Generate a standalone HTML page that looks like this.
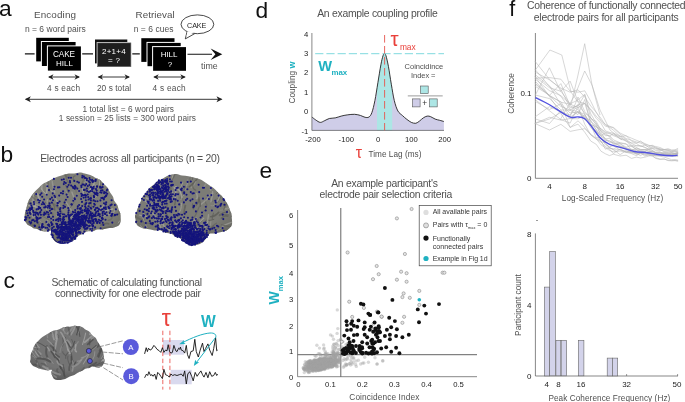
<!DOCTYPE html>
<html><head><meta charset="utf-8"><title>Figure 1</title>
<style>html,body{margin:0;padding:0;background:#fff}svg{display:block}</style></head>
<body>
<svg width="685" height="402" viewBox="0 0 685 402" font-family='"Liberation Sans", sans-serif'>
<rect width="685" height="402" fill="#fff"/>
<text x="-1" y="16.2" font-size="22.8" fill="#111" text-anchor="start" font-weight="normal" >a</text>
<text x="0.6" y="162.2" font-size="22.8" fill="#111" text-anchor="start" font-weight="normal" >b</text>
<text x="3.6" y="287.9" font-size="22.8" fill="#111" text-anchor="start" font-weight="normal" >c</text>
<text x="255.6" y="18.1" font-size="22.8" fill="#111" text-anchor="start" font-weight="normal" >d</text>
<text x="259.4" y="178.4" font-size="22.8" fill="#111" text-anchor="start" font-weight="normal" >e</text>
<text x="509.3" y="16.2" font-size="21.5" fill="#111" text-anchor="start" font-weight="normal" >f</text>
<text x="34" y="18.1" font-size="9.9" fill="#505050" font-weight="normal" textLength="42.0" lengthAdjust="spacing">Encoding</text>
<text x="24.9" y="31.7" font-size="8.5" fill="#505050" font-weight="normal" textLength="60.9" lengthAdjust="spacing">n = 6 word pairs</text>
<text x="135.6" y="18.1" font-size="9.8" fill="#505050" font-weight="normal" textLength="39.0" lengthAdjust="spacing">Retrieval</text>
<text x="133.7" y="31.9" font-size="8.5" fill="#505050" font-weight="normal" textLength="39.7" lengthAdjust="spacing">n = 6 cues</text>
<path d="M24.9 53.9H34.6M82.2 53.9H93M132.3 53.9H139.8M187.5 54.3H212" stroke="#151515" stroke-width="1.1" fill="none"/>
<path d="M222.3 54.3L210.6 48.6L215.4 54.3L210.6 60Z" fill="#111"/>
<rect x="35.2" y="36.8" width="34.6" height="25.6" fill="#fff"/><rect x="36.2" y="37.8" width="32.6" height="23.6" fill="#000"/>
<rect x="40.9" y="41" width="35.7" height="26.0" fill="#fff"/><rect x="41.9" y="42" width="33.7" height="24.0" fill="#000"/>
<rect x="46.9" y="45.4" width="35.0" height="26.2" fill="#fff"/><rect x="47.9" y="46.4" width="33.0" height="24.2" fill="#000"/>
<text x="52.9" y="56.7" font-size="8.2" fill="#fff" font-weight="normal" textLength="22.1" lengthAdjust="spacing">CAKE</text>
<text x="55.9" y="66" font-size="8" fill="#fff" font-weight="normal" textLength="17.1" lengthAdjust="spacing">HILL</text>
<rect x="94" y="38.5" width="34.3" height="25.9" fill="#fff"/><rect x="95" y="39.5" width="32.3" height="23.9" fill="#111"/>
<rect x="96.7" y="42" width="35.1" height="25.6" fill="#fff"/><rect x="97.6" y="42.9" width="33.3" height="23.8" fill="#1e1e1e" stroke="#6a6a6a" stroke-width="0.6"/>
<text x="102.1" y="53.6" font-size="8" fill="#fff" font-weight="normal" textLength="23.5" lengthAdjust="spacing">2+1+4</text>
<text x="107.9" y="62.9" font-size="8" fill="#fff" font-weight="normal" textLength="12.0" lengthAdjust="spacing">= ?</text>
<rect x="140.3" y="37.2" width="35.2" height="25.7" fill="#fff"/><rect x="141.3" y="38.2" width="33.2" height="23.7" fill="#000"/>
<rect x="146.5" y="41.9" width="35.2" height="25.3" fill="#fff"/><rect x="147.5" y="42.9" width="33.2" height="23.3" fill="#000"/>
<rect x="152.1" y="46.1" width="34.9" height="25.7" fill="#fff"/><rect x="153.1" y="47.1" width="32.9" height="23.7" fill="#000"/>
<text x="160.7" y="57" font-size="8" fill="#fff" font-weight="normal" textLength="16.7" lengthAdjust="spacing">HILL</text>
<text x="169.9" y="66.8" font-size="8" fill="#fff" text-anchor="middle" font-weight="normal" >?</text>
<text x="201.1" y="69.2" font-size="8.8" fill="#505050" font-weight="normal" textLength="16.5" lengthAdjust="spacing">time</text>
<path d="M187.1 31.5 L185.3 38.9 L194.8 33.6" fill="#fff" stroke="#1a1a1a" stroke-width="0.8" stroke-linejoin="round"/>
<ellipse cx="197.4" cy="24.3" rx="16.4" ry="9.4" fill="#fff" stroke="#1a1a1a" stroke-width="0.8"/>
<path d="M187.6 31 L186.4 36.6 L194 32.6Z" fill="#fff"/>
<text x="187.1" y="27.5" font-size="7.2" fill="#222" font-weight="normal" textLength="19.1" lengthAdjust="spacing">CAKE</text>
<path d="M49 77H79" stroke="#222" stroke-width="0.9"/>
<path d="M48 77L53.5 74.2L51.9 77L53.5 79.8Z M80 77L74.5 74.2L76.1 77L74.5 79.8Z" fill="#222"/>
<path d="M98.6 77H129" stroke="#222" stroke-width="0.9"/>
<path d="M97.6 77L103.1 74.2L101.5 77L103.1 79.8Z M130 77L124.5 74.2L126.1 77L124.5 79.8Z" fill="#222"/>
<path d="M154.2 77H184.8" stroke="#222" stroke-width="0.9"/>
<path d="M153.2 77L158.7 74.2L157.1 77L158.7 79.8Z M185.8 77L180.3 74.2L181.9 77L180.3 79.8Z" fill="#222"/>
<text x="47" y="90.5" font-size="8.3" fill="#505050" font-weight="normal" textLength="33.1" lengthAdjust="spacing">4 s each</text>
<text x="96.9" y="90.5" font-size="8.3" fill="#505050" font-weight="normal" textLength="34.3" lengthAdjust="spacing">20 s total</text>
<text x="152.5" y="90.5" font-size="8.3" fill="#505050" font-weight="normal" textLength="33.2" lengthAdjust="spacing">4 s each</text>
<path d="M25.8 99.3H221.5" stroke="#222" stroke-width="0.9"/>
<path d="M24.8 99.3L30.8 96.3L29.2 99.3L30.8 102.3Z M222.5 99.3L216.5 96.3L218.1 99.3L216.5 102.3Z" fill="#222"/>
<text x="82.4" y="111.8" font-size="8.3" fill="#505050" font-weight="normal" textLength="91.6" lengthAdjust="spacing">1 total list = 6 word pairs</text>
<text x="58.8" y="121.3" font-size="8.3" fill="#505050" font-weight="normal" textLength="137.2" lengthAdjust="spacing">1 session = 25 lists = 300 word pairs</text>
<text x="40.2" y="162.2" font-size="10.4" fill="#505050" font-weight="normal" textLength="179.8" lengthAdjust="spacing">Electrodes across all participants (n = 20)</text>
<clipPath id="bc1"><path d="M24.5 217.9C24.6 216.6 24.7 214.3 25.1 212.6C25.4 210.8 26.1 209.1 26.6 207.3C27.1 205.5 27.4 203.6 28.1 201.8C28.8 200.1 29.8 198.3 30.9 196.7C31.9 195.1 32.9 193.7 34.2 192.3C35.4 190.9 36.8 189.7 38.3 188.3C39.7 186.9 41.1 185.1 42.9 183.9C44.6 182.6 46.8 181.9 48.8 180.9C50.8 179.8 52.8 178.7 55.0 177.8C57.1 176.9 59.4 176.2 61.5 175.6C63.6 174.9 65.7 174.1 67.8 173.8C69.9 173.4 72.2 173.7 74.2 173.5C76.2 173.2 77.9 172.4 79.7 172.4C81.4 172.4 83.0 173.0 84.8 173.5C86.5 173.9 88.6 174.3 90.3 175.0C92.1 175.7 93.7 176.8 95.3 177.7C97.0 178.5 98.9 179.0 100.3 180.0C101.7 181.1 102.6 182.7 103.8 184.0C105.0 185.3 106.6 186.3 107.7 187.7C108.7 189.2 109.3 191.0 110.1 192.5C111.0 193.9 112.2 195.0 112.9 196.4C113.6 197.8 113.6 199.5 114.4 200.9C115.1 202.4 116.6 203.6 117.3 205.0C118.0 206.4 118.1 208.0 118.6 209.4C119.1 210.8 120.1 212.2 120.4 213.6C120.8 215.0 120.7 216.6 120.7 217.9C120.8 219.1 120.9 220.1 120.8 221.1C120.6 222.2 120.1 223.4 119.7 224.2C119.2 225.0 118.9 225.6 118.1 226.1C117.2 226.6 115.6 227.0 114.4 227.4C113.1 227.7 112.1 227.9 110.7 228.1C109.3 228.3 107.3 228.2 105.9 228.4C104.6 228.6 104.0 229.3 102.6 229.5C101.2 229.6 99.1 229.2 97.5 229.5C95.8 229.8 94.7 230.8 92.9 231.2C91.1 231.5 88.6 231.1 86.9 231.6C85.2 232.1 84.2 233.3 82.8 234.0C81.4 234.7 79.7 235.0 78.4 235.8C77.2 236.7 76.4 238.1 75.3 239.0C74.3 239.9 73.3 240.5 72.1 241.1C70.8 241.8 69.2 242.5 67.8 242.8C66.3 243.2 65.0 243.1 63.6 243.2C62.3 243.3 60.8 243.8 59.6 243.6C58.3 243.4 57.2 242.8 56.2 242.2C55.3 241.6 54.6 240.8 53.9 239.9C53.2 239.0 52.5 237.8 52.0 236.9C51.5 235.9 51.1 235.3 50.9 234.3C50.7 233.2 51.4 231.0 50.9 230.5C50.5 230.1 49.1 231.3 48.4 231.4C47.7 231.6 47.8 231.7 46.7 231.6C45.6 231.5 43.1 231.4 41.7 231.0C40.3 230.7 39.6 229.9 38.3 229.5C36.9 229.0 34.8 228.8 33.6 228.3C32.4 227.8 31.9 227.0 30.9 226.3C29.8 225.7 28.2 225.1 27.3 224.4C26.5 223.7 26.0 222.8 25.6 222.1C25.1 221.4 24.8 220.7 24.6 220.0C24.4 219.3 24.4 219.1 24.5 217.9Z"/></clipPath>
<radialGradient id="bg1" cx="0.5" cy="0.35" r="0.75"><stop offset="0" stop-color="#7f7f78"/><stop offset="0.6" stop-color="#7f7f78"/><stop offset="1" stop-color="#62625c"/></radialGradient>
<path d="M24.5 217.9C24.6 216.6 24.7 214.3 25.1 212.6C25.4 210.8 26.1 209.1 26.6 207.3C27.1 205.5 27.4 203.6 28.1 201.8C28.8 200.1 29.8 198.3 30.9 196.7C31.9 195.1 32.9 193.7 34.2 192.3C35.4 190.9 36.8 189.7 38.3 188.3C39.7 186.9 41.1 185.1 42.9 183.9C44.6 182.6 46.8 181.9 48.8 180.9C50.8 179.8 52.8 178.7 55.0 177.8C57.1 176.9 59.4 176.2 61.5 175.6C63.6 174.9 65.7 174.1 67.8 173.8C69.9 173.4 72.2 173.7 74.2 173.5C76.2 173.2 77.9 172.4 79.7 172.4C81.4 172.4 83.0 173.0 84.8 173.5C86.5 173.9 88.6 174.3 90.3 175.0C92.1 175.7 93.7 176.8 95.3 177.7C97.0 178.5 98.9 179.0 100.3 180.0C101.7 181.1 102.6 182.7 103.8 184.0C105.0 185.3 106.6 186.3 107.7 187.7C108.7 189.2 109.3 191.0 110.1 192.5C111.0 193.9 112.2 195.0 112.9 196.4C113.6 197.8 113.6 199.5 114.4 200.9C115.1 202.4 116.6 203.6 117.3 205.0C118.0 206.4 118.1 208.0 118.6 209.4C119.1 210.8 120.1 212.2 120.4 213.6C120.8 215.0 120.7 216.6 120.7 217.9C120.8 219.1 120.9 220.1 120.8 221.1C120.6 222.2 120.1 223.4 119.7 224.2C119.2 225.0 118.9 225.6 118.1 226.1C117.2 226.6 115.6 227.0 114.4 227.4C113.1 227.7 112.1 227.9 110.7 228.1C109.3 228.3 107.3 228.2 105.9 228.4C104.6 228.6 104.0 229.3 102.6 229.5C101.2 229.6 99.1 229.2 97.5 229.5C95.8 229.8 94.7 230.8 92.9 231.2C91.1 231.5 88.6 231.1 86.9 231.6C85.2 232.1 84.2 233.3 82.8 234.0C81.4 234.7 79.7 235.0 78.4 235.8C77.2 236.7 76.4 238.1 75.3 239.0C74.3 239.9 73.3 240.5 72.1 241.1C70.8 241.8 69.2 242.5 67.8 242.8C66.3 243.2 65.0 243.1 63.6 243.2C62.3 243.3 60.8 243.8 59.6 243.6C58.3 243.4 57.2 242.8 56.2 242.2C55.3 241.6 54.6 240.8 53.9 239.9C53.2 239.0 52.5 237.8 52.0 236.9C51.5 235.9 51.1 235.3 50.9 234.3C50.7 233.2 51.4 231.0 50.9 230.5C50.5 230.1 49.1 231.3 48.4 231.4C47.7 231.6 47.8 231.7 46.7 231.6C45.6 231.5 43.1 231.4 41.7 231.0C40.3 230.7 39.6 229.9 38.3 229.5C36.9 229.0 34.8 228.8 33.6 228.3C32.4 227.8 31.9 227.0 30.9 226.3C29.8 225.7 28.2 225.1 27.3 224.4C26.5 223.7 26.0 222.8 25.6 222.1C25.1 221.4 24.8 220.7 24.6 220.0C24.4 219.3 24.4 219.1 24.5 217.9Z" fill="url(#bg1)"/>
<g clip-path="url(#bc1)" fill="none" stroke-linecap="round">
<path d="M80.4 186.3Q84.6 182.7 89.1 177.5" stroke="#a6a69f" stroke-width="0.9" opacity="0.55"/>
<path d="M52.3 221.7Q44.5 217.1 41.1 215.6" stroke="#62625c" stroke-width="0.8" opacity="0.80"/>
<path d="M59.8 206.0Q56.8 200.4 54.8 197.7" stroke="#a6a69f" stroke-width="1.1" opacity="0.59"/>
<path d="M35.2 231.0Q33.2 227.4 27.3 224.8" stroke="#62625c" stroke-width="1.1" opacity="0.64"/>
<path d="M63.5 220.0Q60.2 217.1 56.5 215.7" stroke="#a6a69f" stroke-width="0.7" opacity="0.77"/>
<path d="M25.4 212.6Q21.7 210.1 21.2 211.9" stroke="#62625c" stroke-width="0.9" opacity="0.76"/>
<path d="M94.6 198.2Q97.0 196.8 99.5 191.6" stroke="#a6a69f" stroke-width="1.0" opacity="0.84"/>
<path d="M91.0 221.1Q88.5 217.9 90.6 216.3" stroke="#62625c" stroke-width="1.6" opacity="0.84"/>
<path d="M105.2 180.9Q110.5 178.3 112.6 172.8" stroke="#a6a69f" stroke-width="0.8" opacity="0.53"/>
<path d="M100.8 225.0Q106.7 222.6 108.7 223.9" stroke="#62625c" stroke-width="1.7" opacity="0.85"/>
<path d="M57.0 177.2Q55.5 170.0 55.5 167.2" stroke="#a6a69f" stroke-width="1.0" opacity="0.82"/>
<path d="M33.2 239.1Q28.4 241.9 27.5 239.9" stroke="#62625c" stroke-width="1.6" opacity="0.59"/>
<path d="M33.7 218.9Q33.6 218.8 32.1 215.1" stroke="#a6a69f" stroke-width="1.2" opacity="0.71"/>
<path d="M101.9 189.4Q102.9 184.7 103.4 179.6" stroke="#62625c" stroke-width="1.0" opacity="0.87"/>
<path d="M52.2 220.7Q49.6 215.5 51.5 213.2" stroke="#a6a69f" stroke-width="0.8" opacity="0.52"/>
<path d="M36.1 196.8Q34.0 194.9 30.3 191.2" stroke="#62625c" stroke-width="1.4" opacity="0.61"/>
<path d="M88.3 211.5Q86.9 208.0 87.3 202.7" stroke="#a6a69f" stroke-width="1.4" opacity="0.56"/>
<path d="M66.4 204.8Q63.2 205.3 64.6 200.8" stroke="#62625c" stroke-width="1.4" opacity="0.65"/>
<path d="M88.7 191.6Q93.5 186.1 95.5 181.0" stroke="#a6a69f" stroke-width="1.7" opacity="0.86"/>
<path d="M30.1 201.7Q28.3 197.7 25.4 197.3" stroke="#62625c" stroke-width="1.4" opacity="0.84"/>
<path d="M30.4 221.7Q26.6 223.0 20.9 219.5" stroke="#a6a69f" stroke-width="1.5" opacity="0.60"/>
<path d="M94.8 182.9Q95.9 178.4 99.3 176.6" stroke="#62625c" stroke-width="0.9" opacity="0.81"/>
<path d="M33.8 189.0Q32.6 188.0 29.2 186.1" stroke="#a6a69f" stroke-width="1.4" opacity="0.86"/>
<path d="M67.7 175.1Q66.7 173.4 63.5 167.5" stroke="#62625c" stroke-width="1.2" opacity="0.55"/>
<path d="M81.6 238.9Q86.9 234.1 88.2 228.5" stroke="#a6a69f" stroke-width="1.2" opacity="0.51"/>
<path d="M35.1 175.3Q36.0 170.9 31.8 165.5" stroke="#62625c" stroke-width="1.7" opacity="0.63"/>
<path d="M37.4 176.7Q36.8 172.5 31.4 170.3" stroke="#a6a69f" stroke-width="0.9" opacity="0.78"/>
<path d="M61.9 212.2Q59.9 209.3 53.7 203.9" stroke="#62625c" stroke-width="1.6" opacity="0.60"/>
<path d="M27.6 194.1Q25.6 188.3 26.5 186.0" stroke="#a6a69f" stroke-width="0.9" opacity="0.65"/>
<path d="M113.6 235.3Q117.5 237.1 124.4 236.1" stroke="#62625c" stroke-width="0.9" opacity="0.69"/>
<path d="M27.7 235.9Q24.0 237.9 18.7 238.4" stroke="#a6a69f" stroke-width="1.4" opacity="0.62"/>
<path d="M100.8 239.2Q108.9 236.2 113.5 237.6" stroke="#62625c" stroke-width="1.4" opacity="0.49"/>
<path d="M88.2 198.8Q92.0 195.0 91.3 195.8" stroke="#a6a69f" stroke-width="0.8" opacity="0.45"/>
<path d="M36.6 242.6Q30.0 240.0 26.5 235.6" stroke="#62625c" stroke-width="1.5" opacity="0.78"/>
<path d="M50.5 241.5Q45.2 238.2 42.0 235.9" stroke="#a6a69f" stroke-width="1.5" opacity="0.68"/>
<path d="M71.5 237.9Q67.9 232.3 68.8 226.4" stroke="#62625c" stroke-width="1.4" opacity="0.45"/>
<path d="M91.5 192.8Q92.1 190.8 96.2 184.4" stroke="#a6a69f" stroke-width="0.9" opacity="0.51"/>
<path d="M67.1 177.0Q61.9 172.8 60.7 168.3" stroke="#62625c" stroke-width="1.6" opacity="0.65"/>
<path d="M102.9 231.5Q105.7 231.4 105.6 227.7" stroke="#a6a69f" stroke-width="1.6" opacity="0.77"/>
<path d="M73.6 240.6Q78.1 233.5 78.5 230.9" stroke="#62625c" stroke-width="1.4" opacity="0.71"/>
<path d="M25.7 190.6Q24.4 185.5 22.4 182.5" stroke="#a6a69f" stroke-width="1.3" opacity="0.85"/>
<path d="M118.8 211.7Q119.3 211.2 123.3 210.2" stroke="#62625c" stroke-width="1.5" opacity="0.50"/>
<path d="M38.7 208.0Q34.8 206.2 34.3 205.1" stroke="#a6a69f" stroke-width="1.5" opacity="0.53"/>
<path d="M102.1 177.7Q99.9 171.9 102.6 167.7" stroke="#62625c" stroke-width="0.9" opacity="0.55"/>
<path d="M109.9 183.8Q113.1 181.5 118.9 175.6" stroke="#a6a69f" stroke-width="1.0" opacity="0.80"/>
<path d="M80.4 197.4Q82.8 193.8 87.0 189.5" stroke="#62625c" stroke-width="1.0" opacity="0.58"/>
<path d="M114.8 241.8Q120.9 235.9 124.8 234.8" stroke="#a6a69f" stroke-width="0.8" opacity="0.65"/>
<path d="M109.9 234.6Q115.2 230.6 116.1 229.5" stroke="#62625c" stroke-width="0.8" opacity="0.64"/>
<path d="M90.0 234.5Q90.4 232.4 94.1 234.0" stroke="#a6a69f" stroke-width="1.3" opacity="0.63"/>
<path d="M113.3 216.2Q116.3 215.8 122.2 211.4" stroke="#62625c" stroke-width="1.6" opacity="0.82"/>
<path d="M99.8 184.7Q100.1 179.7 98.3 177.6" stroke="#a6a69f" stroke-width="1.6" opacity="0.84"/>
<path d="M91.6 206.9Q89.6 201.2 91.0 195.6" stroke="#62625c" stroke-width="1.5" opacity="0.74"/>
<path d="M47.2 235.0Q43.1 235.2 39.6 233.4" stroke="#a6a69f" stroke-width="0.7" opacity="0.74"/>
<path d="M71.5 229.4Q72.6 222.8 69.2 220.6" stroke="#62625c" stroke-width="1.5" opacity="0.66"/>
<path d="M53.4 192.0Q48.0 190.0 45.7 183.3" stroke="#a6a69f" stroke-width="1.2" opacity="0.58"/>
<path d="M99.9 213.8Q103.3 210.5 104.9 211.9" stroke="#62625c" stroke-width="0.9" opacity="0.64"/>
<path d="M54.7 192.5Q53.1 187.4 52.3 182.1" stroke="#a6a69f" stroke-width="1.5" opacity="0.55"/>
<path d="M120.6 174.1Q121.4 168.0 125.0 163.6" stroke="#62625c" stroke-width="0.9" opacity="0.89"/>
<path d="M108.8 178.2Q107.8 174.5 111.6 173.6" stroke="#a6a69f" stroke-width="1.4" opacity="0.69"/>
<path d="M52.2 213.7Q47.0 213.8 45.8 210.7" stroke="#62625c" stroke-width="1.1" opacity="0.77"/>
<path d="M56.8 202.0Q56.3 200.3 55.4 195.8" stroke="#a6a69f" stroke-width="0.8" opacity="0.54"/>
<path d="M26.5 207.2Q20.5 206.6 17.9 205.7" stroke="#62625c" stroke-width="1.0" opacity="0.79"/>
<path d="M103.0 240.7Q110.6 238.2 114.6 237.4" stroke="#a6a69f" stroke-width="1.7" opacity="0.88"/>
<path d="M39.7 225.9Q37.5 221.2 33.3 218.8" stroke="#62625c" stroke-width="1.5" opacity="0.77"/>
<path d="M42.2 241.1Q37.9 238.3 38.3 238.9" stroke="#a6a69f" stroke-width="1.4" opacity="0.78"/>
<path d="M114.1 235.3Q114.3 232.9 118.5 231.6" stroke="#62625c" stroke-width="1.1" opacity="0.62"/>
<path d="M103.5 216.0Q110.3 214.0 114.5 211.8" stroke="#a6a69f" stroke-width="1.1" opacity="0.69"/>
<path d="M68.8 220.0Q69.3 215.6 72.3 210.6" stroke="#62625c" stroke-width="1.2" opacity="0.51"/>
<path d="M34.7 204.5Q31.9 201.5 33.6 194.2" stroke="#a6a69f" stroke-width="1.4" opacity="0.72"/>
<path d="M25.1 194.5Q19.8 192.8 18.3 189.7" stroke="#62625c" stroke-width="1.3" opacity="0.74"/>
<path d="M72.1 212.1Q70.9 209.0 66.0 202.4" stroke="#a6a69f" stroke-width="1.5" opacity="0.56"/>
<path d="M52.8 176.1Q55.7 170.7 54.3 164.4" stroke="#62625c" stroke-width="1.5" opacity="0.83"/>
<path d="M36.1 177.3Q37.5 171.5 36.7 164.6" stroke="#a6a69f" stroke-width="1.1" opacity="0.84"/>
<path d="M51.9 176.3Q53.4 174.8 52.6 171.8" stroke="#62625c" stroke-width="0.8" opacity="0.65"/>
<path d="M50.7 229.9Q47.3 226.0 47.4 223.8" stroke="#a6a69f" stroke-width="1.1" opacity="0.72"/>
<path d="M115.7 195.3Q116.3 191.7 117.6 185.8" stroke="#62625c" stroke-width="1.4" opacity="0.70"/>
<path d="M103.0 186.4Q105.1 184.8 107.3 182.7" stroke="#a6a69f" stroke-width="1.2" opacity="0.50"/>
<path d="M68.7 192.4Q66.8 187.3 65.8 185.2" stroke="#62625c" stroke-width="1.4" opacity="0.87"/>
<path d="M115.8 185.3Q117.1 182.5 117.5 177.8" stroke="#a6a69f" stroke-width="1.3" opacity="0.67"/>
<path d="M120.6 240.8Q125.0 239.4 126.6 242.6" stroke="#62625c" stroke-width="1.6" opacity="0.77"/>
<path d="M113.6 202.6Q118.4 199.4 118.9 199.4" stroke="#a6a69f" stroke-width="0.7" opacity="0.58"/>
<path d="M88.5 210.7Q93.6 209.5 96.0 203.8" stroke="#62625c" stroke-width="0.8" opacity="0.50"/>
<path d="M52.3 181.9Q49.5 176.8 49.9 171.7" stroke="#a6a69f" stroke-width="0.9" opacity="0.46"/>
<path d="M50.0 191.3Q47.1 184.9 48.5 178.7" stroke="#62625c" stroke-width="1.2" opacity="0.73"/>
<path d="M38.8 240.5Q33.8 241.3 29.6 241.5" stroke="#a6a69f" stroke-width="1.6" opacity="0.73"/>
<path d="M57.3 240.2Q51.9 238.9 44.7 240.2" stroke="#62625c" stroke-width="1.7" opacity="0.84"/>
<path d="M73.5 230.0Q71.7 229.4 70.2 224.4" stroke="#a6a69f" stroke-width="1.1" opacity="0.90"/>
<path d="M80.3 223.5Q84.1 222.0 83.7 219.6" stroke="#62625c" stroke-width="0.8" opacity="0.52"/>
<path d="M101.4 212.4Q107.3 210.3 112.7 209.1" stroke="#a6a69f" stroke-width="1.5" opacity="0.89"/>
<path d="M54.0 209.4Q50.0 207.5 50.4 207.0" stroke="#62625c" stroke-width="1.3" opacity="0.84"/>
<path d="M96.7 241.0Q100.6 237.0 106.3 234.3" stroke="#a6a69f" stroke-width="1.2" opacity="0.90"/>
<path d="M69.2 176.6Q69.1 170.4 67.1 167.7" stroke="#62625c" stroke-width="1.0" opacity="0.52"/>
<path d="M73.9 200.4Q74.2 196.8 71.9 192.1" stroke="#a6a69f" stroke-width="1.4" opacity="0.63"/>
<path d="M113.7 180.7Q113.4 177.4 113.4 175.9" stroke="#62625c" stroke-width="0.9" opacity="0.45"/>
<path d="M100.3 176.6Q102.4 171.6 107.0 165.8" stroke="#a6a69f" stroke-width="1.6" opacity="0.65"/>
<path d="M113.0 174.9Q116.1 172.0 119.3 165.9" stroke="#62625c" stroke-width="1.7" opacity="0.83"/>
<path d="M70.6 221.6Q70.4 215.8 74.7 212.9" stroke="#a6a69f" stroke-width="1.3" opacity="0.50"/>
<path d="M39.8 241.6Q35.2 241.8 27.1 239.2" stroke="#62625c" stroke-width="1.1" opacity="0.56"/>
<path d="M30.9 188.2Q26.4 184.1 25.4 180.5" stroke="#a6a69f" stroke-width="1.1" opacity="0.85"/>
<path d="M53.2 232.0Q48.2 226.1 45.3 222.5" stroke="#62625c" stroke-width="1.2" opacity="0.57"/>
<path d="M82.5 240.2Q82.6 239.2 87.2 237.0" stroke="#a6a69f" stroke-width="1.1" opacity="0.45"/>
<path d="M59.9 229.2Q60.8 228.4 57.0 222.8" stroke="#62625c" stroke-width="0.7" opacity="0.55"/>
<path d="M83.2 196.6Q84.1 191.1 81.0 185.6" stroke="#a6a69f" stroke-width="1.7" opacity="0.71"/>
<path d="M85.1 209.1Q89.1 204.4 93.1 200.0" stroke="#62625c" stroke-width="1.5" opacity="0.83"/>
<path d="M87.9 183.8Q84.6 179.6 85.8 176.8" stroke="#a6a69f" stroke-width="1.1" opacity="0.51"/>
<path d="M38.4 217.8Q38.6 214.5 36.5 212.1" stroke="#62625c" stroke-width="0.7" opacity="0.87"/>
<path d="M35.2 206.7Q31.2 205.6 28.7 205.7" stroke="#a6a69f" stroke-width="1.2" opacity="0.89"/>
<path d="M83.5 204.5Q87.1 201.2 88.8 198.4" stroke="#62625c" stroke-width="1.4" opacity="0.49"/>
<path d="M41.2 222.1Q37.0 219.5 37.4 215.9" stroke="#a6a69f" stroke-width="0.8" opacity="0.62"/>
<path d="M102.3 229.4Q105.9 226.8 107.2 228.9" stroke="#62625c" stroke-width="1.7" opacity="0.78"/>
<path d="M98.9 233.5Q106.5 231.1 109.8 233.0" stroke="#a6a69f" stroke-width="0.8" opacity="0.77"/>
<path d="M35.9 229.6Q28.8 228.0 25.7 226.0" stroke="#62625c" stroke-width="1.4" opacity="0.78"/>
<path d="M41.9 189.6Q41.9 181.6 41.9 178.5" stroke="#a6a69f" stroke-width="1.4" opacity="0.79"/>
<path d="M86.9 241.7Q91.2 239.4 98.0 239.3" stroke="#62625c" stroke-width="1.7" opacity="0.90"/>
<path d="M34.9 216.8Q31.5 212.2 29.3 209.1" stroke="#a6a69f" stroke-width="1.6" opacity="0.51"/>
<path d="M33.1 225.6Q29.7 227.1 25.8 226.9" stroke="#62625c" stroke-width="1.0" opacity="0.74"/>
<path d="M87.7 230.8Q91.4 228.1 95.6 221.2" stroke="#a6a69f" stroke-width="1.1" opacity="0.78"/>
<path d="M52.6 217.1Q53.4 212.8 51.5 212.7" stroke="#62625c" stroke-width="1.5" opacity="0.51"/>
<path d="M47.6 194.8Q43.5 193.1 41.0 188.1" stroke="#a6a69f" stroke-width="1.1" opacity="0.80"/>
<path d="M54.9 210.2Q55.2 207.4 52.7 203.4" stroke="#62625c" stroke-width="1.3" opacity="0.75"/>
<path d="M46.5 195.3Q46.7 192.7 47.2 185.1" stroke="#a6a69f" stroke-width="1.6" opacity="0.77"/>
<path d="M36.1 200.2Q31.8 196.9 29.6 194.0" stroke="#62625c" stroke-width="1.6" opacity="0.50"/>
<path d="M32.9 210.2Q28.0 211.2 25.7 209.6" stroke="#a6a69f" stroke-width="0.9" opacity="0.69"/>
<path d="M108.2 220.4Q112.4 219.7 112.1 216.3" stroke="#62625c" stroke-width="1.4" opacity="0.57"/>
<path d="M47.7 234.5Q43.3 230.9 40.9 225.2" stroke="#a6a69f" stroke-width="1.5" opacity="0.85"/>
<path d="M93.1 177.1Q93.5 173.2 90.9 170.9" stroke="#62625c" stroke-width="0.7" opacity="0.66"/>
<path d="M40.1 201.8Q39.0 197.8 37.4 193.7" stroke="#a6a69f" stroke-width="1.7" opacity="0.87"/>
<path d="M73.7 180.9Q72.0 176.3 75.2 175.8" stroke="#62625c" stroke-width="1.1" opacity="0.84"/>
<path d="M72.4 227.9Q72.7 223.8 72.8 217.4" stroke="#a6a69f" stroke-width="1.1" opacity="0.57"/>
<path d="M101.1 228.4Q107.5 227.8 111.0 226.5" stroke="#62625c" stroke-width="1.4" opacity="0.76"/>
<path d="M63.1 175.1Q64.4 169.3 67.6 164.1" stroke="#a6a69f" stroke-width="0.8" opacity="0.87"/>
<path d="M31.9 203.2Q27.1 203.6 20.3 201.3" stroke="#62625c" stroke-width="1.3" opacity="0.76"/>
<path d="M111.7 178.7Q112.0 174.1 112.6 173.8" stroke="#a6a69f" stroke-width="1.3" opacity="0.72"/>
<path d="M93.8 231.3Q94.1 229.3 95.1 227.2" stroke="#62625c" stroke-width="1.4" opacity="0.60"/>
<path d="M114.7 210.4Q120.5 208.2 122.1 203.6" stroke="#a6a69f" stroke-width="1.6" opacity="0.53"/>
<path d="M34.9 174.1Q31.7 169.6 31.5 164.1" stroke="#62625c" stroke-width="0.9" opacity="0.72"/>
<path d="M119.0 234.6Q119.6 233.5 122.7 232.1" stroke="#a6a69f" stroke-width="1.0" opacity="0.65"/>
<path d="M74.1 237.3Q73.0 233.8 73.7 229.7" stroke="#62625c" stroke-width="0.9" opacity="0.68"/>
<path d="M74.2 229.4Q74.4 223.2 76.1 217.2" stroke="#a6a69f" stroke-width="1.1" opacity="0.45"/>
<path d="M94.2 222.2Q98.1 223.1 98.5 221.2" stroke="#62625c" stroke-width="1.6" opacity="0.51"/>
<path d="M49.8 224.8Q46.2 225.0 47.2 220.6" stroke="#a6a69f" stroke-width="1.4" opacity="0.62"/>
<path d="M69.7 184.2Q65.6 180.4 65.5 172.3" stroke="#62625c" stroke-width="1.5" opacity="0.62"/>
<path d="M97.5 211.3Q100.4 210.4 104.1 204.9" stroke="#a6a69f" stroke-width="1.5" opacity="0.63"/>
<path d="M76.3 192.3Q76.6 188.0 73.4 186.5" stroke="#62625c" stroke-width="1.0" opacity="0.47"/>
<path d="M118.8 191.0Q118.1 187.5 121.4 180.9" stroke="#a6a69f" stroke-width="1.4" opacity="0.47"/>
<path d="M100.4 187.8Q101.8 181.7 99.0 177.1" stroke="#62625c" stroke-width="1.0" opacity="0.68"/>
<path d="M100.0 241.6Q103.6 243.6 107.5 241.9" stroke="#a6a69f" stroke-width="1.0" opacity="0.62"/>
<path d="M42.7 242.4Q41.5 243.0 37.6 239.1" stroke="#62625c" stroke-width="1.0" opacity="0.60"/>
<path d="M51.6 233.0Q46.0 231.3 41.6 227.0" stroke="#a6a69f" stroke-width="1.7" opacity="0.67"/>
<path d="M42.0 235.1Q41.9 234.3 38.1 228.6" stroke="#62625c" stroke-width="1.7" opacity="0.85"/>
<path d="M68.3 195.6Q65.8 191.1 65.5 190.0" stroke="#a6a69f" stroke-width="0.7" opacity="0.59"/>
<path d="M35.7 226.0Q30.7 222.3 23.9 221.0" stroke="#62625c" stroke-width="1.4" opacity="0.72"/>
<path d="M118.1 223.0Q119.6 220.1 121.9 219.0" stroke="#a6a69f" stroke-width="0.9" opacity="0.81"/>
<path d="M53.6 209.3Q49.0 204.7 47.7 201.6" stroke="#62625c" stroke-width="1.0" opacity="0.71"/>
<path d="M79.7 233.8Q82.2 234.0 82.2 230.7" stroke="#a6a69f" stroke-width="1.6" opacity="0.55"/>
<path d="M80.8 185.6Q84.2 180.6 84.0 175.5" stroke="#62625c" stroke-width="1.3" opacity="0.58"/>
<path d="M33.7 202.6Q27.8 200.0 24.4 198.5" stroke="#a6a69f" stroke-width="0.7" opacity="0.59"/>
<path d="M105.9 180.6Q110.5 176.6 110.7 171.1" stroke="#62625c" stroke-width="0.7" opacity="0.79"/>
<path d="M106.4 232.5Q112.9 232.0 116.9 232.3" stroke="#a6a69f" stroke-width="0.8" opacity="0.55"/>
<path d="M69.8 208.3Q71.5 206.6 74.0 202.4" stroke="#62625c" stroke-width="1.0" opacity="0.62"/>
<path d="M41.4 207.1Q36.8 203.6 32.7 203.3" stroke="#a6a69f" stroke-width="1.0" opacity="0.72"/>
<path d="M55.4 241.9Q54.2 237.5 51.2 235.7" stroke="#62625c" stroke-width="0.9" opacity="0.80"/>
<path d="M114.4 189.7Q114.4 183.7 117.8 180.7" stroke="#a6a69f" stroke-width="1.2" opacity="0.65"/>
<path d="M50.6 207.5Q49.3 205.3 45.1 202.2" stroke="#62625c" stroke-width="1.1" opacity="0.66"/>
<path d="M117.6 241.4Q122.2 243.5 127.5 245.5" stroke="#a6a69f" stroke-width="0.8" opacity="0.88"/>
<path d="M41.4 177.6Q42.0 174.2 40.2 172.8" stroke="#62625c" stroke-width="1.4" opacity="0.70"/>
<path d="M37.4 209.2Q34.6 206.8 35.5 205.7" stroke="#a6a69f" stroke-width="1.3" opacity="0.63"/>
<path d="M63.4 219.8Q61.2 219.4 59.2 214.7" stroke="#62625c" stroke-width="1.1" opacity="0.48"/>
<path d="M46.7 209.5Q47.2 203.3 47.3 199.7" stroke="#a6a69f" stroke-width="1.0" opacity="0.84"/>
<path d="M119.0 198.7Q124.3 194.7 127.4 192.8" stroke="#62625c" stroke-width="0.9" opacity="0.62"/>
</g>
<clipPath id="bc2"><path d="M135.6 220.0C135.5 218.9 134.8 217.2 135.0 215.8C135.2 214.4 136.1 213.1 136.6 211.5C137.2 209.9 137.7 207.9 138.4 206.2C139.1 204.4 140.1 202.6 140.9 200.9C141.6 199.3 141.8 197.8 142.7 196.4C143.6 195.0 145.0 193.9 146.1 192.5C147.3 191.1 148.4 189.2 149.8 187.8C151.2 186.4 153.2 185.2 154.6 184.0C156.0 182.8 156.8 181.4 158.2 180.5C159.6 179.7 161.6 179.5 163.1 178.7C164.5 178.0 165.6 176.8 167.0 176.1C168.4 175.4 169.9 174.9 171.5 174.5C173.1 174.2 174.8 173.8 176.6 174.0C178.4 174.2 180.1 175.2 182.1 175.6C184.1 175.9 186.4 175.9 188.5 176.2C190.6 176.6 192.6 177.1 194.8 177.7C197.0 178.3 199.5 178.8 201.6 179.9C203.7 180.9 205.5 182.7 207.5 184.0C209.4 185.4 211.4 186.4 213.2 187.8C215.0 189.2 216.5 191.0 218.0 192.5C219.5 193.9 220.9 195.1 222.1 196.5C223.4 197.9 224.4 199.5 225.4 200.9C226.4 202.4 227.4 203.6 228.1 205.1C228.8 206.5 229.1 208.0 229.7 209.4C230.2 210.8 231.2 212.2 231.5 213.6C231.9 215.0 231.7 216.5 231.8 217.9C231.9 219.2 232.1 220.4 232.1 221.6C232.1 222.8 232.2 224.2 231.8 225.3C231.4 226.3 230.6 227.2 229.7 228.1C228.8 229.0 227.7 229.9 226.5 230.5C225.3 231.1 223.9 231.4 222.5 231.7C221.1 232.1 219.4 232.4 218.0 232.7C216.6 232.9 215.5 233.2 214.1 233.4C212.7 233.5 210.5 233.3 209.6 233.7C208.6 234.2 208.8 235.4 208.3 236.1C207.8 236.8 207.1 237.1 206.4 237.9C205.7 238.7 204.9 240.1 204.0 241.0C203.2 241.9 202.3 242.6 201.1 243.2C200.0 243.9 198.5 244.4 197.1 244.8C195.7 245.1 193.9 245.3 192.7 245.3C191.4 245.4 190.7 245.5 189.6 245.2C188.6 244.8 187.4 243.9 186.3 243.2C185.2 242.6 184.2 242.1 183.1 241.2C182.1 240.3 181.3 238.7 180.0 237.9C178.7 237.2 176.8 237.5 175.4 236.7C174.0 236.0 173.2 234.4 171.5 233.7C169.9 233.1 167.3 233.4 165.5 232.9C163.8 232.3 162.7 230.9 160.9 230.5C159.2 230.1 156.5 230.7 154.8 230.5C153.0 230.3 152.1 229.8 150.4 229.5C148.7 229.2 146.2 229.1 144.6 228.8C143.0 228.4 142.0 227.8 140.9 227.4C139.8 226.9 138.7 226.5 138.0 226.0C137.3 225.4 137.1 224.8 136.6 224.2C136.2 223.6 135.4 222.9 135.3 222.2C135.1 221.5 135.6 221.0 135.6 220.0Z"/></clipPath>
<radialGradient id="bg2" cx="0.5" cy="0.35" r="0.75"><stop offset="0" stop-color="#7c7c76"/><stop offset="0.6" stop-color="#7c7c76"/><stop offset="1" stop-color="#5e5e58"/></radialGradient>
<path d="M135.6 220.0C135.5 218.9 134.8 217.2 135.0 215.8C135.2 214.4 136.1 213.1 136.6 211.5C137.2 209.9 137.7 207.9 138.4 206.2C139.1 204.4 140.1 202.6 140.9 200.9C141.6 199.3 141.8 197.8 142.7 196.4C143.6 195.0 145.0 193.9 146.1 192.5C147.3 191.1 148.4 189.2 149.8 187.8C151.2 186.4 153.2 185.2 154.6 184.0C156.0 182.8 156.8 181.4 158.2 180.5C159.6 179.7 161.6 179.5 163.1 178.7C164.5 178.0 165.6 176.8 167.0 176.1C168.4 175.4 169.9 174.9 171.5 174.5C173.1 174.2 174.8 173.8 176.6 174.0C178.4 174.2 180.1 175.2 182.1 175.6C184.1 175.9 186.4 175.9 188.5 176.2C190.6 176.6 192.6 177.1 194.8 177.7C197.0 178.3 199.5 178.8 201.6 179.9C203.7 180.9 205.5 182.7 207.5 184.0C209.4 185.4 211.4 186.4 213.2 187.8C215.0 189.2 216.5 191.0 218.0 192.5C219.5 193.9 220.9 195.1 222.1 196.5C223.4 197.9 224.4 199.5 225.4 200.9C226.4 202.4 227.4 203.6 228.1 205.1C228.8 206.5 229.1 208.0 229.7 209.4C230.2 210.8 231.2 212.2 231.5 213.6C231.9 215.0 231.7 216.5 231.8 217.9C231.9 219.2 232.1 220.4 232.1 221.6C232.1 222.8 232.2 224.2 231.8 225.3C231.4 226.3 230.6 227.2 229.7 228.1C228.8 229.0 227.7 229.9 226.5 230.5C225.3 231.1 223.9 231.4 222.5 231.7C221.1 232.1 219.4 232.4 218.0 232.7C216.6 232.9 215.5 233.2 214.1 233.4C212.7 233.5 210.5 233.3 209.6 233.7C208.6 234.2 208.8 235.4 208.3 236.1C207.8 236.8 207.1 237.1 206.4 237.9C205.7 238.7 204.9 240.1 204.0 241.0C203.2 241.9 202.3 242.6 201.1 243.2C200.0 243.9 198.5 244.4 197.1 244.8C195.7 245.1 193.9 245.3 192.7 245.3C191.4 245.4 190.7 245.5 189.6 245.2C188.6 244.8 187.4 243.9 186.3 243.2C185.2 242.6 184.2 242.1 183.1 241.2C182.1 240.3 181.3 238.7 180.0 237.9C178.7 237.2 176.8 237.5 175.4 236.7C174.0 236.0 173.2 234.4 171.5 233.7C169.9 233.1 167.3 233.4 165.5 232.9C163.8 232.3 162.7 230.9 160.9 230.5C159.2 230.1 156.5 230.7 154.8 230.5C153.0 230.3 152.1 229.8 150.4 229.5C148.7 229.2 146.2 229.1 144.6 228.8C143.0 228.4 142.0 227.8 140.9 227.4C139.8 226.9 138.7 226.5 138.0 226.0C137.3 225.4 137.1 224.8 136.6 224.2C136.2 223.6 135.4 222.9 135.3 222.2C135.1 221.5 135.6 221.0 135.6 220.0Z" fill="url(#bg2)"/>
<g clip-path="url(#bc2)" fill="none" stroke-linecap="round">
<path d="M149.4 218.0Q144.9 215.9 139.4 215.1" stroke="#a3a39c" stroke-width="1.3" opacity="0.70"/>
<path d="M139.2 211.8Q138.3 209.7 133.6 205.2" stroke="#5e5e58" stroke-width="1.1" opacity="0.55"/>
<path d="M147.4 231.8Q143.6 228.7 140.3 225.6" stroke="#a3a39c" stroke-width="0.9" opacity="0.69"/>
<path d="M149.1 218.3Q144.8 212.3 143.0 210.4" stroke="#5e5e58" stroke-width="1.0" opacity="0.76"/>
<path d="M184.5 227.3Q186.4 221.9 184.1 219.8" stroke="#a3a39c" stroke-width="0.9" opacity="0.71"/>
<path d="M196.3 204.9Q198.6 203.1 199.1 197.4" stroke="#5e5e58" stroke-width="1.5" opacity="0.74"/>
<path d="M180.7 241.6Q180.5 238.1 176.6 232.9" stroke="#a3a39c" stroke-width="1.1" opacity="0.78"/>
<path d="M193.3 239.3Q199.2 236.8 200.4 234.1" stroke="#5e5e58" stroke-width="1.1" opacity="0.87"/>
<path d="M226.7 186.3Q228.6 179.9 226.7 174.6" stroke="#a3a39c" stroke-width="1.0" opacity="0.76"/>
<path d="M226.3 189.2Q227.5 184.5 231.4 180.7" stroke="#5e5e58" stroke-width="0.8" opacity="0.67"/>
<path d="M157.3 179.8Q154.1 175.7 154.7 175.1" stroke="#a3a39c" stroke-width="1.1" opacity="0.59"/>
<path d="M205.7 203.6Q205.0 202.0 206.2 197.9" stroke="#5e5e58" stroke-width="0.9" opacity="0.66"/>
<path d="M213.3 233.2Q219.0 228.8 223.2 227.1" stroke="#a3a39c" stroke-width="0.8" opacity="0.53"/>
<path d="M211.7 201.8Q219.2 198.3 222.5 195.0" stroke="#5e5e58" stroke-width="0.7" opacity="0.57"/>
<path d="M156.3 220.3Q154.5 217.1 150.7 209.4" stroke="#a3a39c" stroke-width="1.3" opacity="0.66"/>
<path d="M216.2 193.6Q222.3 188.2 224.6 187.2" stroke="#5e5e58" stroke-width="0.9" opacity="0.88"/>
<path d="M148.8 206.2Q148.6 204.9 144.6 199.0" stroke="#a3a39c" stroke-width="1.0" opacity="0.51"/>
<path d="M223.8 206.4Q222.4 204.4 225.8 201.5" stroke="#5e5e58" stroke-width="1.0" opacity="0.70"/>
<path d="M224.7 208.6Q228.3 209.5 229.3 207.9" stroke="#a3a39c" stroke-width="1.7" opacity="0.46"/>
<path d="M184.2 213.7Q183.7 211.6 185.5 205.6" stroke="#5e5e58" stroke-width="1.6" opacity="0.77"/>
<path d="M228.1 213.5Q227.7 209.9 231.2 203.7" stroke="#a3a39c" stroke-width="1.3" opacity="0.54"/>
<path d="M149.8 178.8Q143.4 176.8 139.8 170.9" stroke="#5e5e58" stroke-width="0.8" opacity="0.60"/>
<path d="M180.9 199.6Q182.5 195.6 184.3 194.5" stroke="#a3a39c" stroke-width="0.8" opacity="0.76"/>
<path d="M167.9 208.8Q165.5 207.3 167.5 204.0" stroke="#5e5e58" stroke-width="1.7" opacity="0.46"/>
<path d="M178.9 245.0Q176.9 241.2 174.5 232.8" stroke="#a3a39c" stroke-width="0.8" opacity="0.66"/>
<path d="M217.3 201.9Q218.8 200.0 221.4 195.0" stroke="#5e5e58" stroke-width="1.7" opacity="0.55"/>
<path d="M166.3 231.3Q164.9 228.3 161.7 221.0" stroke="#a3a39c" stroke-width="1.5" opacity="0.74"/>
<path d="M162.6 180.1Q165.7 173.2 165.0 168.6" stroke="#5e5e58" stroke-width="1.4" opacity="0.87"/>
<path d="M155.1 175.7Q153.8 175.3 150.7 171.7" stroke="#a3a39c" stroke-width="1.5" opacity="0.76"/>
<path d="M230.0 243.4Q237.1 240.8 242.0 240.8" stroke="#5e5e58" stroke-width="1.3" opacity="0.53"/>
<path d="M173.8 232.0Q169.4 229.3 165.6 228.8" stroke="#a3a39c" stroke-width="0.8" opacity="0.69"/>
<path d="M167.4 181.0Q163.5 177.7 163.7 171.5" stroke="#5e5e58" stroke-width="0.8" opacity="0.66"/>
<path d="M170.6 235.2Q168.6 229.1 168.6 224.7" stroke="#a3a39c" stroke-width="1.5" opacity="0.68"/>
<path d="M196.7 225.6Q199.2 221.1 197.2 218.2" stroke="#5e5e58" stroke-width="1.5" opacity="0.52"/>
<path d="M136.4 209.9Q133.4 205.8 127.7 206.3" stroke="#a3a39c" stroke-width="1.2" opacity="0.62"/>
<path d="M223.0 234.2Q227.5 235.7 233.5 236.1" stroke="#5e5e58" stroke-width="1.2" opacity="0.62"/>
<path d="M163.2 220.3Q162.3 215.5 162.8 214.1" stroke="#a3a39c" stroke-width="1.1" opacity="0.62"/>
<path d="M144.1 220.0Q137.7 218.9 133.8 215.4" stroke="#5e5e58" stroke-width="1.7" opacity="0.53"/>
<path d="M171.0 243.3Q165.9 243.9 164.3 241.2" stroke="#a3a39c" stroke-width="1.0" opacity="0.85"/>
<path d="M189.2 186.8Q194.7 183.1 197.7 178.2" stroke="#5e5e58" stroke-width="1.5" opacity="0.88"/>
<path d="M154.2 191.2Q156.2 189.0 153.4 183.5" stroke="#a3a39c" stroke-width="1.2" opacity="0.52"/>
<path d="M194.4 216.9Q196.6 213.9 199.1 206.9" stroke="#5e5e58" stroke-width="1.3" opacity="0.52"/>
<path d="M214.7 186.1Q218.5 181.4 225.3 179.7" stroke="#a3a39c" stroke-width="1.4" opacity="0.66"/>
<path d="M171.4 227.6Q169.9 227.6 167.9 223.8" stroke="#5e5e58" stroke-width="1.7" opacity="0.50"/>
<path d="M207.4 197.1Q208.8 194.5 214.1 193.6" stroke="#a3a39c" stroke-width="1.2" opacity="0.53"/>
<path d="M209.8 197.5Q211.9 196.2 214.2 193.3" stroke="#5e5e58" stroke-width="0.9" opacity="0.58"/>
<path d="M216.5 202.1Q219.3 199.6 220.2 193.3" stroke="#a3a39c" stroke-width="1.3" opacity="0.83"/>
<path d="M221.7 240.1Q227.5 241.3 231.3 243.6" stroke="#5e5e58" stroke-width="0.8" opacity="0.87"/>
<path d="M175.2 198.1Q176.4 190.8 174.2 187.4" stroke="#a3a39c" stroke-width="1.5" opacity="0.87"/>
<path d="M230.0 241.2Q236.4 242.5 241.9 240.3" stroke="#5e5e58" stroke-width="1.7" opacity="0.62"/>
<path d="M147.0 227.5Q144.4 221.7 142.1 216.4" stroke="#a3a39c" stroke-width="0.8" opacity="0.83"/>
<path d="M161.4 182.7Q156.2 180.2 151.9 174.8" stroke="#5e5e58" stroke-width="0.8" opacity="0.67"/>
<path d="M207.4 229.1Q210.7 227.3 210.9 221.5" stroke="#a3a39c" stroke-width="0.8" opacity="0.71"/>
<path d="M221.4 218.2Q224.5 214.9 227.8 216.3" stroke="#5e5e58" stroke-width="1.5" opacity="0.70"/>
<path d="M152.6 241.1Q151.6 239.4 148.3 241.8" stroke="#a3a39c" stroke-width="1.4" opacity="0.51"/>
<path d="M137.2 226.6Q134.2 224.8 129.1 220.8" stroke="#5e5e58" stroke-width="0.9" opacity="0.64"/>
<path d="M192.5 235.8Q197.1 234.6 198.5 229.9" stroke="#a3a39c" stroke-width="0.9" opacity="0.53"/>
<path d="M135.6 236.2Q131.1 237.6 126.4 237.5" stroke="#5e5e58" stroke-width="1.6" opacity="0.75"/>
<path d="M151.7 204.7Q149.7 203.7 145.2 201.1" stroke="#a3a39c" stroke-width="1.3" opacity="0.84"/>
<path d="M231.9 192.0Q233.6 191.7 240.0 186.5" stroke="#5e5e58" stroke-width="1.1" opacity="0.75"/>
<path d="M157.3 204.2Q149.4 199.0 146.2 198.0" stroke="#a3a39c" stroke-width="1.4" opacity="0.71"/>
<path d="M166.4 241.1Q164.4 240.6 160.3 235.8" stroke="#5e5e58" stroke-width="1.6" opacity="0.61"/>
<path d="M210.2 189.8Q213.0 183.0 213.5 177.3" stroke="#a3a39c" stroke-width="1.2" opacity="0.65"/>
<path d="M203.7 211.3Q207.1 209.3 206.8 204.2" stroke="#5e5e58" stroke-width="0.9" opacity="0.63"/>
<path d="M222.4 226.1Q225.4 224.5 231.3 222.3" stroke="#a3a39c" stroke-width="1.4" opacity="0.65"/>
<path d="M174.7 204.8Q176.2 199.6 174.4 198.8" stroke="#5e5e58" stroke-width="1.5" opacity="0.69"/>
<path d="M159.4 191.9Q160.0 188.8 155.7 187.8" stroke="#a3a39c" stroke-width="0.8" opacity="0.75"/>
<path d="M229.7 194.5Q230.3 190.0 232.7 185.8" stroke="#5e5e58" stroke-width="1.3" opacity="0.90"/>
<path d="M171.6 199.9Q173.8 195.0 172.1 190.8" stroke="#a3a39c" stroke-width="1.3" opacity="0.68"/>
<path d="M193.6 208.9Q192.5 208.9 192.5 203.9" stroke="#5e5e58" stroke-width="1.2" opacity="0.67"/>
<path d="M178.5 229.3Q176.1 226.3 175.2 222.6" stroke="#a3a39c" stroke-width="1.2" opacity="0.72"/>
<path d="M225.9 198.5Q232.0 196.0 235.7 190.1" stroke="#5e5e58" stroke-width="1.5" opacity="0.54"/>
<path d="M196.5 198.6Q198.0 198.2 196.7 193.5" stroke="#a3a39c" stroke-width="1.6" opacity="0.65"/>
<path d="M224.2 231.4Q231.0 227.5 235.0 228.5" stroke="#5e5e58" stroke-width="1.3" opacity="0.74"/>
<path d="M169.9 231.7Q168.5 227.0 168.3 227.1" stroke="#a3a39c" stroke-width="1.1" opacity="0.50"/>
<path d="M135.2 195.3Q136.4 191.2 132.9 190.2" stroke="#5e5e58" stroke-width="1.5" opacity="0.57"/>
<path d="M220.0 210.2Q222.7 210.8 227.6 207.5" stroke="#a3a39c" stroke-width="0.7" opacity="0.51"/>
<path d="M148.6 214.0Q147.7 212.9 146.1 208.3" stroke="#5e5e58" stroke-width="0.7" opacity="0.79"/>
<path d="M148.4 175.9Q146.2 173.3 145.1 169.2" stroke="#a3a39c" stroke-width="0.7" opacity="0.72"/>
<path d="M149.2 241.3Q146.4 240.3 143.4 240.2" stroke="#5e5e58" stroke-width="0.8" opacity="0.79"/>
<path d="M176.8 234.1Q178.7 227.4 176.1 222.7" stroke="#a3a39c" stroke-width="1.3" opacity="0.71"/>
<path d="M195.0 227.2Q199.2 224.1 202.4 220.7" stroke="#5e5e58" stroke-width="0.8" opacity="0.57"/>
<path d="M146.6 216.6Q144.1 216.1 142.8 212.0" stroke="#a3a39c" stroke-width="0.9" opacity="0.69"/>
<path d="M184.8 207.6Q183.4 201.6 181.4 195.5" stroke="#5e5e58" stroke-width="0.8" opacity="0.47"/>
<path d="M180.6 192.9Q179.5 187.2 182.7 182.7" stroke="#a3a39c" stroke-width="1.0" opacity="0.74"/>
<path d="M190.0 235.4Q190.3 229.7 188.3 227.3" stroke="#5e5e58" stroke-width="0.7" opacity="0.65"/>
<path d="M157.8 177.2Q159.4 173.8 159.3 166.7" stroke="#a3a39c" stroke-width="1.4" opacity="0.65"/>
<path d="M209.2 240.4Q216.4 244.4 220.6 243.7" stroke="#5e5e58" stroke-width="1.6" opacity="0.73"/>
<path d="M175.8 223.4Q176.3 219.3 177.6 218.9" stroke="#a3a39c" stroke-width="0.8" opacity="0.71"/>
<path d="M153.2 181.4Q151.8 174.7 150.4 172.8" stroke="#5e5e58" stroke-width="0.8" opacity="0.69"/>
<path d="M141.2 181.8Q138.1 179.3 132.4 172.9" stroke="#a3a39c" stroke-width="1.5" opacity="0.50"/>
<path d="M205.2 221.8Q205.7 219.3 209.5 220.4" stroke="#5e5e58" stroke-width="1.1" opacity="0.60"/>
<path d="M161.5 229.3Q158.0 221.5 158.8 217.1" stroke="#a3a39c" stroke-width="1.1" opacity="0.80"/>
<path d="M209.0 233.8Q208.9 230.8 213.3 225.9" stroke="#5e5e58" stroke-width="1.5" opacity="0.59"/>
<path d="M171.9 179.2Q172.1 175.3 174.4 172.6" stroke="#a3a39c" stroke-width="0.9" opacity="0.90"/>
<path d="M225.9 212.8Q230.8 207.3 231.4 206.5" stroke="#5e5e58" stroke-width="0.9" opacity="0.75"/>
<path d="M165.4 209.5Q164.3 208.3 158.8 205.2" stroke="#a3a39c" stroke-width="1.3" opacity="0.83"/>
<path d="M152.1 224.5Q148.7 221.4 150.2 217.3" stroke="#5e5e58" stroke-width="1.6" opacity="0.50"/>
<path d="M161.7 224.3Q157.9 218.6 153.6 214.2" stroke="#a3a39c" stroke-width="1.1" opacity="0.67"/>
<path d="M210.9 228.2Q214.2 224.1 216.4 223.2" stroke="#5e5e58" stroke-width="1.2" opacity="0.61"/>
<path d="M136.8 222.5Q134.0 224.6 130.1 222.9" stroke="#a3a39c" stroke-width="1.3" opacity="0.88"/>
<path d="M137.1 231.3Q135.5 225.8 129.2 224.6" stroke="#5e5e58" stroke-width="0.8" opacity="0.88"/>
<path d="M221.3 182.2Q224.3 174.5 226.5 171.6" stroke="#a3a39c" stroke-width="0.9" opacity="0.83"/>
<path d="M150.1 194.3Q150.3 189.8 149.6 188.7" stroke="#5e5e58" stroke-width="0.9" opacity="0.70"/>
<path d="M210.9 201.8Q212.8 194.3 212.6 191.6" stroke="#a3a39c" stroke-width="1.4" opacity="0.69"/>
<path d="M230.8 216.9Q232.8 213.7 235.0 214.9" stroke="#5e5e58" stroke-width="0.9" opacity="0.68"/>
<path d="M218.0 243.0Q221.8 245.2 226.1 245.5" stroke="#a3a39c" stroke-width="1.1" opacity="0.46"/>
<path d="M207.6 241.6Q213.8 241.2 217.1 243.8" stroke="#5e5e58" stroke-width="0.9" opacity="0.84"/>
<path d="M185.0 190.2Q188.2 183.3 187.5 180.0" stroke="#a3a39c" stroke-width="1.0" opacity="0.68"/>
<path d="M216.6 244.4Q218.9 244.3 221.9 239.9" stroke="#5e5e58" stroke-width="1.4" opacity="0.59"/>
<path d="M191.2 187.8Q193.8 186.2 195.8 181.6" stroke="#a3a39c" stroke-width="1.2" opacity="0.48"/>
<path d="M169.0 174.8Q168.4 171.0 165.2 162.5" stroke="#5e5e58" stroke-width="0.8" opacity="0.76"/>
<path d="M211.0 205.7Q215.0 206.7 215.1 203.1" stroke="#a3a39c" stroke-width="0.9" opacity="0.48"/>
<path d="M219.4 215.6Q222.5 214.1 228.3 214.9" stroke="#5e5e58" stroke-width="1.4" opacity="0.60"/>
<path d="M230.3 229.4Q237.4 227.1 241.6 226.0" stroke="#a3a39c" stroke-width="1.3" opacity="0.64"/>
<path d="M139.3 182.2Q139.4 180.9 135.9 179.6" stroke="#5e5e58" stroke-width="0.9" opacity="0.49"/>
<path d="M200.9 204.2Q202.6 203.4 208.3 198.0" stroke="#a3a39c" stroke-width="1.6" opacity="0.61"/>
<path d="M212.3 219.2Q212.0 216.5 213.5 213.2" stroke="#5e5e58" stroke-width="1.2" opacity="0.70"/>
<path d="M137.9 200.0Q136.9 196.9 130.8 197.7" stroke="#a3a39c" stroke-width="0.7" opacity="0.63"/>
<path d="M172.0 180.0Q175.5 175.4 175.7 169.4" stroke="#5e5e58" stroke-width="1.2" opacity="0.70"/>
<path d="M152.5 175.7Q152.8 170.0 155.4 164.0" stroke="#a3a39c" stroke-width="0.8" opacity="0.82"/>
<path d="M222.6 243.9Q225.4 241.0 232.3 235.6" stroke="#5e5e58" stroke-width="1.7" opacity="0.53"/>
<path d="M192.8 231.5Q198.0 228.0 201.6 224.4" stroke="#a3a39c" stroke-width="1.2" opacity="0.79"/>
<path d="M207.7 221.5Q209.9 220.0 213.8 219.4" stroke="#5e5e58" stroke-width="1.0" opacity="0.77"/>
<path d="M136.4 241.3Q133.0 241.7 127.0 244.3" stroke="#a3a39c" stroke-width="0.7" opacity="0.89"/>
<path d="M223.7 209.7Q226.0 204.0 227.1 202.0" stroke="#5e5e58" stroke-width="1.3" opacity="0.76"/>
<path d="M156.0 199.1Q153.7 194.6 152.0 193.9" stroke="#a3a39c" stroke-width="1.0" opacity="0.84"/>
<path d="M200.2 206.3Q200.7 202.7 199.1 199.3" stroke="#5e5e58" stroke-width="1.5" opacity="0.76"/>
<path d="M183.4 223.5Q185.9 221.1 183.4 216.4" stroke="#a3a39c" stroke-width="1.1" opacity="0.45"/>
<path d="M180.2 197.9Q184.0 189.8 185.8 186.5" stroke="#5e5e58" stroke-width="1.4" opacity="0.54"/>
<path d="M189.5 232.6Q189.5 226.1 186.1 220.3" stroke="#a3a39c" stroke-width="1.2" opacity="0.61"/>
<path d="M216.2 242.8Q219.6 239.7 227.0 240.2" stroke="#5e5e58" stroke-width="1.6" opacity="0.53"/>
<path d="M206.5 226.2Q207.8 220.5 208.5 214.8" stroke="#a3a39c" stroke-width="1.4" opacity="0.63"/>
<path d="M219.3 214.7Q222.5 212.5 226.6 211.8" stroke="#5e5e58" stroke-width="0.9" opacity="0.84"/>
<path d="M192.2 240.2Q197.0 237.0 201.1 233.9" stroke="#a3a39c" stroke-width="1.6" opacity="0.51"/>
<path d="M195.2 174.7Q190.5 170.2 190.6 162.7" stroke="#5e5e58" stroke-width="1.7" opacity="0.76"/>
<path d="M229.9 184.9Q233.7 179.9 237.5 179.2" stroke="#a3a39c" stroke-width="0.8" opacity="0.81"/>
<path d="M151.6 222.9Q144.6 224.3 142.0 221.0" stroke="#5e5e58" stroke-width="1.4" opacity="0.55"/>
<path d="M229.1 185.4Q229.9 182.5 234.3 177.6" stroke="#a3a39c" stroke-width="1.0" opacity="0.81"/>
<path d="M229.3 240.4Q233.4 235.3 235.5 234.8" stroke="#5e5e58" stroke-width="0.7" opacity="0.80"/>
<path d="M203.2 187.9Q205.5 183.6 210.0 178.9" stroke="#a3a39c" stroke-width="1.5" opacity="0.48"/>
<path d="M204.5 242.8Q212.0 247.3 216.5 247.5" stroke="#5e5e58" stroke-width="1.1" opacity="0.58"/>
<path d="M210.8 190.7Q210.8 188.1 211.8 181.2" stroke="#a3a39c" stroke-width="0.8" opacity="0.61"/>
<path d="M221.1 195.6Q226.7 191.2 228.0 190.4" stroke="#5e5e58" stroke-width="1.2" opacity="0.59"/>
<path d="M204.3 241.3Q212.3 240.4 216.9 239.9" stroke="#a3a39c" stroke-width="1.0" opacity="0.47"/>
<path d="M171.6 198.1Q171.1 190.2 170.5 185.3" stroke="#5e5e58" stroke-width="1.5" opacity="0.61"/>
<path d="M200.4 221.8Q200.1 221.2 203.7 218.2" stroke="#a3a39c" stroke-width="1.2" opacity="0.74"/>
<path d="M222.3 197.5Q223.1 192.9 227.1 188.1" stroke="#5e5e58" stroke-width="0.8" opacity="0.79"/>
<path d="M161.4 189.4Q160.1 183.9 157.3 179.2" stroke="#a3a39c" stroke-width="0.8" opacity="0.65"/>
<path d="M135.9 207.8Q132.8 206.3 125.9 206.1" stroke="#5e5e58" stroke-width="1.7" opacity="0.72"/>
<path d="M178.4 213.3Q181.9 210.3 181.4 203.1" stroke="#a3a39c" stroke-width="0.9" opacity="0.85"/>
<path d="M223.1 199.9Q225.5 197.1 229.3 194.9" stroke="#5e5e58" stroke-width="1.7" opacity="0.61"/>
<path d="M139.2 232.0Q135.7 230.5 135.1 232.0" stroke="#a3a39c" stroke-width="1.3" opacity="0.49"/>
<path d="M221.6 224.8Q229.5 227.5 233.7 225.7" stroke="#5e5e58" stroke-width="1.0" opacity="0.83"/>
<path d="M174.2 240.4Q169.3 241.7 164.5 239.3" stroke="#a3a39c" stroke-width="0.9" opacity="0.77"/>
<path d="M167.7 244.4Q165.9 244.0 160.6 242.0" stroke="#5e5e58" stroke-width="1.4" opacity="0.75"/>
<path d="M190.7 226.5Q191.4 223.2 196.9 218.2" stroke="#a3a39c" stroke-width="1.7" opacity="0.77"/>
<path d="M190.2 182.5Q189.0 177.6 191.0 174.6" stroke="#5e5e58" stroke-width="1.0" opacity="0.46"/>
<path d="M181.9 231.1Q184.4 225.6 182.8 218.7" stroke="#a3a39c" stroke-width="0.9" opacity="0.46"/>
<path d="M192.2 179.8Q193.5 173.1 196.2 168.8" stroke="#5e5e58" stroke-width="0.9" opacity="0.89"/>
<path d="M177.2 198.8Q176.7 194.2 176.9 188.7" stroke="#a3a39c" stroke-width="0.8" opacity="0.53"/>
<path d="M167.9 217.1Q165.6 211.9 164.8 211.1" stroke="#5e5e58" stroke-width="1.4" opacity="0.84"/>
<path d="M205.2 227.6Q206.4 222.8 208.2 221.4" stroke="#a3a39c" stroke-width="0.8" opacity="0.82"/>
<path d="M185.0 234.6Q185.0 229.9 188.3 227.7" stroke="#5e5e58" stroke-width="1.2" opacity="0.75"/>
<path d="M165.0 199.4Q161.9 196.7 160.4 194.1" stroke="#a3a39c" stroke-width="0.7" opacity="0.80"/>
<path d="M210.7 216.8Q214.7 216.6 218.7 212.4" stroke="#5e5e58" stroke-width="1.6" opacity="0.87"/>
<path d="M230.5 197.3Q232.5 192.3 236.0 187.9" stroke="#a3a39c" stroke-width="1.1" opacity="0.81"/>
<path d="M159.8 175.1Q163.1 169.4 162.2 166.1" stroke="#5e5e58" stroke-width="0.7" opacity="0.47"/>
<path d="M181.8 197.5Q181.1 190.8 175.7 186.7" stroke="#a3a39c" stroke-width="1.5" opacity="0.88"/>
<path d="M195.6 190.2Q192.0 189.0 192.9 183.7" stroke="#5e5e58" stroke-width="1.3" opacity="0.73"/>
</g>
<g fill="#15157c">
<circle cx="46.9" cy="212.0" r="1.05"/><circle cx="59.8" cy="216.2" r="1.05"/><circle cx="85.0" cy="178.1" r="1.05"/><circle cx="49.0" cy="190.1" r="1.05"/><circle cx="105.7" cy="207.2" r="1.05"/><circle cx="86.3" cy="184.1" r="1.05"/><circle cx="74.9" cy="226.0" r="1.05"/><circle cx="89.5" cy="178.0" r="1.05"/><circle cx="98.0" cy="215.3" r="1.05"/><circle cx="108.5" cy="206.9" r="1.05"/><circle cx="62.3" cy="230.2" r="1.05"/><circle cx="67.2" cy="239.7" r="1.05"/><circle cx="85.1" cy="194.8" r="1.05"/><circle cx="73.3" cy="200.8" r="1.05"/><circle cx="58.0" cy="214.9" r="1.05"/><circle cx="89.4" cy="185.0" r="1.05"/><circle cx="112.4" cy="213.8" r="1.05"/><circle cx="93.6" cy="188.4" r="1.05"/><circle cx="105.2" cy="214.1" r="1.05"/><circle cx="63.8" cy="184.1" r="1.05"/><circle cx="52.3" cy="227.9" r="1.05"/><circle cx="83.9" cy="176.6" r="1.05"/><circle cx="94.1" cy="196.9" r="1.05"/><circle cx="53.9" cy="178.9" r="1.05"/><circle cx="82.4" cy="175.7" r="1.05"/><circle cx="42.9" cy="202.3" r="1.05"/><circle cx="83.5" cy="184.5" r="1.05"/><circle cx="111.6" cy="200.2" r="1.05"/><circle cx="68.7" cy="210.3" r="1.05"/><circle cx="86.8" cy="215.6" r="1.05"/><circle cx="78.4" cy="217.4" r="1.05"/><circle cx="115.9" cy="209.4" r="1.05"/><circle cx="65.8" cy="224.5" r="1.05"/><circle cx="46.8" cy="194.8" r="1.05"/><circle cx="77.4" cy="174.3" r="1.05"/><circle cx="64.3" cy="214.5" r="1.05"/><circle cx="25.4" cy="217.1" r="1.05"/><circle cx="85.6" cy="177.7" r="1.05"/><circle cx="85.1" cy="206.5" r="1.05"/><circle cx="90.2" cy="198.4" r="1.05"/><circle cx="93.0" cy="225.7" r="1.05"/><circle cx="48.1" cy="205.8" r="1.05"/><circle cx="81.7" cy="196.1" r="1.05"/><circle cx="59.2" cy="195.6" r="1.05"/><circle cx="59.7" cy="215.6" r="1.05"/><circle cx="53.0" cy="200.2" r="1.05"/><circle cx="79.4" cy="225.5" r="1.05"/><circle cx="53.9" cy="189.2" r="1.05"/><circle cx="102.5" cy="190.4" r="1.05"/><circle cx="41.9" cy="204.3" r="1.05"/><circle cx="92.1" cy="180.7" r="1.05"/><circle cx="55.1" cy="197.1" r="1.05"/><circle cx="105.4" cy="204.5" r="1.05"/><circle cx="56.6" cy="219.5" r="1.05"/><circle cx="110.4" cy="205.4" r="1.05"/><circle cx="75.5" cy="187.0" r="1.05"/><circle cx="41.5" cy="193.2" r="1.05"/><circle cx="102.8" cy="218.9" r="1.05"/><circle cx="102.7" cy="197.9" r="1.05"/><circle cx="36.2" cy="194.1" r="1.05"/><circle cx="101.5" cy="192.7" r="1.05"/><circle cx="57.5" cy="203.0" r="1.05"/><circle cx="64.7" cy="202.5" r="1.05"/><circle cx="66.2" cy="240.8" r="1.05"/><circle cx="88.6" cy="210.2" r="1.05"/><circle cx="51.9" cy="197.6" r="1.05"/><circle cx="81.3" cy="193.8" r="1.05"/><circle cx="112.3" cy="222.6" r="1.05"/><circle cx="111.9" cy="214.3" r="1.05"/><circle cx="40.3" cy="194.7" r="1.05"/><circle cx="88.6" cy="210.6" r="1.05"/><circle cx="64.1" cy="240.0" r="1.05"/><circle cx="83.6" cy="197.6" r="1.05"/><circle cx="70.4" cy="228.9" r="1.05"/><circle cx="58.0" cy="187.4" r="1.05"/><circle cx="76.0" cy="231.3" r="1.05"/><circle cx="40.3" cy="229.5" r="1.05"/><circle cx="49.9" cy="210.8" r="1.05"/><circle cx="65.0" cy="206.9" r="1.05"/><circle cx="31.9" cy="209.0" r="1.05"/><circle cx="54.5" cy="195.7" r="1.05"/><circle cx="58.0" cy="219.3" r="1.05"/><circle cx="81.1" cy="199.0" r="1.05"/><circle cx="42.2" cy="196.7" r="1.05"/><circle cx="35.6" cy="212.8" r="1.05"/><circle cx="93.8" cy="200.4" r="1.05"/><circle cx="60.2" cy="216.3" r="1.05"/><circle cx="100.4" cy="200.4" r="1.05"/><circle cx="102.2" cy="217.6" r="1.05"/><circle cx="65.9" cy="199.8" r="1.05"/><circle cx="72.2" cy="223.2" r="1.05"/><circle cx="64.8" cy="222.6" r="1.05"/><circle cx="68.8" cy="190.8" r="1.05"/><circle cx="76.1" cy="222.7" r="1.05"/><circle cx="30.5" cy="203.5" r="1.05"/><circle cx="65.3" cy="235.8" r="1.05"/><circle cx="49.2" cy="206.3" r="1.05"/><circle cx="101.4" cy="220.7" r="1.05"/><circle cx="95.6" cy="213.4" r="1.05"/><circle cx="33.6" cy="215.1" r="1.05"/><circle cx="117.1" cy="214.5" r="1.05"/><circle cx="98.9" cy="209.7" r="1.05"/><circle cx="93.8" cy="181.0" r="1.05"/><circle cx="78.9" cy="232.1" r="1.05"/><circle cx="47.3" cy="186.2" r="1.05"/><circle cx="48.0" cy="217.1" r="1.05"/><circle cx="97.5" cy="201.3" r="1.05"/><circle cx="59.6" cy="201.5" r="1.05"/><circle cx="57.9" cy="203.1" r="1.05"/><circle cx="31.6" cy="208.9" r="1.05"/>
<circle cx="92.9" cy="216.3" r="1.05"/><circle cx="78.3" cy="216.9" r="1.05"/><circle cx="68.4" cy="212.2" r="1.05"/><circle cx="70.1" cy="215.5" r="1.05"/><circle cx="60.4" cy="227.0" r="1.05"/><circle cx="85.0" cy="217.1" r="1.05"/><circle cx="99.7" cy="222.9" r="1.05"/><circle cx="92.5" cy="213.2" r="1.05"/><circle cx="60.3" cy="230.1" r="1.05"/><circle cx="84.9" cy="225.0" r="1.05"/><circle cx="87.4" cy="228.4" r="1.05"/><circle cx="76.8" cy="226.7" r="1.05"/><circle cx="63.3" cy="208.0" r="1.05"/><circle cx="76.1" cy="233.0" r="1.05"/><circle cx="58.6" cy="233.9" r="1.05"/><circle cx="69.6" cy="220.6" r="1.05"/><circle cx="80.4" cy="222.3" r="1.05"/><circle cx="66.5" cy="225.3" r="1.05"/><circle cx="87.0" cy="225.3" r="1.05"/><circle cx="72.0" cy="234.4" r="1.05"/><circle cx="61.7" cy="226.9" r="1.05"/><circle cx="55.0" cy="230.1" r="1.05"/><circle cx="84.9" cy="211.1" r="1.05"/><circle cx="58.4" cy="227.8" r="1.05"/><circle cx="86.6" cy="213.3" r="1.05"/><circle cx="71.5" cy="204.3" r="1.05"/><circle cx="70.2" cy="224.5" r="1.05"/><circle cx="84.4" cy="231.5" r="1.05"/><circle cx="60.0" cy="209.3" r="1.05"/><circle cx="84.5" cy="215.3" r="1.05"/><circle cx="84.6" cy="225.0" r="1.05"/><circle cx="90.2" cy="229.0" r="1.05"/><circle cx="94.8" cy="204.8" r="1.05"/><circle cx="75.7" cy="229.2" r="1.05"/><circle cx="78.0" cy="218.3" r="1.05"/><circle cx="102.7" cy="222.8" r="1.05"/><circle cx="77.8" cy="228.2" r="1.05"/><circle cx="60.4" cy="220.5" r="1.05"/><circle cx="91.7" cy="218.2" r="1.05"/><circle cx="65.9" cy="227.8" r="1.05"/><circle cx="86.2" cy="228.8" r="1.05"/><circle cx="91.9" cy="215.8" r="1.05"/><circle cx="72.7" cy="221.7" r="1.05"/><circle cx="79.0" cy="232.0" r="1.05"/><circle cx="103.4" cy="225.0" r="1.05"/><circle cx="84.2" cy="218.0" r="1.05"/><circle cx="91.1" cy="215.5" r="1.05"/><circle cx="79.7" cy="208.6" r="1.05"/><circle cx="76.3" cy="232.5" r="1.05"/><circle cx="62.9" cy="214.2" r="1.05"/><circle cx="80.2" cy="233.2" r="1.05"/><circle cx="98.5" cy="213.5" r="1.05"/><circle cx="72.8" cy="221.9" r="1.05"/><circle cx="67.0" cy="224.5" r="1.05"/><circle cx="72.8" cy="211.8" r="1.05"/><circle cx="71.2" cy="221.2" r="1.05"/><circle cx="65.9" cy="216.2" r="1.05"/><circle cx="74.8" cy="219.1" r="1.05"/><circle cx="85.9" cy="217.7" r="1.05"/><circle cx="71.4" cy="233.4" r="1.05"/><circle cx="64.1" cy="219.5" r="1.05"/><circle cx="68.9" cy="217.2" r="1.05"/><circle cx="77.3" cy="225.9" r="1.05"/><circle cx="100.1" cy="220.7" r="1.05"/><circle cx="77.7" cy="212.2" r="1.05"/><circle cx="77.0" cy="214.7" r="1.05"/><circle cx="79.9" cy="228.2" r="1.05"/><circle cx="81.9" cy="218.9" r="1.05"/><circle cx="69.3" cy="223.5" r="1.05"/><circle cx="79.3" cy="214.2" r="1.05"/><circle cx="74.2" cy="228.9" r="1.05"/><circle cx="56.2" cy="223.7" r="1.05"/><circle cx="66.5" cy="235.8" r="1.05"/><circle cx="88.6" cy="222.5" r="1.05"/><circle cx="85.3" cy="221.7" r="1.05"/><circle cx="80.6" cy="209.0" r="1.05"/><circle cx="84.0" cy="224.3" r="1.05"/><circle cx="61.6" cy="231.7" r="1.05"/><circle cx="85.8" cy="208.1" r="1.05"/><circle cx="72.6" cy="220.5" r="1.05"/><circle cx="73.1" cy="225.6" r="1.05"/><circle cx="61.8" cy="223.9" r="1.05"/><circle cx="83.8" cy="225.3" r="1.05"/><circle cx="79.7" cy="219.2" r="1.05"/><circle cx="85.3" cy="204.8" r="1.05"/><circle cx="91.6" cy="215.7" r="1.05"/><circle cx="61.8" cy="222.4" r="1.05"/><circle cx="51.1" cy="213.1" r="1.05"/><circle cx="73.7" cy="216.7" r="1.05"/><circle cx="87.8" cy="212.3" r="1.05"/><circle cx="60.3" cy="218.8" r="1.05"/><circle cx="102.7" cy="215.3" r="1.05"/><circle cx="69.5" cy="216.2" r="1.05"/><circle cx="64.3" cy="223.7" r="1.05"/><circle cx="87.3" cy="227.6" r="1.05"/><circle cx="95.5" cy="219.0" r="1.05"/><circle cx="69.0" cy="217.3" r="1.05"/><circle cx="46.4" cy="221.9" r="1.05"/><circle cx="84.6" cy="217.2" r="1.05"/><circle cx="82.1" cy="210.4" r="1.05"/><circle cx="92.1" cy="220.0" r="1.05"/><circle cx="80.8" cy="223.7" r="1.05"/><circle cx="48.3" cy="224.9" r="1.05"/><circle cx="70.6" cy="236.7" r="1.05"/><circle cx="76.1" cy="218.1" r="1.05"/><circle cx="89.1" cy="210.7" r="1.05"/><circle cx="97.5" cy="211.2" r="1.05"/><circle cx="77.1" cy="214.9" r="1.05"/><circle cx="86.5" cy="203.1" r="1.05"/><circle cx="87.4" cy="212.9" r="1.05"/><circle cx="78.1" cy="212.8" r="1.05"/><circle cx="82.9" cy="221.5" r="1.05"/><circle cx="88.0" cy="221.2" r="1.05"/><circle cx="89.7" cy="225.8" r="1.05"/><circle cx="72.1" cy="214.2" r="1.05"/><circle cx="63.4" cy="230.2" r="1.05"/><circle cx="76.3" cy="229.7" r="1.05"/><circle cx="78.3" cy="213.8" r="1.05"/><circle cx="75.4" cy="215.1" r="1.05"/><circle cx="69.6" cy="230.1" r="1.05"/><circle cx="70.9" cy="220.2" r="1.05"/><circle cx="88.8" cy="218.7" r="1.05"/><circle cx="80.1" cy="216.8" r="1.05"/><circle cx="71.1" cy="224.4" r="1.05"/><circle cx="82.6" cy="224.6" r="1.05"/><circle cx="73.3" cy="225.2" r="1.05"/><circle cx="86.1" cy="220.0" r="1.05"/><circle cx="89.0" cy="226.1" r="1.05"/><circle cx="82.3" cy="220.9" r="1.05"/><circle cx="67.0" cy="226.7" r="1.05"/><circle cx="77.7" cy="219.2" r="1.05"/><circle cx="69.3" cy="227.9" r="1.05"/><circle cx="114.8" cy="215.2" r="1.05"/><circle cx="81.4" cy="223.8" r="1.05"/><circle cx="71.6" cy="223.7" r="1.05"/><circle cx="69.4" cy="218.8" r="1.05"/><circle cx="83.0" cy="221.8" r="1.05"/><circle cx="76.6" cy="215.9" r="1.05"/><circle cx="81.1" cy="212.5" r="1.05"/><circle cx="89.3" cy="216.0" r="1.05"/><circle cx="80.9" cy="226.5" r="1.05"/><circle cx="84.7" cy="210.1" r="1.05"/><circle cx="76.8" cy="224.4" r="1.05"/><circle cx="60.5" cy="208.0" r="1.05"/><circle cx="78.4" cy="220.9" r="1.05"/><circle cx="85.4" cy="220.1" r="1.05"/><circle cx="81.7" cy="222.2" r="1.05"/><circle cx="98.9" cy="219.7" r="1.05"/><circle cx="86.1" cy="216.4" r="1.05"/><circle cx="94.3" cy="215.9" r="1.05"/><circle cx="85.7" cy="203.8" r="1.05"/><circle cx="82.6" cy="219.5" r="1.05"/><circle cx="75.5" cy="231.6" r="1.05"/><circle cx="84.7" cy="218.6" r="1.05"/><circle cx="75.7" cy="235.9" r="1.05"/><circle cx="90.7" cy="223.0" r="1.05"/><circle cx="71.5" cy="232.7" r="1.05"/><circle cx="86.5" cy="217.2" r="1.05"/><circle cx="75.2" cy="210.1" r="1.05"/><circle cx="86.3" cy="211.2" r="1.05"/><circle cx="90.1" cy="215.1" r="1.05"/><circle cx="71.7" cy="225.7" r="1.05"/><circle cx="80.3" cy="212.5" r="1.05"/><circle cx="79.6" cy="225.5" r="1.05"/><circle cx="73.7" cy="212.5" r="1.05"/><circle cx="74.5" cy="215.2" r="1.05"/><circle cx="71.8" cy="223.3" r="1.05"/><circle cx="78.4" cy="219.8" r="1.05"/><circle cx="57.8" cy="229.1" r="1.05"/><circle cx="76.1" cy="218.9" r="1.05"/><circle cx="59.3" cy="214.3" r="1.05"/><circle cx="88.4" cy="212.9" r="1.05"/><circle cx="95.3" cy="209.7" r="1.05"/><circle cx="74.4" cy="228.5" r="1.05"/><circle cx="92.5" cy="221.0" r="1.05"/><circle cx="85.4" cy="218.6" r="1.05"/><circle cx="73.2" cy="221.1" r="1.05"/><circle cx="97.8" cy="221.6" r="1.05"/><circle cx="80.3" cy="223.2" r="1.05"/><circle cx="92.7" cy="226.4" r="1.05"/><circle cx="77.6" cy="220.9" r="1.05"/><circle cx="85.0" cy="229.0" r="1.05"/><circle cx="60.4" cy="232.2" r="1.05"/><circle cx="58.7" cy="218.4" r="1.05"/><circle cx="70.7" cy="222.2" r="1.05"/><circle cx="82.5" cy="223.0" r="1.05"/><circle cx="81.7" cy="217.2" r="1.05"/><circle cx="115.0" cy="214.9" r="1.05"/><circle cx="93.5" cy="221.7" r="1.05"/><circle cx="63.3" cy="218.1" r="1.05"/><circle cx="77.8" cy="206.4" r="1.05"/><circle cx="71.0" cy="231.5" r="1.05"/><circle cx="73.6" cy="223.7" r="1.05"/><circle cx="86.7" cy="210.6" r="1.05"/><circle cx="82.0" cy="215.8" r="1.05"/><circle cx="64.4" cy="222.9" r="1.05"/><circle cx="78.0" cy="218.5" r="1.05"/><circle cx="72.3" cy="229.9" r="1.05"/><circle cx="95.9" cy="220.9" r="1.05"/><circle cx="76.3" cy="214.1" r="1.05"/><circle cx="66.5" cy="216.2" r="1.05"/><circle cx="83.9" cy="226.6" r="1.05"/><circle cx="91.7" cy="217.7" r="1.05"/><circle cx="74.7" cy="223.6" r="1.05"/><circle cx="82.2" cy="224.7" r="1.05"/><circle cx="98.0" cy="211.3" r="1.05"/><circle cx="103.8" cy="199.4" r="1.05"/><circle cx="53.0" cy="216.7" r="1.05"/><circle cx="65.3" cy="222.9" r="1.05"/><circle cx="105.9" cy="209.1" r="1.05"/><circle cx="93.6" cy="214.8" r="1.05"/><circle cx="79.7" cy="213.5" r="1.05"/><circle cx="109.8" cy="213.0" r="1.05"/><circle cx="75.3" cy="238.8" r="1.05"/><circle cx="82.6" cy="223.3" r="1.05"/><circle cx="76.1" cy="215.8" r="1.05"/><circle cx="60.0" cy="224.7" r="1.05"/><circle cx="101.9" cy="218.4" r="1.05"/><circle cx="79.0" cy="228.9" r="1.05"/><circle cx="69.4" cy="233.7" r="1.05"/><circle cx="77.8" cy="215.4" r="1.05"/><circle cx="89.5" cy="222.3" r="1.05"/><circle cx="75.3" cy="223.7" r="1.05"/><circle cx="95.1" cy="227.4" r="1.05"/><circle cx="63.5" cy="205.8" r="1.05"/><circle cx="106.4" cy="212.2" r="1.05"/><circle cx="74.7" cy="225.4" r="1.05"/><circle cx="75.6" cy="229.7" r="1.05"/><circle cx="62.4" cy="223.9" r="1.05"/><circle cx="65.3" cy="235.8" r="1.05"/><circle cx="78.1" cy="229.4" r="1.05"/><circle cx="96.0" cy="208.0" r="1.05"/><circle cx="77.8" cy="226.7" r="1.05"/><circle cx="79.9" cy="219.9" r="1.05"/><circle cx="92.4" cy="224.4" r="1.05"/><circle cx="71.3" cy="222.1" r="1.05"/><circle cx="88.5" cy="220.3" r="1.05"/><circle cx="79.4" cy="212.8" r="1.05"/><circle cx="102.6" cy="213.4" r="1.05"/><circle cx="83.0" cy="219.9" r="1.05"/><circle cx="80.6" cy="221.8" r="1.05"/><circle cx="69.0" cy="226.5" r="1.05"/><circle cx="96.3" cy="219.7" r="1.05"/><circle cx="90.0" cy="221.9" r="1.05"/><circle cx="83.1" cy="233.5" r="1.05"/><circle cx="71.0" cy="226.0" r="1.05"/><circle cx="93.8" cy="219.5" r="1.05"/><circle cx="63.5" cy="217.1" r="1.05"/><circle cx="98.8" cy="209.1" r="1.05"/><circle cx="80.6" cy="224.8" r="1.05"/><circle cx="77.6" cy="208.4" r="1.05"/><circle cx="53.8" cy="226.8" r="1.05"/><circle cx="68.6" cy="221.9" r="1.05"/><circle cx="81.0" cy="221.8" r="1.05"/><circle cx="58.6" cy="214.0" r="1.05"/><circle cx="91.0" cy="213.5" r="1.05"/><circle cx="60.2" cy="211.2" r="1.05"/><circle cx="84.4" cy="210.5" r="1.05"/><circle cx="66.5" cy="228.9" r="1.05"/><circle cx="84.6" cy="223.9" r="1.05"/><circle cx="57.4" cy="205.5" r="1.05"/><circle cx="65.7" cy="222.3" r="1.05"/><circle cx="72.2" cy="229.5" r="1.05"/><circle cx="82.5" cy="212.6" r="1.05"/><circle cx="86.8" cy="218.1" r="1.05"/><circle cx="75.0" cy="230.5" r="1.05"/><circle cx="58.9" cy="233.9" r="1.05"/><circle cx="90.5" cy="203.0" r="1.05"/><circle cx="76.6" cy="220.6" r="1.05"/><circle cx="63.2" cy="220.9" r="1.05"/><circle cx="68.7" cy="224.3" r="1.05"/><circle cx="68.2" cy="208.1" r="1.05"/><circle cx="97.1" cy="223.1" r="1.05"/><circle cx="69.8" cy="230.0" r="1.05"/><circle cx="104.0" cy="203.3" r="1.05"/><circle cx="73.0" cy="218.8" r="1.05"/><circle cx="86.5" cy="217.0" r="1.05"/><circle cx="62.9" cy="234.6" r="1.05"/><circle cx="76.4" cy="227.2" r="1.05"/><circle cx="109.0" cy="208.0" r="1.05"/><circle cx="75.6" cy="228.8" r="1.05"/><circle cx="79.0" cy="225.0" r="1.05"/><circle cx="88.7" cy="221.2" r="1.05"/><circle cx="81.9" cy="223.3" r="1.05"/><circle cx="57.0" cy="224.8" r="1.05"/><circle cx="87.4" cy="210.1" r="1.05"/><circle cx="79.9" cy="220.2" r="1.05"/><circle cx="89.7" cy="220.9" r="1.05"/><circle cx="69.0" cy="224.3" r="1.05"/><circle cx="75.3" cy="221.4" r="1.05"/><circle cx="100.6" cy="228.3" r="1.05"/><circle cx="68.3" cy="214.4" r="1.05"/><circle cx="82.8" cy="222.1" r="1.05"/><circle cx="78.9" cy="216.6" r="1.05"/><circle cx="91.9" cy="230.7" r="1.05"/><circle cx="82.1" cy="218.7" r="1.05"/><circle cx="95.2" cy="214.8" r="1.05"/><circle cx="75.3" cy="224.5" r="1.05"/><circle cx="79.0" cy="225.0" r="1.05"/><circle cx="84.5" cy="222.8" r="1.05"/><circle cx="64.6" cy="238.0" r="1.05"/><circle cx="87.8" cy="221.1" r="1.05"/><circle cx="89.4" cy="217.8" r="1.05"/><circle cx="62.7" cy="239.7" r="1.05"/><circle cx="58.8" cy="227.4" r="1.05"/><circle cx="78.7" cy="222.6" r="1.05"/><circle cx="69.3" cy="233.8" r="1.05"/><circle cx="80.7" cy="211.3" r="1.05"/><circle cx="63.6" cy="227.1" r="1.05"/><circle cx="64.6" cy="228.1" r="1.05"/><circle cx="83.0" cy="215.8" r="1.05"/><circle cx="51.1" cy="218.6" r="1.05"/><circle cx="83.5" cy="216.2" r="1.05"/><circle cx="103.9" cy="211.6" r="1.05"/><circle cx="85.9" cy="224.5" r="1.05"/><circle cx="81.4" cy="222.9" r="1.05"/><circle cx="93.0" cy="216.5" r="1.05"/><circle cx="83.5" cy="217.4" r="1.05"/><circle cx="107.0" cy="215.3" r="1.05"/><circle cx="85.6" cy="197.4" r="1.05"/><circle cx="71.0" cy="214.9" r="1.05"/><circle cx="79.3" cy="217.8" r="1.05"/><circle cx="64.9" cy="222.7" r="1.05"/><circle cx="92.5" cy="225.7" r="1.05"/><circle cx="74.2" cy="230.3" r="1.05"/><circle cx="72.3" cy="227.5" r="1.05"/><circle cx="69.8" cy="231.3" r="1.05"/><circle cx="110.4" cy="211.0" r="1.05"/><circle cx="93.5" cy="206.7" r="1.05"/><circle cx="79.5" cy="224.8" r="1.05"/><circle cx="57.5" cy="226.6" r="1.05"/><circle cx="71.1" cy="232.1" r="1.05"/><circle cx="65.3" cy="227.1" r="1.05"/><circle cx="51.7" cy="225.1" r="1.05"/><circle cx="95.8" cy="216.1" r="1.05"/><circle cx="62.9" cy="229.0" r="1.05"/><circle cx="93.2" cy="220.8" r="1.05"/><circle cx="90.4" cy="207.7" r="1.05"/><circle cx="105.5" cy="219.7" r="1.05"/><circle cx="74.1" cy="226.2" r="1.05"/><circle cx="51.6" cy="223.5" r="1.05"/><circle cx="56.3" cy="233.2" r="1.05"/><circle cx="74.8" cy="215.4" r="1.05"/><circle cx="76.5" cy="230.2" r="1.05"/><circle cx="70.0" cy="227.7" r="1.05"/><circle cx="60.6" cy="213.5" r="1.05"/><circle cx="72.4" cy="220.7" r="1.05"/><circle cx="83.6" cy="227.0" r="1.05"/><circle cx="73.3" cy="219.9" r="1.05"/><circle cx="90.6" cy="221.4" r="1.05"/><circle cx="79.2" cy="222.9" r="1.05"/><circle cx="48.9" cy="224.8" r="1.05"/><circle cx="57.3" cy="224.1" r="1.05"/><circle cx="88.7" cy="206.2" r="1.05"/><circle cx="91.0" cy="213.9" r="1.05"/><circle cx="75.8" cy="218.5" r="1.05"/><circle cx="87.9" cy="213.9" r="1.05"/><circle cx="52.0" cy="230.5" r="1.05"/><circle cx="78.6" cy="225.9" r="1.05"/><circle cx="85.5" cy="210.5" r="1.05"/><circle cx="82.5" cy="221.2" r="1.05"/><circle cx="78.7" cy="222.0" r="1.05"/><circle cx="82.8" cy="216.1" r="1.05"/><circle cx="79.2" cy="228.4" r="1.05"/><circle cx="65.0" cy="224.1" r="1.05"/><circle cx="63.9" cy="217.1" r="1.05"/><circle cx="74.2" cy="223.7" r="1.05"/><circle cx="99.7" cy="214.4" r="1.05"/><circle cx="93.1" cy="221.6" r="1.05"/><circle cx="74.9" cy="199.2" r="1.05"/><circle cx="81.3" cy="221.0" r="1.05"/><circle cx="65.7" cy="225.5" r="1.05"/><circle cx="97.4" cy="207.9" r="1.05"/><circle cx="74.2" cy="229.1" r="1.05"/><circle cx="53.3" cy="220.1" r="1.05"/><circle cx="85.2" cy="226.6" r="1.05"/><circle cx="97.3" cy="222.1" r="1.05"/><circle cx="111.3" cy="215.8" r="1.05"/><circle cx="61.7" cy="224.1" r="1.05"/><circle cx="88.6" cy="221.5" r="1.05"/><circle cx="54.0" cy="230.4" r="1.05"/><circle cx="68.4" cy="222.4" r="1.05"/><circle cx="99.0" cy="214.8" r="1.05"/><circle cx="70.3" cy="222.5" r="1.05"/><circle cx="74.4" cy="237.5" r="1.05"/><circle cx="92.3" cy="224.5" r="1.05"/><circle cx="69.1" cy="218.9" r="1.05"/><circle cx="79.1" cy="205.0" r="1.05"/><circle cx="91.1" cy="208.6" r="1.05"/><circle cx="81.4" cy="223.0" r="1.05"/><circle cx="69.4" cy="226.2" r="1.05"/><circle cx="85.4" cy="218.1" r="1.05"/><circle cx="90.2" cy="214.4" r="1.05"/><circle cx="82.6" cy="224.8" r="1.05"/><circle cx="95.4" cy="219.0" r="1.05"/><circle cx="62.1" cy="235.1" r="1.05"/><circle cx="81.3" cy="218.4" r="1.05"/><circle cx="69.6" cy="227.8" r="1.05"/><circle cx="85.2" cy="224.6" r="1.05"/><circle cx="80.5" cy="232.2" r="1.05"/><circle cx="76.7" cy="224.8" r="1.05"/><circle cx="84.1" cy="227.7" r="1.05"/><circle cx="69.6" cy="221.3" r="1.05"/><circle cx="75.4" cy="217.2" r="1.05"/><circle cx="68.5" cy="214.9" r="1.05"/><circle cx="92.3" cy="228.8" r="1.05"/><circle cx="67.6" cy="229.8" r="1.05"/><circle cx="62.5" cy="219.3" r="1.05"/><circle cx="75.4" cy="223.0" r="1.05"/><circle cx="82.2" cy="206.0" r="1.05"/><circle cx="61.9" cy="226.1" r="1.05"/><circle cx="74.6" cy="217.5" r="1.05"/><circle cx="91.0" cy="198.3" r="1.05"/><circle cx="71.2" cy="223.6" r="1.05"/><circle cx="75.4" cy="215.5" r="1.05"/><circle cx="75.2" cy="212.4" r="1.05"/><circle cx="93.8" cy="223.1" r="1.05"/><circle cx="87.0" cy="212.3" r="1.05"/><circle cx="52.5" cy="224.3" r="1.05"/><circle cx="65.3" cy="227.5" r="1.05"/><circle cx="56.0" cy="220.2" r="1.05"/><circle cx="82.0" cy="223.5" r="1.05"/><circle cx="78.4" cy="211.9" r="1.05"/><circle cx="73.7" cy="237.3" r="1.05"/><circle cx="90.6" cy="212.0" r="1.05"/><circle cx="104.9" cy="213.5" r="1.05"/><circle cx="77.9" cy="215.3" r="1.05"/><circle cx="100.0" cy="216.5" r="1.05"/><circle cx="76.7" cy="214.9" r="1.05"/><circle cx="62.4" cy="226.7" r="1.05"/>
<circle cx="64.7" cy="242.2" r="1.05"/><circle cx="57.7" cy="231.6" r="1.05"/><circle cx="72.1" cy="238.1" r="1.05"/><circle cx="59.5" cy="241.7" r="1.05"/><circle cx="68.2" cy="238.6" r="1.05"/><circle cx="67.3" cy="239.0" r="1.05"/><circle cx="61.5" cy="232.5" r="1.05"/><circle cx="72.9" cy="235.8" r="1.05"/><circle cx="67.4" cy="239.9" r="1.05"/><circle cx="66.4" cy="235.9" r="1.05"/><circle cx="47.9" cy="230.8" r="1.05"/><circle cx="70.9" cy="228.8" r="1.05"/><circle cx="62.4" cy="234.9" r="1.05"/><circle cx="63.6" cy="238.4" r="1.05"/><circle cx="68.2" cy="232.7" r="1.05"/><circle cx="72.9" cy="231.7" r="1.05"/><circle cx="59.2" cy="235.4" r="1.05"/><circle cx="69.4" cy="232.9" r="1.05"/><circle cx="56.5" cy="230.9" r="1.05"/><circle cx="66.4" cy="237.4" r="1.05"/><circle cx="78.1" cy="232.8" r="1.05"/><circle cx="63.0" cy="221.9" r="1.05"/><circle cx="74.3" cy="238.7" r="1.05"/><circle cx="64.7" cy="229.8" r="1.05"/><circle cx="58.7" cy="242.0" r="1.05"/><circle cx="70.4" cy="240.7" r="1.05"/><circle cx="63.6" cy="240.2" r="1.05"/><circle cx="64.4" cy="227.2" r="1.05"/><circle cx="61.6" cy="228.3" r="1.05"/><circle cx="66.6" cy="229.7" r="1.05"/><circle cx="55.0" cy="231.7" r="1.05"/><circle cx="62.9" cy="234.8" r="1.05"/><circle cx="69.9" cy="240.6" r="1.05"/><circle cx="67.8" cy="242.7" r="1.05"/><circle cx="71.8" cy="226.5" r="1.05"/><circle cx="63.1" cy="234.9" r="1.05"/><circle cx="52.9" cy="230.5" r="1.05"/><circle cx="69.2" cy="231.9" r="1.05"/><circle cx="64.1" cy="227.4" r="1.05"/><circle cx="64.4" cy="230.6" r="1.05"/><circle cx="53.8" cy="231.5" r="1.05"/><circle cx="61.1" cy="231.7" r="1.05"/><circle cx="71.6" cy="239.5" r="1.05"/><circle cx="67.8" cy="231.7" r="1.05"/><circle cx="67.8" cy="233.8" r="1.05"/><circle cx="66.3" cy="228.4" r="1.05"/><circle cx="60.1" cy="230.9" r="1.05"/><circle cx="64.5" cy="233.4" r="1.05"/><circle cx="62.4" cy="242.1" r="1.05"/><circle cx="65.6" cy="235.0" r="1.05"/><circle cx="57.9" cy="233.2" r="1.05"/><circle cx="68.1" cy="233.3" r="1.05"/><circle cx="67.1" cy="228.5" r="1.05"/><circle cx="67.5" cy="228.1" r="1.05"/><circle cx="61.3" cy="229.5" r="1.05"/><circle cx="66.0" cy="239.7" r="1.05"/><circle cx="66.9" cy="228.9" r="1.05"/><circle cx="65.7" cy="239.4" r="1.05"/><circle cx="70.1" cy="236.4" r="1.05"/><circle cx="56.1" cy="230.7" r="1.05"/><circle cx="59.5" cy="231.1" r="1.05"/><circle cx="66.4" cy="233.9" r="1.05"/><circle cx="62.0" cy="236.8" r="1.05"/><circle cx="59.3" cy="231.9" r="1.05"/><circle cx="65.5" cy="226.3" r="1.05"/><circle cx="58.2" cy="226.1" r="1.05"/><circle cx="56.7" cy="232.9" r="1.05"/><circle cx="63.7" cy="235.6" r="1.05"/><circle cx="67.2" cy="227.5" r="1.05"/><circle cx="55.4" cy="229.9" r="1.05"/><circle cx="61.0" cy="234.8" r="1.05"/><circle cx="69.3" cy="233.7" r="1.05"/><circle cx="71.1" cy="238.2" r="1.05"/><circle cx="59.0" cy="234.2" r="1.05"/><circle cx="71.7" cy="231.1" r="1.05"/><circle cx="73.3" cy="234.2" r="1.05"/><circle cx="76.6" cy="234.0" r="1.05"/><circle cx="75.9" cy="225.0" r="1.05"/><circle cx="75.6" cy="236.2" r="1.05"/><circle cx="61.8" cy="239.6" r="1.05"/><circle cx="62.7" cy="238.2" r="1.05"/><circle cx="71.9" cy="239.4" r="1.05"/><circle cx="65.8" cy="235.9" r="1.05"/><circle cx="64.4" cy="227.0" r="1.05"/><circle cx="65.8" cy="227.2" r="1.05"/><circle cx="62.5" cy="232.0" r="1.05"/><circle cx="60.5" cy="227.9" r="1.05"/><circle cx="65.5" cy="233.6" r="1.05"/><circle cx="75.1" cy="237.1" r="1.05"/><circle cx="71.8" cy="231.1" r="1.05"/><circle cx="62.3" cy="226.9" r="1.05"/><circle cx="58.1" cy="237.6" r="1.05"/><circle cx="63.2" cy="232.9" r="1.05"/><circle cx="60.4" cy="242.2" r="1.05"/><circle cx="64.2" cy="239.9" r="1.05"/><circle cx="64.4" cy="238.9" r="1.05"/><circle cx="57.3" cy="226.4" r="1.05"/><circle cx="73.0" cy="232.0" r="1.05"/><circle cx="66.7" cy="238.5" r="1.05"/><circle cx="69.9" cy="235.2" r="1.05"/><circle cx="55.7" cy="229.9" r="1.05"/><circle cx="64.9" cy="237.2" r="1.05"/><circle cx="68.6" cy="235.7" r="1.05"/><circle cx="58.8" cy="233.7" r="1.05"/><circle cx="72.0" cy="229.0" r="1.05"/><circle cx="60.3" cy="238.6" r="1.05"/><circle cx="76.7" cy="235.9" r="1.05"/><circle cx="64.7" cy="228.5" r="1.05"/><circle cx="63.8" cy="229.4" r="1.05"/><circle cx="65.7" cy="237.6" r="1.05"/><circle cx="68.1" cy="240.8" r="1.05"/><circle cx="57.0" cy="226.8" r="1.05"/><circle cx="57.3" cy="234.4" r="1.05"/><circle cx="56.6" cy="233.6" r="1.05"/><circle cx="67.0" cy="239.0" r="1.05"/><circle cx="57.4" cy="226.8" r="1.05"/><circle cx="69.0" cy="231.9" r="1.05"/><circle cx="75.3" cy="227.5" r="1.05"/><circle cx="59.8" cy="218.8" r="1.05"/><circle cx="67.8" cy="232.1" r="1.05"/><circle cx="49.4" cy="226.2" r="1.05"/><circle cx="71.4" cy="230.4" r="1.05"/><circle cx="67.9" cy="236.7" r="1.05"/><circle cx="68.5" cy="228.7" r="1.05"/><circle cx="61.4" cy="239.2" r="1.05"/><circle cx="69.9" cy="231.9" r="1.05"/><circle cx="61.6" cy="238.7" r="1.05"/><circle cx="70.8" cy="233.0" r="1.05"/><circle cx="64.9" cy="237.6" r="1.05"/><circle cx="69.8" cy="232.2" r="1.05"/><circle cx="70.3" cy="230.8" r="1.05"/><circle cx="62.9" cy="237.3" r="1.05"/><circle cx="55.3" cy="231.9" r="1.05"/><circle cx="57.4" cy="237.6" r="1.05"/><circle cx="76.3" cy="230.0" r="1.05"/><circle cx="65.9" cy="231.8" r="1.05"/><circle cx="64.7" cy="237.4" r="1.05"/><circle cx="78.6" cy="226.9" r="1.05"/><circle cx="61.1" cy="232.7" r="1.05"/><circle cx="62.4" cy="234.5" r="1.05"/><circle cx="69.6" cy="231.3" r="1.05"/><circle cx="60.5" cy="241.2" r="1.05"/><circle cx="59.1" cy="236.7" r="1.05"/><circle cx="58.9" cy="227.6" r="1.05"/><circle cx="64.7" cy="236.5" r="1.05"/><circle cx="63.2" cy="233.1" r="1.05"/><circle cx="69.5" cy="230.1" r="1.05"/><circle cx="68.0" cy="238.0" r="1.05"/><circle cx="69.7" cy="236.9" r="1.05"/><circle cx="57.2" cy="232.2" r="1.05"/><circle cx="61.5" cy="237.6" r="1.05"/><circle cx="51.5" cy="234.5" r="1.05"/><circle cx="52.7" cy="237.3" r="1.05"/><circle cx="60.9" cy="234.0" r="1.05"/><circle cx="57.3" cy="234.4" r="1.05"/><circle cx="59.6" cy="237.4" r="1.05"/><circle cx="63.9" cy="234.3" r="1.05"/><circle cx="56.3" cy="232.0" r="1.05"/><circle cx="56.3" cy="233.9" r="1.05"/><circle cx="52.8" cy="235.2" r="1.05"/><circle cx="64.5" cy="235.9" r="1.05"/><circle cx="73.5" cy="224.4" r="1.05"/><circle cx="67.2" cy="233.5" r="1.05"/><circle cx="62.1" cy="235.5" r="1.05"/><circle cx="65.0" cy="227.7" r="1.05"/><circle cx="64.2" cy="223.9" r="1.05"/><circle cx="76.1" cy="233.7" r="1.05"/><circle cx="71.5" cy="228.8" r="1.05"/><circle cx="67.4" cy="235.0" r="1.05"/><circle cx="67.7" cy="229.8" r="1.05"/>
<circle cx="37.1" cy="213.0" r="1.05"/><circle cx="41.9" cy="227.0" r="1.05"/><circle cx="49.3" cy="216.9" r="1.05"/><circle cx="44.4" cy="212.5" r="1.05"/><circle cx="33.9" cy="202.0" r="1.05"/><circle cx="37.7" cy="213.4" r="1.05"/><circle cx="42.5" cy="224.0" r="1.05"/><circle cx="44.8" cy="213.6" r="1.05"/><circle cx="34.0" cy="212.5" r="1.05"/><circle cx="44.2" cy="207.5" r="1.05"/><circle cx="48.3" cy="224.5" r="1.05"/><circle cx="44.1" cy="199.5" r="1.05"/><circle cx="36.9" cy="220.4" r="1.05"/><circle cx="48.6" cy="229.5" r="1.05"/><circle cx="29.5" cy="217.7" r="1.05"/><circle cx="34.7" cy="221.3" r="1.05"/><circle cx="39.9" cy="200.8" r="1.05"/><circle cx="37.2" cy="217.7" r="1.05"/><circle cx="52.1" cy="209.0" r="1.05"/><circle cx="30.2" cy="210.1" r="1.05"/><circle cx="48.0" cy="212.5" r="1.05"/><circle cx="39.2" cy="218.3" r="1.05"/><circle cx="30.6" cy="223.4" r="1.05"/><circle cx="32.1" cy="207.5" r="1.05"/><circle cx="31.4" cy="205.5" r="1.05"/><circle cx="30.0" cy="208.4" r="1.05"/><circle cx="27.3" cy="213.3" r="1.05"/><circle cx="41.3" cy="210.1" r="1.05"/><circle cx="40.0" cy="208.1" r="1.05"/><circle cx="40.4" cy="212.1" r="1.05"/><circle cx="28.0" cy="215.5" r="1.05"/><circle cx="36.7" cy="209.4" r="1.05"/><circle cx="37.9" cy="219.0" r="1.05"/><circle cx="26.7" cy="210.7" r="1.05"/><circle cx="44.2" cy="214.7" r="1.05"/><circle cx="26.5" cy="217.6" r="1.05"/><circle cx="34.8" cy="226.1" r="1.05"/><circle cx="43.7" cy="203.6" r="1.05"/><circle cx="48.5" cy="214.8" r="1.05"/><circle cx="35.4" cy="214.9" r="1.05"/><circle cx="40.3" cy="207.9" r="1.05"/><circle cx="34.7" cy="225.5" r="1.05"/><circle cx="28.7" cy="209.9" r="1.05"/><circle cx="45.6" cy="207.2" r="1.05"/><circle cx="36.3" cy="217.1" r="1.05"/><circle cx="29.7" cy="212.2" r="1.05"/><circle cx="29.7" cy="213.0" r="1.05"/><circle cx="40.9" cy="214.8" r="1.05"/><circle cx="40.6" cy="217.7" r="1.05"/><circle cx="45.7" cy="206.2" r="1.05"/><circle cx="39.3" cy="227.3" r="1.05"/><circle cx="36.0" cy="212.5" r="1.05"/><circle cx="38.3" cy="208.9" r="1.05"/><circle cx="43.5" cy="214.6" r="1.05"/><circle cx="36.6" cy="220.6" r="1.05"/><circle cx="49.6" cy="203.4" r="1.05"/><circle cx="33.5" cy="212.5" r="1.05"/><circle cx="24.9" cy="220.1" r="1.05"/><circle cx="58.3" cy="221.1" r="1.05"/><circle cx="50.2" cy="199.1" r="1.05"/><circle cx="34.1" cy="204.1" r="1.05"/><circle cx="45.7" cy="213.7" r="1.05"/><circle cx="36.6" cy="218.6" r="1.05"/><circle cx="45.5" cy="227.7" r="1.05"/><circle cx="51.2" cy="222.2" r="1.05"/><circle cx="39.1" cy="202.5" r="1.05"/><circle cx="39.8" cy="212.7" r="1.05"/><circle cx="37.4" cy="222.4" r="1.05"/><circle cx="25.5" cy="219.8" r="1.05"/><circle cx="49.6" cy="205.6" r="1.05"/><circle cx="51.5" cy="209.3" r="1.05"/><circle cx="31.2" cy="222.2" r="1.05"/><circle cx="38.1" cy="199.9" r="1.05"/><circle cx="32.2" cy="220.2" r="1.05"/><circle cx="33.1" cy="210.9" r="1.05"/><circle cx="38.3" cy="214.6" r="1.05"/><circle cx="31.7" cy="207.2" r="1.05"/><circle cx="42.4" cy="224.5" r="1.05"/><circle cx="47.7" cy="207.6" r="1.05"/><circle cx="51.9" cy="202.6" r="1.05"/><circle cx="47.3" cy="227.7" r="1.05"/><circle cx="52.8" cy="193.4" r="1.05"/><circle cx="38.8" cy="206.7" r="1.05"/><circle cx="42.0" cy="225.9" r="1.05"/><circle cx="42.2" cy="227.8" r="1.05"/><circle cx="33.2" cy="220.0" r="1.05"/><circle cx="49.8" cy="208.0" r="1.05"/><circle cx="29.5" cy="221.8" r="1.05"/><circle cx="25.7" cy="219.2" r="1.05"/><circle cx="30.5" cy="214.0" r="1.05"/><circle cx="57.9" cy="212.6" r="1.05"/><circle cx="38.7" cy="208.2" r="1.05"/><circle cx="43.5" cy="226.9" r="1.05"/><circle cx="44.3" cy="204.2" r="1.05"/><circle cx="41.7" cy="227.2" r="1.05"/>
<circle cx="90.5" cy="191.1" r="1.05"/><circle cx="90.8" cy="187.0" r="1.05"/><circle cx="90.1" cy="179.7" r="1.05"/><circle cx="104.2" cy="192.0" r="1.05"/><circle cx="78.9" cy="182.6" r="1.05"/><circle cx="92.7" cy="182.0" r="1.05"/><circle cx="101.0" cy="190.6" r="1.05"/><circle cx="92.5" cy="188.3" r="1.05"/><circle cx="96.0" cy="189.1" r="1.05"/><circle cx="92.3" cy="191.3" r="1.05"/><circle cx="83.8" cy="195.2" r="1.05"/><circle cx="90.9" cy="200.2" r="1.05"/><circle cx="109.5" cy="208.4" r="1.05"/><circle cx="96.3" cy="192.7" r="1.05"/><circle cx="82.0" cy="201.9" r="1.05"/><circle cx="93.7" cy="186.7" r="1.05"/><circle cx="103.1" cy="184.3" r="1.05"/><circle cx="106.1" cy="195.6" r="1.05"/><circle cx="100.2" cy="187.8" r="1.05"/><circle cx="81.5" cy="187.3" r="1.05"/><circle cx="92.1" cy="187.8" r="1.05"/><circle cx="87.8" cy="186.1" r="1.05"/><circle cx="95.3" cy="201.2" r="1.05"/><circle cx="105.9" cy="192.6" r="1.05"/><circle cx="102.2" cy="209.2" r="1.05"/><circle cx="101.3" cy="198.0" r="1.05"/><circle cx="100.1" cy="186.7" r="1.05"/><circle cx="104.0" cy="208.6" r="1.05"/><circle cx="93.8" cy="195.9" r="1.05"/><circle cx="92.1" cy="189.5" r="1.05"/><circle cx="102.7" cy="187.0" r="1.05"/><circle cx="95.7" cy="193.9" r="1.05"/><circle cx="87.9" cy="208.5" r="1.05"/><circle cx="94.1" cy="192.5" r="1.05"/><circle cx="100.7" cy="206.1" r="1.05"/><circle cx="96.1" cy="212.1" r="1.05"/><circle cx="86.8" cy="180.2" r="1.05"/><circle cx="97.4" cy="195.3" r="1.05"/><circle cx="105.8" cy="204.3" r="1.05"/><circle cx="104.1" cy="193.2" r="1.05"/><circle cx="81.3" cy="185.9" r="1.05"/><circle cx="95.6" cy="181.0" r="1.05"/><circle cx="97.7" cy="193.4" r="1.05"/><circle cx="105.7" cy="196.3" r="1.05"/><circle cx="94.9" cy="193.7" r="1.05"/><circle cx="102.5" cy="212.1" r="1.05"/><circle cx="106.8" cy="190.5" r="1.05"/><circle cx="111.6" cy="204.6" r="1.05"/><circle cx="88.7" cy="199.5" r="1.05"/><circle cx="104.8" cy="197.0" r="1.05"/><circle cx="85.8" cy="200.2" r="1.05"/><circle cx="101.0" cy="210.0" r="1.05"/><circle cx="85.1" cy="195.2" r="1.05"/><circle cx="94.9" cy="209.9" r="1.05"/><circle cx="114.9" cy="205.0" r="1.05"/><circle cx="96.7" cy="190.6" r="1.05"/><circle cx="107.3" cy="189.5" r="1.05"/><circle cx="106.3" cy="195.5" r="1.05"/><circle cx="107.2" cy="193.8" r="1.05"/><circle cx="86.9" cy="178.8" r="1.05"/><circle cx="94.1" cy="197.3" r="1.05"/><circle cx="106.2" cy="202.4" r="1.05"/><circle cx="104.0" cy="207.5" r="1.05"/><circle cx="94.2" cy="203.8" r="1.05"/><circle cx="86.8" cy="188.6" r="1.05"/><circle cx="103.7" cy="198.5" r="1.05"/><circle cx="97.1" cy="186.4" r="1.05"/><circle cx="80.9" cy="208.1" r="1.05"/><circle cx="82.3" cy="177.4" r="1.05"/><circle cx="83.9" cy="189.9" r="1.05"/><circle cx="97.0" cy="186.8" r="1.05"/><circle cx="87.1" cy="191.1" r="1.05"/><circle cx="86.0" cy="195.6" r="1.05"/><circle cx="101.6" cy="187.6" r="1.05"/><circle cx="95.7" cy="179.7" r="1.05"/><circle cx="100.2" cy="192.2" r="1.05"/><circle cx="111.7" cy="215.4" r="1.05"/><circle cx="89.2" cy="203.2" r="1.05"/><circle cx="91.5" cy="187.3" r="1.05"/><circle cx="88.2" cy="197.1" r="1.05"/>
<circle cx="85.1" cy="185.4" r="1.05"/><circle cx="74.3" cy="180.9" r="1.05"/><circle cx="68.7" cy="177.7" r="1.05"/><circle cx="96.3" cy="194.1" r="1.05"/><circle cx="65.8" cy="183.0" r="1.05"/><circle cx="67.4" cy="186.8" r="1.05"/><circle cx="74.5" cy="198.2" r="1.05"/><circle cx="74.7" cy="188.7" r="1.05"/><circle cx="63.1" cy="191.2" r="1.05"/><circle cx="69.9" cy="181.0" r="1.05"/><circle cx="71.0" cy="177.8" r="1.05"/><circle cx="67.6" cy="197.0" r="1.05"/><circle cx="84.8" cy="189.9" r="1.05"/><circle cx="73.3" cy="187.9" r="1.05"/><circle cx="59.4" cy="187.2" r="1.05"/><circle cx="64.3" cy="182.1" r="1.05"/><circle cx="88.8" cy="181.4" r="1.05"/><circle cx="72.7" cy="186.7" r="1.05"/><circle cx="82.6" cy="184.5" r="1.05"/><circle cx="77.3" cy="188.6" r="1.05"/><circle cx="70.1" cy="182.4" r="1.05"/><circle cx="61.0" cy="193.0" r="1.05"/><circle cx="62.9" cy="193.5" r="1.05"/><circle cx="89.9" cy="182.6" r="1.05"/><circle cx="61.8" cy="179.7" r="1.05"/><circle cx="66.6" cy="194.6" r="1.05"/><circle cx="63.8" cy="179.3" r="1.05"/><circle cx="54.5" cy="186.8" r="1.05"/><circle cx="76.8" cy="195.8" r="1.05"/><circle cx="74.9" cy="185.9" r="1.05"/><circle cx="71.7" cy="204.6" r="1.05"/><circle cx="89.0" cy="191.9" r="1.05"/><circle cx="68.6" cy="185.0" r="1.05"/><circle cx="71.2" cy="185.6" r="1.05"/><circle cx="77.3" cy="181.8" r="1.05"/><circle cx="92.1" cy="179.9" r="1.05"/><circle cx="79.1" cy="191.0" r="1.05"/><circle cx="82.3" cy="194.9" r="1.05"/><circle cx="75.5" cy="187.5" r="1.05"/><circle cx="87.7" cy="194.5" r="1.05"/>
<path d="M51.4 228.4Q51.4 239.0 57.3 242.2T73.1 240.7" fill="none" stroke="#15157c" stroke-width="1"/>
<circle cx="158.8" cy="197.0" r="1.05"/><circle cx="178.4" cy="213.7" r="1.05"/><circle cx="168.0" cy="208.2" r="1.05"/><circle cx="215.3" cy="200.7" r="1.05"/><circle cx="167.2" cy="180.9" r="1.05"/><circle cx="220.4" cy="205.7" r="1.05"/><circle cx="168.2" cy="186.3" r="1.05"/><circle cx="147.4" cy="213.9" r="1.05"/><circle cx="195.9" cy="211.4" r="1.05"/><circle cx="183.9" cy="202.4" r="1.05"/><circle cx="222.7" cy="214.6" r="1.05"/><circle cx="154.3" cy="185.9" r="1.05"/><circle cx="196.0" cy="234.1" r="1.05"/><circle cx="190.8" cy="181.5" r="1.05"/><circle cx="212.4" cy="228.6" r="1.05"/><circle cx="139.2" cy="206.6" r="1.05"/><circle cx="164.3" cy="230.3" r="1.05"/><circle cx="204.0" cy="187.7" r="1.05"/><circle cx="202.1" cy="215.7" r="1.05"/><circle cx="182.0" cy="214.8" r="1.05"/><circle cx="164.5" cy="187.9" r="1.05"/><circle cx="224.2" cy="200.2" r="1.05"/><circle cx="184.7" cy="222.8" r="1.05"/><circle cx="167.9" cy="184.3" r="1.05"/><circle cx="152.1" cy="205.8" r="1.05"/><circle cx="185.9" cy="200.1" r="1.05"/><circle cx="187.4" cy="189.2" r="1.05"/><circle cx="165.0" cy="196.9" r="1.05"/><circle cx="175.4" cy="235.8" r="1.05"/><circle cx="190.8" cy="192.1" r="1.05"/><circle cx="177.7" cy="236.1" r="1.05"/><circle cx="162.3" cy="194.3" r="1.05"/><circle cx="136.2" cy="221.9" r="1.05"/><circle cx="143.2" cy="211.9" r="1.05"/><circle cx="148.7" cy="217.3" r="1.05"/><circle cx="218.2" cy="206.5" r="1.05"/><circle cx="161.4" cy="218.9" r="1.05"/><circle cx="158.1" cy="200.9" r="1.05"/><circle cx="184.2" cy="193.4" r="1.05"/><circle cx="199.2" cy="192.1" r="1.05"/><circle cx="223.5" cy="199.1" r="1.05"/><circle cx="221.3" cy="203.8" r="1.05"/><circle cx="158.1" cy="197.3" r="1.05"/><circle cx="184.2" cy="192.3" r="1.05"/><circle cx="168.6" cy="189.0" r="1.05"/><circle cx="158.2" cy="228.1" r="1.05"/><circle cx="193.8" cy="206.0" r="1.05"/><circle cx="180.9" cy="218.2" r="1.05"/><circle cx="217.4" cy="207.2" r="1.05"/><circle cx="208.9" cy="199.0" r="1.05"/><circle cx="177.7" cy="200.8" r="1.05"/><circle cx="144.1" cy="215.5" r="1.05"/><circle cx="159.6" cy="229.0" r="1.05"/><circle cx="186.5" cy="194.8" r="1.05"/><circle cx="215.7" cy="206.1" r="1.05"/><circle cx="139.7" cy="204.8" r="1.05"/><circle cx="198.6" cy="184.7" r="1.05"/><circle cx="158.1" cy="188.3" r="1.05"/><circle cx="171.2" cy="220.0" r="1.05"/><circle cx="176.4" cy="221.7" r="1.05"/><circle cx="215.8" cy="202.4" r="1.05"/><circle cx="193.8" cy="193.3" r="1.05"/><circle cx="179.2" cy="219.8" r="1.05"/><circle cx="139.7" cy="210.9" r="1.05"/><circle cx="183.9" cy="186.8" r="1.05"/><circle cx="168.9" cy="187.5" r="1.05"/><circle cx="162.5" cy="211.5" r="1.05"/><circle cx="173.7" cy="199.1" r="1.05"/><circle cx="166.2" cy="189.3" r="1.05"/><circle cx="184.1" cy="217.2" r="1.05"/><circle cx="143.3" cy="216.5" r="1.05"/><circle cx="203.0" cy="198.6" r="1.05"/><circle cx="223.8" cy="230.8" r="1.05"/><circle cx="189.1" cy="222.8" r="1.05"/><circle cx="198.7" cy="236.1" r="1.05"/><circle cx="218.7" cy="195.6" r="1.05"/><circle cx="154.9" cy="213.3" r="1.05"/><circle cx="192.5" cy="199.2" r="1.05"/><circle cx="202.0" cy="212.5" r="1.05"/><circle cx="202.9" cy="187.7" r="1.05"/><circle cx="223.3" cy="219.1" r="1.05"/><circle cx="161.8" cy="187.4" r="1.05"/><circle cx="193.5" cy="207.3" r="1.05"/><circle cx="220.6" cy="204.7" r="1.05"/><circle cx="177.7" cy="227.3" r="1.05"/><circle cx="194.1" cy="205.9" r="1.05"/><circle cx="163.3" cy="207.4" r="1.05"/><circle cx="171.3" cy="212.1" r="1.05"/><circle cx="192.3" cy="225.8" r="1.05"/><circle cx="165.8" cy="229.6" r="1.05"/><circle cx="165.0" cy="219.1" r="1.05"/><circle cx="164.4" cy="228.1" r="1.05"/><circle cx="171.5" cy="217.4" r="1.05"/><circle cx="210.9" cy="188.1" r="1.05"/><circle cx="157.8" cy="187.4" r="1.05"/><circle cx="211.3" cy="195.1" r="1.05"/><circle cx="211.9" cy="210.5" r="1.05"/><circle cx="181.0" cy="182.6" r="1.05"/><circle cx="198.7" cy="224.5" r="1.05"/><circle cx="222.6" cy="228.1" r="1.05"/><circle cx="147.6" cy="201.6" r="1.05"/><circle cx="204.4" cy="229.1" r="1.05"/><circle cx="224.5" cy="204.8" r="1.05"/><circle cx="192.5" cy="193.5" r="1.05"/><circle cx="158.9" cy="180.4" r="1.05"/><circle cx="169.7" cy="211.1" r="1.05"/><circle cx="192.6" cy="242.2" r="1.05"/><circle cx="196.6" cy="221.3" r="1.05"/><circle cx="196.3" cy="202.9" r="1.05"/><circle cx="207.8" cy="195.5" r="1.05"/><circle cx="161.8" cy="191.7" r="1.05"/><circle cx="205.8" cy="206.7" r="1.05"/><circle cx="149.8" cy="199.4" r="1.05"/><circle cx="190.4" cy="200.6" r="1.05"/><circle cx="192.8" cy="234.9" r="1.05"/><circle cx="197.4" cy="231.9" r="1.05"/><circle cx="227.0" cy="212.1" r="1.05"/><circle cx="205.7" cy="210.5" r="1.05"/><circle cx="187.6" cy="181.9" r="1.05"/><circle cx="154.7" cy="218.0" r="1.05"/>
<circle cx="160.4" cy="197.7" r="1.05"/><circle cx="163.1" cy="183.1" r="1.05"/><circle cx="157.6" cy="205.2" r="1.05"/><circle cx="159.3" cy="196.8" r="1.05"/><circle cx="172.3" cy="185.3" r="1.05"/><circle cx="159.7" cy="189.1" r="1.05"/><circle cx="168.1" cy="190.9" r="1.05"/><circle cx="170.6" cy="202.0" r="1.05"/><circle cx="169.6" cy="199.2" r="1.05"/><circle cx="153.5" cy="192.5" r="1.05"/><circle cx="162.0" cy="182.3" r="1.05"/><circle cx="150.1" cy="196.2" r="1.05"/><circle cx="158.8" cy="196.3" r="1.05"/><circle cx="170.1" cy="181.5" r="1.05"/><circle cx="151.6" cy="193.2" r="1.05"/><circle cx="154.2" cy="189.4" r="1.05"/><circle cx="171.2" cy="191.4" r="1.05"/><circle cx="162.4" cy="187.9" r="1.05"/><circle cx="167.2" cy="186.8" r="1.05"/><circle cx="172.9" cy="184.7" r="1.05"/><circle cx="163.2" cy="197.1" r="1.05"/><circle cx="147.1" cy="194.2" r="1.05"/><circle cx="165.5" cy="207.3" r="1.05"/><circle cx="168.2" cy="183.7" r="1.05"/><circle cx="165.7" cy="189.2" r="1.05"/><circle cx="153.0" cy="187.1" r="1.05"/><circle cx="166.7" cy="181.1" r="1.05"/><circle cx="157.4" cy="187.9" r="1.05"/><circle cx="148.9" cy="195.5" r="1.05"/><circle cx="169.5" cy="175.8" r="1.05"/><circle cx="165.2" cy="201.0" r="1.05"/><circle cx="163.7" cy="189.3" r="1.05"/><circle cx="166.1" cy="191.3" r="1.05"/><circle cx="156.5" cy="185.0" r="1.05"/><circle cx="160.5" cy="189.0" r="1.05"/><circle cx="162.8" cy="180.9" r="1.05"/><circle cx="167.6" cy="193.0" r="1.05"/><circle cx="165.2" cy="185.3" r="1.05"/><circle cx="148.4" cy="202.0" r="1.05"/><circle cx="153.6" cy="197.7" r="1.05"/><circle cx="166.4" cy="191.6" r="1.05"/><circle cx="170.1" cy="196.9" r="1.05"/><circle cx="158.0" cy="192.4" r="1.05"/><circle cx="157.3" cy="189.9" r="1.05"/><circle cx="160.4" cy="193.3" r="1.05"/><circle cx="157.4" cy="194.2" r="1.05"/><circle cx="165.7" cy="185.3" r="1.05"/><circle cx="160.5" cy="182.0" r="1.05"/><circle cx="161.9" cy="208.1" r="1.05"/><circle cx="164.7" cy="201.4" r="1.05"/><circle cx="159.0" cy="189.4" r="1.05"/><circle cx="147.1" cy="205.8" r="1.05"/><circle cx="161.8" cy="183.3" r="1.05"/><circle cx="167.2" cy="193.8" r="1.05"/><circle cx="158.5" cy="186.4" r="1.05"/><circle cx="163.1" cy="185.2" r="1.05"/><circle cx="166.5" cy="200.6" r="1.05"/><circle cx="154.6" cy="189.1" r="1.05"/><circle cx="150.0" cy="194.5" r="1.05"/><circle cx="165.6" cy="186.7" r="1.05"/><circle cx="169.3" cy="197.5" r="1.05"/><circle cx="151.4" cy="189.9" r="1.05"/><circle cx="163.5" cy="186.5" r="1.05"/><circle cx="152.7" cy="195.3" r="1.05"/><circle cx="167.9" cy="198.2" r="1.05"/><circle cx="155.6" cy="197.2" r="1.05"/><circle cx="165.2" cy="187.7" r="1.05"/><circle cx="156.5" cy="211.7" r="1.05"/><circle cx="164.5" cy="191.7" r="1.05"/><circle cx="181.6" cy="190.3" r="1.05"/><circle cx="153.3" cy="195.2" r="1.05"/><circle cx="178.0" cy="194.3" r="1.05"/><circle cx="171.4" cy="185.0" r="1.05"/><circle cx="165.8" cy="181.9" r="1.05"/><circle cx="161.8" cy="196.9" r="1.05"/><circle cx="161.9" cy="196.3" r="1.05"/><circle cx="160.4" cy="194.0" r="1.05"/><circle cx="177.8" cy="187.7" r="1.05"/><circle cx="160.1" cy="200.8" r="1.05"/><circle cx="147.0" cy="194.3" r="1.05"/><circle cx="163.0" cy="201.8" r="1.05"/><circle cx="145.6" cy="193.9" r="1.05"/><circle cx="160.9" cy="192.1" r="1.05"/><circle cx="153.9" cy="207.2" r="1.05"/><circle cx="170.8" cy="198.7" r="1.05"/><circle cx="167.2" cy="193.9" r="1.05"/><circle cx="157.2" cy="190.1" r="1.05"/><circle cx="153.6" cy="199.3" r="1.05"/><circle cx="156.5" cy="204.8" r="1.05"/><circle cx="161.4" cy="184.5" r="1.05"/><circle cx="149.9" cy="189.8" r="1.05"/><circle cx="147.5" cy="191.9" r="1.05"/><circle cx="155.7" cy="186.8" r="1.05"/><circle cx="148.5" cy="203.3" r="1.05"/><circle cx="162.4" cy="202.4" r="1.05"/><circle cx="149.8" cy="191.8" r="1.05"/><circle cx="170.9" cy="199.7" r="1.05"/><circle cx="170.9" cy="194.3" r="1.05"/><circle cx="152.6" cy="200.7" r="1.05"/><circle cx="172.2" cy="207.3" r="1.05"/><circle cx="153.6" cy="197.5" r="1.05"/><circle cx="176.6" cy="188.0" r="1.05"/><circle cx="165.1" cy="197.2" r="1.05"/><circle cx="162.1" cy="197.7" r="1.05"/><circle cx="162.9" cy="198.4" r="1.05"/><circle cx="153.6" cy="193.5" r="1.05"/><circle cx="165.4" cy="184.9" r="1.05"/><circle cx="155.6" cy="184.3" r="1.05"/><circle cx="171.8" cy="201.4" r="1.05"/><circle cx="154.0" cy="187.4" r="1.05"/><circle cx="158.2" cy="189.6" r="1.05"/><circle cx="164.0" cy="188.9" r="1.05"/><circle cx="171.6" cy="196.4" r="1.05"/><circle cx="165.6" cy="195.5" r="1.05"/><circle cx="167.2" cy="189.5" r="1.05"/><circle cx="161.8" cy="180.0" r="1.05"/><circle cx="175.6" cy="199.4" r="1.05"/><circle cx="165.3" cy="180.1" r="1.05"/><circle cx="161.0" cy="196.8" r="1.05"/><circle cx="156.2" cy="197.7" r="1.05"/><circle cx="166.6" cy="203.5" r="1.05"/><circle cx="154.9" cy="188.9" r="1.05"/><circle cx="169.2" cy="197.4" r="1.05"/><circle cx="156.7" cy="182.8" r="1.05"/><circle cx="160.8" cy="196.7" r="1.05"/><circle cx="157.6" cy="204.5" r="1.05"/><circle cx="157.3" cy="184.8" r="1.05"/><circle cx="157.8" cy="192.1" r="1.05"/><circle cx="152.0" cy="189.9" r="1.05"/><circle cx="181.8" cy="188.5" r="1.05"/><circle cx="179.2" cy="204.4" r="1.05"/><circle cx="165.6" cy="188.2" r="1.05"/><circle cx="162.2" cy="196.2" r="1.05"/><circle cx="167.1" cy="179.0" r="1.05"/><circle cx="171.8" cy="181.6" r="1.05"/><circle cx="158.9" cy="206.0" r="1.05"/><circle cx="160.0" cy="199.0" r="1.05"/><circle cx="154.1" cy="202.2" r="1.05"/><circle cx="162.3" cy="202.6" r="1.05"/><circle cx="154.5" cy="196.9" r="1.05"/><circle cx="152.0" cy="192.5" r="1.05"/><circle cx="158.5" cy="188.0" r="1.05"/><circle cx="162.9" cy="192.9" r="1.05"/><circle cx="153.5" cy="205.7" r="1.05"/><circle cx="149.3" cy="189.4" r="1.05"/><circle cx="169.9" cy="179.2" r="1.05"/><circle cx="162.5" cy="197.5" r="1.05"/><circle cx="155.3" cy="192.8" r="1.05"/><circle cx="157.6" cy="190.9" r="1.05"/><circle cx="156.5" cy="204.1" r="1.05"/><circle cx="163.2" cy="195.9" r="1.05"/><circle cx="158.1" cy="186.3" r="1.05"/><circle cx="165.4" cy="180.9" r="1.05"/><circle cx="164.2" cy="181.6" r="1.05"/><circle cx="155.7" cy="194.8" r="1.05"/><circle cx="181.0" cy="189.4" r="1.05"/><circle cx="163.2" cy="194.3" r="1.05"/><circle cx="166.7" cy="183.1" r="1.05"/><circle cx="157.1" cy="185.8" r="1.05"/><circle cx="164.9" cy="203.7" r="1.05"/><circle cx="156.1" cy="187.5" r="1.05"/><circle cx="166.0" cy="200.7" r="1.05"/><circle cx="175.6" cy="190.1" r="1.05"/><circle cx="156.7" cy="188.9" r="1.05"/><circle cx="149.9" cy="190.9" r="1.05"/><circle cx="169.7" cy="192.3" r="1.05"/><circle cx="158.4" cy="182.0" r="1.05"/><circle cx="157.1" cy="186.2" r="1.05"/><circle cx="171.3" cy="185.6" r="1.05"/><circle cx="159.7" cy="191.5" r="1.05"/><circle cx="160.9" cy="192.0" r="1.05"/><circle cx="157.9" cy="195.5" r="1.05"/><circle cx="164.8" cy="198.0" r="1.05"/><circle cx="167.2" cy="194.5" r="1.05"/><circle cx="157.1" cy="193.4" r="1.05"/><circle cx="172.9" cy="194.3" r="1.05"/><circle cx="171.8" cy="209.1" r="1.05"/><circle cx="149.8" cy="197.9" r="1.05"/><circle cx="159.3" cy="187.0" r="1.05"/><circle cx="175.9" cy="194.1" r="1.05"/><circle cx="160.0" cy="182.2" r="1.05"/><circle cx="162.6" cy="190.8" r="1.05"/><circle cx="158.1" cy="203.9" r="1.05"/><circle cx="160.8" cy="190.4" r="1.05"/><circle cx="154.1" cy="200.2" r="1.05"/><circle cx="175.3" cy="195.4" r="1.05"/><circle cx="153.4" cy="186.8" r="1.05"/><circle cx="166.0" cy="190.6" r="1.05"/><circle cx="153.5" cy="208.7" r="1.05"/><circle cx="148.6" cy="201.8" r="1.05"/><circle cx="166.0" cy="195.8" r="1.05"/><circle cx="164.9" cy="197.6" r="1.05"/><circle cx="158.9" cy="183.2" r="1.05"/><circle cx="162.2" cy="204.6" r="1.05"/><circle cx="150.1" cy="204.2" r="1.05"/><circle cx="156.5" cy="198.3" r="1.05"/><circle cx="144.7" cy="209.2" r="1.05"/><circle cx="167.6" cy="183.3" r="1.05"/><circle cx="158.3" cy="193.0" r="1.05"/><circle cx="162.5" cy="179.8" r="1.05"/><circle cx="158.7" cy="195.9" r="1.05"/><circle cx="151.3" cy="199.6" r="1.05"/><circle cx="163.6" cy="197.9" r="1.05"/><circle cx="152.4" cy="195.3" r="1.05"/><circle cx="163.5" cy="190.2" r="1.05"/><circle cx="157.9" cy="204.4" r="1.05"/><circle cx="160.5" cy="192.9" r="1.05"/><circle cx="163.9" cy="196.5" r="1.05"/><circle cx="158.3" cy="185.6" r="1.05"/><circle cx="166.3" cy="187.5" r="1.05"/>
<circle cx="189.3" cy="233.1" r="1.05"/><circle cx="171.6" cy="227.7" r="1.05"/><circle cx="194.9" cy="223.1" r="1.05"/><circle cx="184.1" cy="229.9" r="1.05"/><circle cx="198.4" cy="231.8" r="1.05"/><circle cx="188.2" cy="235.8" r="1.05"/><circle cx="172.4" cy="222.2" r="1.05"/><circle cx="182.9" cy="235.1" r="1.05"/><circle cx="206.9" cy="237.0" r="1.05"/><circle cx="187.6" cy="228.0" r="1.05"/><circle cx="187.0" cy="242.9" r="1.05"/><circle cx="187.4" cy="227.7" r="1.05"/><circle cx="187.2" cy="225.3" r="1.05"/><circle cx="203.5" cy="233.9" r="1.05"/><circle cx="166.2" cy="210.9" r="1.05"/><circle cx="193.7" cy="229.2" r="1.05"/><circle cx="194.1" cy="236.5" r="1.05"/><circle cx="173.7" cy="225.7" r="1.05"/><circle cx="175.9" cy="234.4" r="1.05"/><circle cx="166.7" cy="230.4" r="1.05"/><circle cx="207.1" cy="224.8" r="1.05"/><circle cx="189.4" cy="227.6" r="1.05"/><circle cx="163.4" cy="231.5" r="1.05"/><circle cx="175.5" cy="235.4" r="1.05"/><circle cx="191.6" cy="245.1" r="1.05"/><circle cx="180.4" cy="235.3" r="1.05"/><circle cx="191.6" cy="229.6" r="1.05"/><circle cx="203.0" cy="235.6" r="1.05"/><circle cx="181.7" cy="231.0" r="1.05"/><circle cx="214.3" cy="227.7" r="1.05"/><circle cx="190.6" cy="229.5" r="1.05"/><circle cx="177.0" cy="234.4" r="1.05"/><circle cx="184.7" cy="225.7" r="1.05"/><circle cx="178.6" cy="235.5" r="1.05"/><circle cx="188.9" cy="232.7" r="1.05"/><circle cx="179.0" cy="231.6" r="1.05"/><circle cx="189.5" cy="224.7" r="1.05"/><circle cx="187.1" cy="234.5" r="1.05"/><circle cx="192.5" cy="217.5" r="1.05"/><circle cx="185.7" cy="239.7" r="1.05"/><circle cx="202.6" cy="229.7" r="1.05"/><circle cx="182.9" cy="233.5" r="1.05"/><circle cx="192.7" cy="228.6" r="1.05"/><circle cx="183.7" cy="226.8" r="1.05"/><circle cx="189.8" cy="225.2" r="1.05"/><circle cx="184.7" cy="222.5" r="1.05"/><circle cx="203.1" cy="239.8" r="1.05"/><circle cx="186.4" cy="229.3" r="1.05"/><circle cx="198.9" cy="235.5" r="1.05"/><circle cx="186.2" cy="212.1" r="1.05"/><circle cx="161.3" cy="229.2" r="1.05"/><circle cx="187.0" cy="225.8" r="1.05"/><circle cx="162.0" cy="229.3" r="1.05"/><circle cx="171.8" cy="228.2" r="1.05"/><circle cx="188.0" cy="227.6" r="1.05"/><circle cx="171.6" cy="229.4" r="1.05"/><circle cx="170.0" cy="222.5" r="1.05"/><circle cx="184.5" cy="238.4" r="1.05"/><circle cx="181.9" cy="230.7" r="1.05"/><circle cx="200.6" cy="217.5" r="1.05"/><circle cx="175.7" cy="225.7" r="1.05"/><circle cx="176.6" cy="234.2" r="1.05"/><circle cx="179.9" cy="233.5" r="1.05"/><circle cx="201.5" cy="232.8" r="1.05"/><circle cx="190.7" cy="242.2" r="1.05"/><circle cx="201.4" cy="235.1" r="1.05"/><circle cx="165.7" cy="221.0" r="1.05"/><circle cx="186.4" cy="233.2" r="1.05"/><circle cx="190.6" cy="231.9" r="1.05"/><circle cx="172.9" cy="231.7" r="1.05"/><circle cx="201.6" cy="234.4" r="1.05"/><circle cx="187.6" cy="237.1" r="1.05"/><circle cx="182.2" cy="232.8" r="1.05"/><circle cx="203.1" cy="230.4" r="1.05"/><circle cx="188.7" cy="226.1" r="1.05"/><circle cx="176.2" cy="215.1" r="1.05"/><circle cx="203.6" cy="232.7" r="1.05"/><circle cx="201.8" cy="232.1" r="1.05"/><circle cx="157.7" cy="229.9" r="1.05"/><circle cx="185.1" cy="229.4" r="1.05"/><circle cx="196.9" cy="240.7" r="1.05"/><circle cx="185.4" cy="232.9" r="1.05"/><circle cx="194.7" cy="227.5" r="1.05"/><circle cx="200.3" cy="230.8" r="1.05"/><circle cx="192.8" cy="239.4" r="1.05"/><circle cx="205.6" cy="222.6" r="1.05"/><circle cx="179.1" cy="227.2" r="1.05"/><circle cx="177.9" cy="228.0" r="1.05"/><circle cx="187.2" cy="231.9" r="1.05"/><circle cx="190.8" cy="227.0" r="1.05"/><circle cx="185.7" cy="229.6" r="1.05"/><circle cx="199.5" cy="226.0" r="1.05"/><circle cx="187.4" cy="224.1" r="1.05"/><circle cx="163.7" cy="230.4" r="1.05"/><circle cx="185.5" cy="233.4" r="1.05"/><circle cx="186.9" cy="233.7" r="1.05"/><circle cx="182.1" cy="228.5" r="1.05"/><circle cx="165.6" cy="231.1" r="1.05"/><circle cx="188.2" cy="238.8" r="1.05"/><circle cx="215.4" cy="232.6" r="1.05"/><circle cx="191.3" cy="230.9" r="1.05"/><circle cx="206.4" cy="234.7" r="1.05"/><circle cx="193.8" cy="233.5" r="1.05"/><circle cx="169.2" cy="228.3" r="1.05"/><circle cx="167.9" cy="219.8" r="1.05"/><circle cx="175.2" cy="220.6" r="1.05"/><circle cx="185.0" cy="235.3" r="1.05"/><circle cx="165.7" cy="231.6" r="1.05"/><circle cx="179.8" cy="236.5" r="1.05"/><circle cx="180.9" cy="226.5" r="1.05"/><circle cx="197.7" cy="238.8" r="1.05"/><circle cx="186.0" cy="220.8" r="1.05"/><circle cx="190.9" cy="242.1" r="1.05"/><circle cx="201.9" cy="225.7" r="1.05"/><circle cx="189.7" cy="233.8" r="1.05"/><circle cx="172.4" cy="222.7" r="1.05"/><circle cx="177.2" cy="233.4" r="1.05"/><circle cx="196.9" cy="229.3" r="1.05"/><circle cx="197.3" cy="236.3" r="1.05"/><circle cx="190.5" cy="225.6" r="1.05"/><circle cx="183.4" cy="231.4" r="1.05"/><circle cx="190.1" cy="223.7" r="1.05"/><circle cx="206.2" cy="225.3" r="1.05"/><circle cx="204.4" cy="222.7" r="1.05"/><circle cx="168.1" cy="226.7" r="1.05"/><circle cx="190.1" cy="241.6" r="1.05"/><circle cx="194.3" cy="241.3" r="1.05"/><circle cx="205.3" cy="225.0" r="1.05"/><circle cx="198.8" cy="228.5" r="1.05"/><circle cx="174.8" cy="232.2" r="1.05"/><circle cx="172.1" cy="225.1" r="1.05"/><circle cx="194.1" cy="223.9" r="1.05"/><circle cx="195.1" cy="240.8" r="1.05"/><circle cx="193.0" cy="238.7" r="1.05"/><circle cx="178.5" cy="225.6" r="1.05"/><circle cx="209.7" cy="229.4" r="1.05"/><circle cx="179.6" cy="235.7" r="1.05"/><circle cx="189.2" cy="223.5" r="1.05"/><circle cx="181.3" cy="225.0" r="1.05"/><circle cx="172.5" cy="223.6" r="1.05"/><circle cx="199.8" cy="230.7" r="1.05"/><circle cx="192.5" cy="228.0" r="1.05"/><circle cx="184.7" cy="235.6" r="1.05"/><circle cx="194.4" cy="231.8" r="1.05"/><circle cx="182.9" cy="237.8" r="1.05"/><circle cx="185.7" cy="221.0" r="1.05"/><circle cx="197.3" cy="238.7" r="1.05"/><circle cx="187.9" cy="227.6" r="1.05"/><circle cx="194.1" cy="233.1" r="1.05"/><circle cx="178.4" cy="235.1" r="1.05"/><circle cx="160.9" cy="220.8" r="1.05"/><circle cx="197.0" cy="234.9" r="1.05"/><circle cx="170.7" cy="232.9" r="1.05"/><circle cx="197.1" cy="239.3" r="1.05"/><circle cx="184.0" cy="229.4" r="1.05"/><circle cx="185.5" cy="233.0" r="1.05"/><circle cx="190.3" cy="231.5" r="1.05"/><circle cx="196.8" cy="241.9" r="1.05"/><circle cx="188.5" cy="240.7" r="1.05"/><circle cx="177.3" cy="226.0" r="1.05"/><circle cx="193.4" cy="240.1" r="1.05"/><circle cx="194.3" cy="222.1" r="1.05"/><circle cx="185.7" cy="222.8" r="1.05"/><circle cx="202.0" cy="232.2" r="1.05"/><circle cx="156.4" cy="218.4" r="1.05"/><circle cx="194.2" cy="225.4" r="1.05"/><circle cx="197.9" cy="222.5" r="1.05"/><circle cx="183.0" cy="237.0" r="1.05"/><circle cx="190.7" cy="225.4" r="1.05"/><circle cx="176.5" cy="235.6" r="1.05"/><circle cx="197.5" cy="236.4" r="1.05"/><circle cx="199.0" cy="233.9" r="1.05"/><circle cx="189.1" cy="231.1" r="1.05"/><circle cx="180.6" cy="237.5" r="1.05"/><circle cx="200.1" cy="233.0" r="1.05"/><circle cx="195.0" cy="225.2" r="1.05"/><circle cx="190.2" cy="232.4" r="1.05"/><circle cx="182.8" cy="220.3" r="1.05"/><circle cx="175.8" cy="229.7" r="1.05"/><circle cx="184.7" cy="237.3" r="1.05"/><circle cx="170.6" cy="231.8" r="1.05"/><circle cx="176.8" cy="231.9" r="1.05"/><circle cx="189.2" cy="241.9" r="1.05"/><circle cx="197.0" cy="232.1" r="1.05"/><circle cx="193.6" cy="222.9" r="1.05"/><circle cx="188.4" cy="235.3" r="1.05"/><circle cx="193.3" cy="229.5" r="1.05"/><circle cx="192.4" cy="234.7" r="1.05"/><circle cx="195.3" cy="227.1" r="1.05"/><circle cx="199.7" cy="234.5" r="1.05"/><circle cx="173.0" cy="226.7" r="1.05"/><circle cx="186.0" cy="225.7" r="1.05"/><circle cx="182.8" cy="235.0" r="1.05"/><circle cx="182.9" cy="240.3" r="1.05"/><circle cx="196.1" cy="228.3" r="1.05"/><circle cx="183.9" cy="236.9" r="1.05"/><circle cx="184.1" cy="230.8" r="1.05"/><circle cx="178.2" cy="232.9" r="1.05"/><circle cx="184.9" cy="223.1" r="1.05"/><circle cx="183.2" cy="226.1" r="1.05"/><circle cx="190.9" cy="222.9" r="1.05"/><circle cx="183.9" cy="233.8" r="1.05"/><circle cx="186.3" cy="235.1" r="1.05"/><circle cx="210.5" cy="229.2" r="1.05"/><circle cx="171.4" cy="217.8" r="1.05"/><circle cx="199.4" cy="231.1" r="1.05"/><circle cx="186.1" cy="234.1" r="1.05"/><circle cx="205.2" cy="238.0" r="1.05"/><circle cx="202.3" cy="235.6" r="1.05"/><circle cx="186.1" cy="221.7" r="1.05"/><circle cx="200.6" cy="225.9" r="1.05"/><circle cx="217.0" cy="225.7" r="1.05"/><circle cx="202.4" cy="227.9" r="1.05"/><circle cx="173.4" cy="232.9" r="1.05"/><circle cx="189.2" cy="237.0" r="1.05"/><circle cx="173.8" cy="226.9" r="1.05"/><circle cx="183.5" cy="232.2" r="1.05"/><circle cx="201.0" cy="234.1" r="1.05"/><circle cx="175.4" cy="229.1" r="1.05"/><circle cx="166.6" cy="221.9" r="1.05"/><circle cx="206.8" cy="232.7" r="1.05"/><circle cx="201.3" cy="232.3" r="1.05"/><circle cx="175.7" cy="229.4" r="1.05"/><circle cx="195.8" cy="232.7" r="1.05"/><circle cx="189.3" cy="243.6" r="1.05"/><circle cx="188.2" cy="234.1" r="1.05"/><circle cx="176.5" cy="234.3" r="1.05"/><circle cx="178.3" cy="230.4" r="1.05"/><circle cx="180.7" cy="234.3" r="1.05"/><circle cx="194.1" cy="240.5" r="1.05"/><circle cx="188.6" cy="236.2" r="1.05"/><circle cx="216.2" cy="232.4" r="1.05"/><circle cx="174.6" cy="233.9" r="1.05"/><circle cx="190.5" cy="232.9" r="1.05"/><circle cx="155.3" cy="221.8" r="1.05"/><circle cx="201.1" cy="238.5" r="1.05"/><circle cx="189.2" cy="230.8" r="1.05"/><circle cx="179.8" cy="226.6" r="1.05"/><circle cx="192.2" cy="219.6" r="1.05"/><circle cx="208.4" cy="228.5" r="1.05"/><circle cx="178.0" cy="226.8" r="1.05"/><circle cx="191.4" cy="239.9" r="1.05"/><circle cx="175.0" cy="231.5" r="1.05"/><circle cx="198.4" cy="232.7" r="1.05"/><circle cx="194.0" cy="229.9" r="1.05"/><circle cx="184.6" cy="223.6" r="1.05"/><circle cx="174.8" cy="233.0" r="1.05"/><circle cx="194.1" cy="236.7" r="1.05"/><circle cx="180.1" cy="231.9" r="1.05"/><circle cx="202.6" cy="226.4" r="1.05"/><circle cx="175.5" cy="220.5" r="1.05"/><circle cx="189.3" cy="232.7" r="1.05"/><circle cx="150.7" cy="223.4" r="1.05"/><circle cx="180.8" cy="235.8" r="1.05"/><circle cx="175.0" cy="217.3" r="1.05"/><circle cx="173.2" cy="231.2" r="1.05"/><circle cx="181.1" cy="233.8" r="1.05"/><circle cx="215.6" cy="230.1" r="1.05"/><circle cx="181.0" cy="231.2" r="1.05"/><circle cx="200.5" cy="229.0" r="1.05"/><circle cx="189.9" cy="224.7" r="1.05"/><circle cx="193.3" cy="238.4" r="1.05"/><circle cx="198.2" cy="234.2" r="1.05"/><circle cx="185.4" cy="228.4" r="1.05"/><circle cx="191.8" cy="234.1" r="1.05"/><circle cx="204.9" cy="236.5" r="1.05"/><circle cx="189.2" cy="243.3" r="1.05"/><circle cx="183.0" cy="222.8" r="1.05"/><circle cx="186.3" cy="226.8" r="1.05"/><circle cx="189.7" cy="230.1" r="1.05"/><circle cx="177.6" cy="215.4" r="1.05"/><circle cx="178.0" cy="220.2" r="1.05"/><circle cx="182.1" cy="223.9" r="1.05"/><circle cx="197.8" cy="238.3" r="1.05"/><circle cx="218.2" cy="226.5" r="1.05"/><circle cx="190.9" cy="231.4" r="1.05"/><circle cx="182.7" cy="229.2" r="1.05"/><circle cx="200.8" cy="238.4" r="1.05"/><circle cx="187.0" cy="227.0" r="1.05"/><circle cx="179.7" cy="236.6" r="1.05"/><circle cx="181.8" cy="228.9" r="1.05"/><circle cx="189.2" cy="232.8" r="1.05"/><circle cx="195.0" cy="244.0" r="1.05"/><circle cx="174.6" cy="217.0" r="1.05"/><circle cx="190.6" cy="229.8" r="1.05"/><circle cx="174.4" cy="217.1" r="1.05"/><circle cx="177.9" cy="225.6" r="1.05"/><circle cx="185.4" cy="230.6" r="1.05"/><circle cx="215.8" cy="233.0" r="1.05"/><circle cx="178.4" cy="220.9" r="1.05"/><circle cx="188.9" cy="224.2" r="1.05"/><circle cx="186.9" cy="241.3" r="1.05"/><circle cx="191.9" cy="228.5" r="1.05"/><circle cx="182.9" cy="235.4" r="1.05"/><circle cx="162.3" cy="219.0" r="1.05"/><circle cx="176.6" cy="222.2" r="1.05"/><circle cx="180.2" cy="231.4" r="1.05"/><circle cx="206.7" cy="230.7" r="1.05"/><circle cx="185.7" cy="226.3" r="1.05"/><circle cx="191.4" cy="232.6" r="1.05"/><circle cx="197.6" cy="234.5" r="1.05"/><circle cx="206.8" cy="235.2" r="1.05"/><circle cx="188.8" cy="234.7" r="1.05"/><circle cx="190.7" cy="232.3" r="1.05"/><circle cx="195.6" cy="238.2" r="1.05"/><circle cx="193.0" cy="236.9" r="1.05"/><circle cx="183.9" cy="227.8" r="1.05"/><circle cx="182.4" cy="239.7" r="1.05"/><circle cx="199.4" cy="234.7" r="1.05"/><circle cx="197.1" cy="229.4" r="1.05"/><circle cx="183.0" cy="226.6" r="1.05"/><circle cx="198.8" cy="238.8" r="1.05"/><circle cx="184.7" cy="231.1" r="1.05"/><circle cx="174.3" cy="226.7" r="1.05"/><circle cx="200.4" cy="230.0" r="1.05"/><circle cx="191.3" cy="224.0" r="1.05"/><circle cx="179.8" cy="225.2" r="1.05"/><circle cx="187.7" cy="222.4" r="1.05"/><circle cx="197.0" cy="229.2" r="1.05"/><circle cx="168.5" cy="220.0" r="1.05"/><circle cx="190.8" cy="220.2" r="1.05"/><circle cx="179.0" cy="224.4" r="1.05"/><circle cx="190.9" cy="234.9" r="1.05"/><circle cx="188.5" cy="237.7" r="1.05"/><circle cx="206.3" cy="233.9" r="1.05"/><circle cx="187.6" cy="230.5" r="1.05"/><circle cx="184.6" cy="222.5" r="1.05"/><circle cx="192.2" cy="226.2" r="1.05"/><circle cx="179.7" cy="222.8" r="1.05"/><circle cx="193.1" cy="225.5" r="1.05"/><circle cx="204.2" cy="223.1" r="1.05"/><circle cx="172.6" cy="226.1" r="1.05"/><circle cx="185.8" cy="222.8" r="1.05"/><circle cx="167.1" cy="226.3" r="1.05"/><circle cx="186.3" cy="230.0" r="1.05"/><circle cx="194.5" cy="223.7" r="1.05"/><circle cx="179.1" cy="232.2" r="1.05"/><circle cx="157.8" cy="225.3" r="1.05"/><circle cx="185.9" cy="229.4" r="1.05"/><circle cx="189.3" cy="234.7" r="1.05"/><circle cx="208.7" cy="226.6" r="1.05"/><circle cx="202.4" cy="231.8" r="1.05"/><circle cx="185.9" cy="233.2" r="1.05"/><circle cx="186.5" cy="237.5" r="1.05"/><circle cx="177.7" cy="232.9" r="1.05"/><circle cx="187.9" cy="217.8" r="1.05"/><circle cx="184.3" cy="235.8" r="1.05"/><circle cx="190.9" cy="229.3" r="1.05"/><circle cx="174.1" cy="229.2" r="1.05"/><circle cx="195.9" cy="219.0" r="1.05"/>
<circle cx="187.9" cy="243.4" r="1.05"/><circle cx="190.5" cy="240.7" r="1.05"/><circle cx="198.2" cy="239.1" r="1.05"/><circle cx="193.4" cy="240.1" r="1.05"/><circle cx="184.4" cy="229.3" r="1.05"/><circle cx="193.2" cy="244.5" r="1.05"/><circle cx="188.2" cy="236.6" r="1.05"/><circle cx="197.1" cy="235.2" r="1.05"/><circle cx="197.6" cy="237.2" r="1.05"/><circle cx="192.6" cy="235.2" r="1.05"/><circle cx="197.3" cy="241.3" r="1.05"/><circle cx="204.4" cy="237.4" r="1.05"/><circle cx="188.3" cy="239.1" r="1.05"/><circle cx="201.1" cy="235.1" r="1.05"/><circle cx="202.3" cy="234.2" r="1.05"/><circle cx="193.4" cy="234.1" r="1.05"/><circle cx="194.9" cy="237.0" r="1.05"/><circle cx="198.3" cy="235.7" r="1.05"/><circle cx="196.8" cy="242.5" r="1.05"/><circle cx="202.2" cy="241.3" r="1.05"/><circle cx="184.4" cy="237.5" r="1.05"/><circle cx="192.7" cy="236.0" r="1.05"/><circle cx="200.1" cy="238.1" r="1.05"/><circle cx="192.5" cy="243.0" r="1.05"/><circle cx="190.3" cy="242.2" r="1.05"/><circle cx="199.4" cy="240.7" r="1.05"/><circle cx="202.5" cy="239.5" r="1.05"/><circle cx="195.7" cy="241.2" r="1.05"/><circle cx="195.0" cy="236.8" r="1.05"/><circle cx="200.0" cy="235.5" r="1.05"/><circle cx="201.3" cy="238.9" r="1.05"/><circle cx="188.3" cy="237.6" r="1.05"/><circle cx="201.6" cy="240.2" r="1.05"/><circle cx="198.2" cy="235.7" r="1.05"/><circle cx="187.6" cy="238.7" r="1.05"/><circle cx="197.6" cy="239.1" r="1.05"/><circle cx="200.9" cy="236.9" r="1.05"/><circle cx="188.2" cy="240.5" r="1.05"/><circle cx="195.9" cy="231.9" r="1.05"/><circle cx="203.8" cy="239.1" r="1.05"/><circle cx="198.7" cy="235.5" r="1.05"/><circle cx="190.9" cy="232.0" r="1.05"/><circle cx="190.6" cy="238.2" r="1.05"/><circle cx="193.3" cy="235.3" r="1.05"/><circle cx="199.2" cy="239.0" r="1.05"/><circle cx="204.7" cy="237.8" r="1.05"/><circle cx="195.9" cy="237.9" r="1.05"/><circle cx="199.7" cy="238.9" r="1.05"/><circle cx="185.8" cy="238.8" r="1.05"/><circle cx="190.0" cy="239.2" r="1.05"/><circle cx="187.0" cy="239.7" r="1.05"/><circle cx="189.9" cy="239.4" r="1.05"/><circle cx="207.9" cy="234.9" r="1.05"/><circle cx="192.3" cy="244.6" r="1.05"/><circle cx="194.6" cy="239.9" r="1.05"/><circle cx="182.4" cy="240.2" r="1.05"/><circle cx="184.4" cy="237.7" r="1.05"/><circle cx="202.0" cy="233.9" r="1.05"/><circle cx="202.3" cy="241.0" r="1.05"/><circle cx="201.2" cy="240.7" r="1.05"/><circle cx="204.6" cy="234.9" r="1.05"/><circle cx="204.0" cy="238.8" r="1.05"/><circle cx="192.0" cy="238.7" r="1.05"/><circle cx="182.1" cy="239.7" r="1.05"/><circle cx="189.2" cy="244.6" r="1.05"/><circle cx="192.0" cy="244.7" r="1.05"/><circle cx="197.7" cy="239.9" r="1.05"/><circle cx="186.0" cy="236.4" r="1.05"/><circle cx="194.3" cy="235.6" r="1.05"/><circle cx="194.9" cy="236.8" r="1.05"/><circle cx="193.4" cy="241.5" r="1.05"/><circle cx="196.1" cy="240.0" r="1.05"/><circle cx="197.6" cy="243.1" r="1.05"/><circle cx="191.4" cy="237.1" r="1.05"/><circle cx="191.5" cy="237.0" r="1.05"/><circle cx="196.2" cy="238.5" r="1.05"/><circle cx="197.7" cy="231.8" r="1.05"/><circle cx="187.9" cy="236.7" r="1.05"/><circle cx="199.3" cy="238.8" r="1.05"/><circle cx="202.1" cy="241.3" r="1.05"/><circle cx="194.5" cy="234.9" r="1.05"/><circle cx="189.1" cy="239.3" r="1.05"/><circle cx="183.3" cy="240.7" r="1.05"/><circle cx="192.0" cy="243.3" r="1.05"/><circle cx="188.3" cy="239.7" r="1.05"/><circle cx="191.0" cy="239.0" r="1.05"/><circle cx="201.2" cy="237.9" r="1.05"/><circle cx="198.4" cy="240.9" r="1.05"/><circle cx="193.2" cy="231.8" r="1.05"/><circle cx="182.6" cy="234.3" r="1.05"/><circle cx="196.3" cy="236.7" r="1.05"/><circle cx="201.4" cy="240.9" r="1.05"/><circle cx="189.4" cy="240.9" r="1.05"/><circle cx="195.0" cy="236.6" r="1.05"/><circle cx="195.7" cy="242.0" r="1.05"/><circle cx="199.4" cy="242.1" r="1.05"/><circle cx="191.7" cy="237.4" r="1.05"/><circle cx="192.4" cy="237.4" r="1.05"/><circle cx="186.3" cy="237.9" r="1.05"/><circle cx="195.5" cy="243.5" r="1.05"/><circle cx="204.2" cy="238.0" r="1.05"/><circle cx="198.4" cy="241.1" r="1.05"/><circle cx="185.8" cy="242.5" r="1.05"/><circle cx="197.7" cy="235.8" r="1.05"/><circle cx="190.8" cy="237.4" r="1.05"/><circle cx="190.3" cy="239.2" r="1.05"/><circle cx="201.6" cy="237.9" r="1.05"/><circle cx="192.2" cy="243.3" r="1.05"/><circle cx="196.4" cy="240.6" r="1.05"/><circle cx="184.7" cy="241.1" r="1.05"/><circle cx="192.4" cy="241.0" r="1.05"/><circle cx="193.7" cy="243.5" r="1.05"/><circle cx="194.9" cy="243.1" r="1.05"/><circle cx="194.0" cy="238.9" r="1.05"/><circle cx="190.7" cy="244.6" r="1.05"/><circle cx="202.4" cy="240.8" r="1.05"/><circle cx="187.7" cy="241.3" r="1.05"/><circle cx="199.1" cy="239.0" r="1.05"/><circle cx="183.2" cy="238.9" r="1.05"/><circle cx="177.6" cy="237.0" r="1.05"/><circle cx="195.7" cy="241.4" r="1.05"/><circle cx="189.3" cy="238.4" r="1.05"/><circle cx="195.0" cy="236.5" r="1.05"/><circle cx="196.5" cy="242.6" r="1.05"/><circle cx="193.9" cy="241.1" r="1.05"/><circle cx="197.2" cy="241.5" r="1.05"/><circle cx="194.9" cy="240.6" r="1.05"/><circle cx="200.4" cy="235.0" r="1.05"/><circle cx="197.5" cy="239.6" r="1.05"/><circle cx="191.9" cy="242.6" r="1.05"/><circle cx="197.3" cy="239.0" r="1.05"/><circle cx="192.3" cy="233.3" r="1.05"/><circle cx="195.0" cy="244.8" r="1.05"/><circle cx="197.7" cy="237.9" r="1.05"/><circle cx="191.9" cy="235.8" r="1.05"/><circle cx="196.3" cy="237.1" r="1.05"/><circle cx="195.3" cy="238.6" r="1.05"/><circle cx="202.4" cy="239.7" r="1.05"/><circle cx="192.0" cy="241.9" r="1.05"/><circle cx="189.4" cy="241.0" r="1.05"/>
<circle cx="141.3" cy="221.4" r="1.05"/><circle cx="142.0" cy="198.7" r="1.05"/><circle cx="179.5" cy="214.5" r="1.05"/><circle cx="167.6" cy="231.2" r="1.05"/><circle cx="175.3" cy="226.1" r="1.05"/><circle cx="162.8" cy="213.3" r="1.05"/><circle cx="179.1" cy="220.1" r="1.05"/><circle cx="145.4" cy="227.3" r="1.05"/><circle cx="169.4" cy="195.2" r="1.05"/><circle cx="175.2" cy="207.1" r="1.05"/><circle cx="145.8" cy="223.1" r="1.05"/><circle cx="162.6" cy="216.7" r="1.05"/><circle cx="169.3" cy="211.2" r="1.05"/><circle cx="154.9" cy="205.0" r="1.05"/><circle cx="154.4" cy="204.3" r="1.05"/><circle cx="163.6" cy="222.2" r="1.05"/><circle cx="151.8" cy="211.6" r="1.05"/><circle cx="160.9" cy="214.5" r="1.05"/><circle cx="155.9" cy="210.4" r="1.05"/><circle cx="172.4" cy="224.9" r="1.05"/><circle cx="151.9" cy="218.1" r="1.05"/><circle cx="169.9" cy="225.7" r="1.05"/><circle cx="167.1" cy="217.0" r="1.05"/><circle cx="165.7" cy="213.1" r="1.05"/><circle cx="158.4" cy="214.0" r="1.05"/><circle cx="158.0" cy="218.6" r="1.05"/><circle cx="154.7" cy="203.5" r="1.05"/><circle cx="159.3" cy="198.4" r="1.05"/><circle cx="155.7" cy="211.3" r="1.05"/><circle cx="153.5" cy="216.4" r="1.05"/><circle cx="160.3" cy="206.9" r="1.05"/><circle cx="174.0" cy="215.0" r="1.05"/><circle cx="161.6" cy="210.3" r="1.05"/><circle cx="184.7" cy="213.7" r="1.05"/><circle cx="149.2" cy="216.2" r="1.05"/><circle cx="163.4" cy="211.7" r="1.05"/><circle cx="146.6" cy="210.1" r="1.05"/><circle cx="163.7" cy="208.3" r="1.05"/><circle cx="161.6" cy="219.2" r="1.05"/><circle cx="150.1" cy="205.7" r="1.05"/><circle cx="167.8" cy="209.2" r="1.05"/><circle cx="170.5" cy="218.9" r="1.05"/><circle cx="165.8" cy="198.0" r="1.05"/><circle cx="169.4" cy="223.5" r="1.05"/><circle cx="167.6" cy="226.9" r="1.05"/><circle cx="155.0" cy="209.5" r="1.05"/><circle cx="151.1" cy="213.3" r="1.05"/><circle cx="166.5" cy="218.3" r="1.05"/><circle cx="168.8" cy="220.6" r="1.05"/><circle cx="144.2" cy="196.2" r="1.05"/><circle cx="155.7" cy="226.5" r="1.05"/><circle cx="152.6" cy="208.1" r="1.05"/><circle cx="152.3" cy="224.3" r="1.05"/><circle cx="162.8" cy="208.0" r="1.05"/><circle cx="157.5" cy="210.4" r="1.05"/><circle cx="152.9" cy="223.1" r="1.05"/><circle cx="157.7" cy="221.3" r="1.05"/><circle cx="152.4" cy="223.2" r="1.05"/><circle cx="157.5" cy="226.8" r="1.05"/><circle cx="173.0" cy="227.8" r="1.05"/><circle cx="153.4" cy="217.0" r="1.05"/><circle cx="143.3" cy="215.4" r="1.05"/><circle cx="160.5" cy="223.3" r="1.05"/><circle cx="148.9" cy="211.3" r="1.05"/><circle cx="167.7" cy="217.4" r="1.05"/><circle cx="157.5" cy="225.7" r="1.05"/><circle cx="146.9" cy="218.1" r="1.05"/><circle cx="176.0" cy="210.9" r="1.05"/><circle cx="171.5" cy="210.4" r="1.05"/><circle cx="156.0" cy="205.5" r="1.05"/><circle cx="143.9" cy="200.0" r="1.05"/><circle cx="150.6" cy="199.4" r="1.05"/><circle cx="147.8" cy="210.1" r="1.05"/><circle cx="165.5" cy="196.6" r="1.05"/><circle cx="157.5" cy="221.4" r="1.05"/><circle cx="166.2" cy="216.1" r="1.05"/><circle cx="160.3" cy="221.5" r="1.05"/><circle cx="162.3" cy="222.9" r="1.05"/><circle cx="158.6" cy="216.4" r="1.05"/><circle cx="167.7" cy="211.3" r="1.05"/><circle cx="156.6" cy="207.4" r="1.05"/><circle cx="160.2" cy="216.0" r="1.05"/><circle cx="160.3" cy="214.3" r="1.05"/><circle cx="147.4" cy="218.3" r="1.05"/><circle cx="149.1" cy="208.5" r="1.05"/><circle cx="159.9" cy="209.6" r="1.05"/><circle cx="181.6" cy="221.7" r="1.05"/><circle cx="153.7" cy="208.8" r="1.05"/><circle cx="157.6" cy="210.0" r="1.05"/><circle cx="136.2" cy="213.0" r="1.05"/><circle cx="158.9" cy="218.6" r="1.05"/><circle cx="161.1" cy="210.6" r="1.05"/><circle cx="157.6" cy="205.0" r="1.05"/><circle cx="149.8" cy="221.1" r="1.05"/><circle cx="187.2" cy="198.7" r="1.05"/>
</g>
<text x="51.4" y="285.5" font-size="10.4" fill="#505050" font-weight="normal" textLength="150.6" lengthAdjust="spacing">Schematic of calculating functional</text>
<text x="55" y="297.4" font-size="10.4" fill="#505050" font-weight="normal" textLength="146.0" lengthAdjust="spacing">connectivity for one electrode pair</text>
<clipPath id="bc3"><path d="M30.6 358.7C30.7 357.5 30.6 355.7 30.9 354.2C31.3 352.7 32.2 351.3 32.8 349.8C33.5 348.2 33.7 346.5 34.7 345.0C35.6 343.5 37.1 342.1 38.4 340.8C39.7 339.5 40.9 338.2 42.4 337.1C43.9 335.9 45.7 335.1 47.4 334.1C49.1 333.1 50.7 331.9 52.5 331.1C54.4 330.4 56.7 330.3 58.6 329.6C60.5 329.0 62.2 327.6 64.0 327.1C65.9 326.6 68.0 326.9 69.8 326.7C71.5 326.5 72.9 325.9 74.4 325.8C75.9 325.7 77.4 326.0 78.7 326.3C80.1 326.5 81.4 326.6 82.5 327.2C83.6 327.7 84.3 328.9 85.4 329.6C86.6 330.4 88.3 330.8 89.4 331.8C90.5 332.7 91.1 334.2 92.2 335.2C93.2 336.3 94.9 336.9 95.8 338.0C96.7 339.2 97.0 340.7 97.8 341.9C98.5 343.2 99.6 344.4 100.3 345.8C101.1 347.1 101.7 348.5 102.2 349.8C102.8 351.1 103.2 352.4 103.5 353.7C103.7 355.0 103.6 356.4 103.8 357.6C104.0 358.9 104.7 360.0 104.7 361.1C104.6 362.2 103.8 363.5 103.4 364.3C102.9 365.2 102.7 365.7 102.0 366.3C101.2 366.8 99.9 367.5 98.9 367.7C97.9 367.9 97.1 367.5 96.0 367.3C94.9 367.1 93.2 366.4 92.2 366.6C91.1 366.7 90.7 367.7 89.6 368.1C88.5 368.5 86.6 368.4 85.4 368.8C84.2 369.2 83.5 370.2 82.4 370.8C81.3 371.4 80.1 371.5 78.7 372.2C77.4 372.9 75.9 374.2 74.4 375.0C72.9 375.7 71.3 376.0 69.8 376.6C68.2 377.3 66.7 378.4 65.2 379.0C63.7 379.5 62.1 379.8 60.8 380.0C59.5 380.1 58.4 380.1 57.3 379.9C56.1 379.7 54.9 379.5 54.1 378.9C53.3 378.3 53.0 377.3 52.5 376.4C52.1 375.5 51.6 374.0 51.4 373.3C51.2 372.6 51.1 372.6 51.1 372.1C51.2 371.5 52.4 370.2 51.9 369.9C51.3 369.6 49.0 370.4 47.8 370.4C46.7 370.4 46.3 370.1 45.1 369.9C44.0 369.7 42.0 369.4 40.7 369.0C39.4 368.7 38.5 368.1 37.3 367.7C36.1 367.2 34.7 366.8 33.7 366.2C32.8 365.7 32.3 365.1 31.7 364.3C31.1 363.6 30.3 362.6 30.1 361.7C29.9 360.8 30.5 360.0 30.6 358.7Z"/></clipPath>
<radialGradient id="bg3" cx="0.5" cy="0.35" r="0.75"><stop offset="0" stop-color="#747474"/><stop offset="0.6" stop-color="#747474"/><stop offset="1" stop-color="#4c4c4c"/></radialGradient>
<path d="M30.6 358.7C30.7 357.5 30.6 355.7 30.9 354.2C31.3 352.7 32.2 351.3 32.8 349.8C33.5 348.2 33.7 346.5 34.7 345.0C35.6 343.5 37.1 342.1 38.4 340.8C39.7 339.5 40.9 338.2 42.4 337.1C43.9 335.9 45.7 335.1 47.4 334.1C49.1 333.1 50.7 331.9 52.5 331.1C54.4 330.4 56.7 330.3 58.6 329.6C60.5 329.0 62.2 327.6 64.0 327.1C65.9 326.6 68.0 326.9 69.8 326.7C71.5 326.5 72.9 325.9 74.4 325.8C75.9 325.7 77.4 326.0 78.7 326.3C80.1 326.5 81.4 326.6 82.5 327.2C83.6 327.7 84.3 328.9 85.4 329.6C86.6 330.4 88.3 330.8 89.4 331.8C90.5 332.7 91.1 334.2 92.2 335.2C93.2 336.3 94.9 336.9 95.8 338.0C96.7 339.2 97.0 340.7 97.8 341.9C98.5 343.2 99.6 344.4 100.3 345.8C101.1 347.1 101.7 348.5 102.2 349.8C102.8 351.1 103.2 352.4 103.5 353.7C103.7 355.0 103.6 356.4 103.8 357.6C104.0 358.9 104.7 360.0 104.7 361.1C104.6 362.2 103.8 363.5 103.4 364.3C102.9 365.2 102.7 365.7 102.0 366.3C101.2 366.8 99.9 367.5 98.9 367.7C97.9 367.9 97.1 367.5 96.0 367.3C94.9 367.1 93.2 366.4 92.2 366.6C91.1 366.7 90.7 367.7 89.6 368.1C88.5 368.5 86.6 368.4 85.4 368.8C84.2 369.2 83.5 370.2 82.4 370.8C81.3 371.4 80.1 371.5 78.7 372.2C77.4 372.9 75.9 374.2 74.4 375.0C72.9 375.7 71.3 376.0 69.8 376.6C68.2 377.3 66.7 378.4 65.2 379.0C63.7 379.5 62.1 379.8 60.8 380.0C59.5 380.1 58.4 380.1 57.3 379.9C56.1 379.7 54.9 379.5 54.1 378.9C53.3 378.3 53.0 377.3 52.5 376.4C52.1 375.5 51.6 374.0 51.4 373.3C51.2 372.6 51.1 372.6 51.1 372.1C51.2 371.5 52.4 370.2 51.9 369.9C51.3 369.6 49.0 370.4 47.8 370.4C46.7 370.4 46.3 370.1 45.1 369.9C44.0 369.7 42.0 369.4 40.7 369.0C39.4 368.7 38.5 368.1 37.3 367.7C36.1 367.2 34.7 366.8 33.7 366.2C32.8 365.7 32.3 365.1 31.7 364.3C31.1 363.6 30.3 362.6 30.1 361.7C29.9 360.8 30.5 360.0 30.6 358.7Z" fill="url(#bg3)"/>
<g clip-path="url(#bc3)" fill="none" stroke-linecap="round">
<path d="M103.1 350.5Q106.5 346.1 112.7 345.9" stroke="#a2a2a2" stroke-width="1.5" opacity="0.50"/>
<path d="M58.6 374.0Q56.0 370.1 57.6 369.0" stroke="#4c4c4c" stroke-width="1.8" opacity="0.46"/>
<path d="M46.9 331.6Q41.9 328.4 40.1 326.1" stroke="#a2a2a2" stroke-width="1.7" opacity="0.78"/>
<path d="M61.0 368.4Q58.2 362.3 57.8 357.4" stroke="#4c4c4c" stroke-width="1.5" opacity="0.88"/>
<path d="M76.2 351.5Q74.5 350.7 75.7 345.0" stroke="#a2a2a2" stroke-width="1.9" opacity="0.85"/>
<path d="M69.5 364.2Q67.0 359.7 68.0 356.0" stroke="#4c4c4c" stroke-width="1.1" opacity="0.49"/>
<path d="M98.7 331.0Q100.9 328.1 107.2 325.2" stroke="#a2a2a2" stroke-width="2.0" opacity="0.89"/>
<path d="M72.1 367.6Q74.1 365.3 75.7 362.1" stroke="#4c4c4c" stroke-width="1.3" opacity="0.82"/>
<path d="M63.2 366.4Q57.9 364.5 57.2 361.1" stroke="#a2a2a2" stroke-width="1.8" opacity="0.69"/>
<path d="M72.2 359.5Q72.0 356.6 70.9 352.2" stroke="#4c4c4c" stroke-width="1.3" opacity="0.66"/>
<path d="M54.8 355.8Q55.1 354.2 53.5 349.0" stroke="#a2a2a2" stroke-width="1.4" opacity="0.89"/>
<path d="M53.2 375.6Q51.1 373.0 45.9 375.0" stroke="#4c4c4c" stroke-width="1.5" opacity="0.84"/>
<path d="M100.5 362.8Q103.6 358.1 105.4 357.8" stroke="#a2a2a2" stroke-width="0.8" opacity="0.85"/>
<path d="M76.8 334.6Q79.0 330.3 77.4 328.0" stroke="#4c4c4c" stroke-width="1.7" opacity="0.78"/>
<path d="M53.9 339.5Q53.3 334.9 51.9 332.1" stroke="#a2a2a2" stroke-width="1.8" opacity="0.64"/>
<path d="M40.2 367.8Q38.1 365.1 35.6 358.8" stroke="#4c4c4c" stroke-width="1.9" opacity="0.45"/>
<path d="M66.5 326.8Q65.5 324.7 64.9 320.8" stroke="#a2a2a2" stroke-width="1.8" opacity="0.57"/>
<path d="M31.0 379.9Q25.1 375.5 23.1 375.6" stroke="#4c4c4c" stroke-width="1.9" opacity="0.69"/>
<path d="M94.2 368.3Q98.5 366.0 105.3 366.3" stroke="#a2a2a2" stroke-width="1.3" opacity="0.80"/>
<path d="M89.3 366.8Q91.3 365.5 96.4 362.5" stroke="#4c4c4c" stroke-width="1.6" opacity="0.68"/>
<path d="M84.3 378.9Q85.6 380.2 89.0 380.5" stroke="#a2a2a2" stroke-width="1.6" opacity="0.58"/>
<path d="M99.5 350.8Q100.4 347.4 103.6 348.9" stroke="#4c4c4c" stroke-width="1.7" opacity="0.68"/>
<path d="M101.1 358.7Q102.8 354.4 105.7 353.1" stroke="#a2a2a2" stroke-width="0.9" opacity="0.74"/>
<path d="M53.5 350.4Q52.9 346.3 52.9 343.9" stroke="#4c4c4c" stroke-width="1.2" opacity="0.75"/>
<path d="M37.4 347.5Q31.7 348.1 28.0 344.1" stroke="#a2a2a2" stroke-width="1.4" opacity="0.75"/>
<path d="M69.1 370.2Q68.8 364.0 73.0 361.3" stroke="#4c4c4c" stroke-width="1.7" opacity="0.64"/>
<path d="M102.8 360.2Q110.5 360.3 113.5 358.8" stroke="#a2a2a2" stroke-width="1.9" opacity="0.64"/>
<path d="M50.0 331.8Q47.1 324.7 42.6 322.3" stroke="#4c4c4c" stroke-width="0.8" opacity="0.66"/>
<path d="M70.7 345.4Q70.8 343.8 67.2 340.1" stroke="#a2a2a2" stroke-width="1.8" opacity="0.57"/>
<path d="M79.9 336.5Q78.3 329.1 79.6 323.9" stroke="#4c4c4c" stroke-width="1.1" opacity="0.84"/>
<path d="M81.3 357.8Q86.8 356.9 88.1 353.3" stroke="#a2a2a2" stroke-width="1.2" opacity="0.56"/>
<path d="M70.2 350.0Q73.7 346.1 74.8 341.2" stroke="#4c4c4c" stroke-width="1.1" opacity="0.78"/>
<path d="M103.3 360.3Q104.3 359.2 109.1 358.6" stroke="#a2a2a2" stroke-width="1.5" opacity="0.78"/>
<path d="M65.4 355.3Q62.2 352.6 62.8 351.7" stroke="#4c4c4c" stroke-width="1.1" opacity="0.51"/>
<path d="M55.3 344.0Q58.8 339.1 57.3 331.8" stroke="#a2a2a2" stroke-width="0.8" opacity="0.56"/>
<path d="M104.6 363.5Q106.2 361.5 110.4 363.5" stroke="#4c4c4c" stroke-width="1.4" opacity="0.61"/>
<path d="M65.2 333.3Q64.9 331.2 60.3 327.6" stroke="#a2a2a2" stroke-width="1.5" opacity="0.48"/>
<path d="M62.4 345.8Q64.1 340.9 62.8 338.2" stroke="#4c4c4c" stroke-width="1.7" opacity="0.45"/>
<path d="M41.0 369.0Q37.7 368.4 37.4 363.3" stroke="#a2a2a2" stroke-width="1.5" opacity="0.49"/>
<path d="M103.8 356.5Q105.7 353.4 109.0 349.6" stroke="#4c4c4c" stroke-width="1.3" opacity="0.62"/>
<path d="M84.7 342.3Q90.9 337.1 92.8 335.3" stroke="#a2a2a2" stroke-width="1.8" opacity="0.77"/>
<path d="M43.7 375.2Q39.6 376.7 38.4 373.2" stroke="#4c4c4c" stroke-width="1.8" opacity="0.56"/>
<path d="M96.6 327.8Q101.8 326.4 103.3 320.8" stroke="#a2a2a2" stroke-width="1.7" opacity="0.83"/>
<path d="M64.7 376.4Q63.7 371.1 60.2 366.8" stroke="#4c4c4c" stroke-width="1.8" opacity="0.77"/>
<path d="M42.0 357.6Q36.3 355.3 35.3 351.0" stroke="#a2a2a2" stroke-width="1.3" opacity="0.78"/>
<path d="M48.1 326.9Q47.7 322.6 44.5 317.8" stroke="#4c4c4c" stroke-width="1.9" opacity="0.52"/>
<path d="M39.3 347.7Q34.8 343.2 34.7 337.8" stroke="#a2a2a2" stroke-width="1.2" opacity="0.69"/>
<path d="M37.4 334.5Q38.6 331.2 35.0 327.9" stroke="#4c4c4c" stroke-width="1.2" opacity="0.53"/>
<path d="M69.3 353.5Q67.6 348.7 65.9 341.3" stroke="#a2a2a2" stroke-width="1.6" opacity="0.82"/>
<path d="M37.8 378.0Q35.7 374.9 32.6 376.2" stroke="#4c4c4c" stroke-width="1.3" opacity="0.49"/>
<path d="M33.7 350.2Q34.2 346.4 30.4 339.9" stroke="#a2a2a2" stroke-width="1.5" opacity="0.72"/>
<path d="M101.6 332.8Q101.7 331.1 106.7 325.6" stroke="#4c4c4c" stroke-width="1.6" opacity="0.60"/>
<path d="M89.4 351.6Q94.7 348.9 96.4 346.2" stroke="#a2a2a2" stroke-width="0.9" opacity="0.79"/>
<path d="M47.3 356.8Q45.0 353.2 47.0 346.3" stroke="#4c4c4c" stroke-width="2.0" opacity="0.66"/>
<path d="M49.1 350.9Q49.8 349.6 47.1 347.0" stroke="#a2a2a2" stroke-width="1.3" opacity="0.82"/>
<path d="M43.0 374.0Q38.5 370.5 37.8 367.6" stroke="#4c4c4c" stroke-width="0.9" opacity="0.70"/>
<path d="M40.7 354.0Q38.5 351.9 35.5 349.4" stroke="#a2a2a2" stroke-width="1.9" opacity="0.65"/>
<path d="M72.9 365.2Q70.5 360.9 71.3 356.5" stroke="#4c4c4c" stroke-width="1.4" opacity="0.86"/>
<path d="M101.9 342.3Q104.0 341.4 108.7 339.6" stroke="#a2a2a2" stroke-width="1.2" opacity="0.88"/>
<path d="M97.3 327.5Q101.0 326.0 108.3 322.8" stroke="#4c4c4c" stroke-width="1.5" opacity="0.52"/>
<path d="M82.7 326.3Q84.4 321.6 83.0 317.8" stroke="#a2a2a2" stroke-width="1.1" opacity="0.66"/>
<path d="M70.3 347.5Q66.1 340.8 64.9 337.3" stroke="#4c4c4c" stroke-width="1.1" opacity="0.88"/>
<path d="M35.8 359.6Q35.1 355.9 31.5 355.4" stroke="#a2a2a2" stroke-width="0.9" opacity="0.46"/>
<path d="M79.4 328.6Q79.2 326.4 83.0 319.4" stroke="#4c4c4c" stroke-width="1.0" opacity="0.60"/>
<path d="M89.8 340.3Q95.0 336.3 97.6 333.6" stroke="#a2a2a2" stroke-width="1.1" opacity="0.66"/>
<path d="M76.6 327.0Q73.1 325.4 74.0 321.1" stroke="#4c4c4c" stroke-width="2.0" opacity="0.68"/>
<path d="M54.9 348.9Q56.1 344.4 56.8 338.5" stroke="#a2a2a2" stroke-width="1.9" opacity="0.73"/>
<path d="M45.8 374.0Q41.7 373.9 40.7 375.0" stroke="#4c4c4c" stroke-width="1.5" opacity="0.82"/>
<path d="M49.1 373.3Q48.6 368.0 45.0 362.1" stroke="#a2a2a2" stroke-width="1.3" opacity="0.52"/>
<path d="M58.7 337.9Q60.2 335.4 57.0 333.6" stroke="#4c4c4c" stroke-width="0.9" opacity="0.51"/>
<path d="M63.5 330.0Q64.7 325.9 64.6 323.3" stroke="#a2a2a2" stroke-width="1.3" opacity="0.85"/>
<path d="M64.2 375.3Q64.8 370.2 63.1 364.6" stroke="#4c4c4c" stroke-width="1.2" opacity="0.76"/>
<path d="M32.8 339.2Q29.1 335.0 30.1 327.9" stroke="#a2a2a2" stroke-width="1.3" opacity="0.55"/>
<path d="M98.6 357.0Q99.4 352.7 104.5 346.3" stroke="#4c4c4c" stroke-width="1.7" opacity="0.78"/>
<path d="M65.4 342.1Q63.0 334.8 60.7 332.3" stroke="#a2a2a2" stroke-width="1.6" opacity="0.78"/>
<path d="M89.1 351.6Q94.1 347.3 96.1 345.3" stroke="#4c4c4c" stroke-width="1.1" opacity="0.83"/>
<path d="M49.5 326.9Q51.1 323.8 49.0 315.8" stroke="#a2a2a2" stroke-width="0.9" opacity="0.88"/>
<path d="M51.3 333.1Q47.4 329.4 48.5 329.2" stroke="#4c4c4c" stroke-width="1.5" opacity="0.48"/>
<path d="M86.8 325.9Q84.7 320.7 86.4 320.4" stroke="#a2a2a2" stroke-width="1.4" opacity="0.48"/>
<path d="M38.8 325.9Q38.4 324.5 38.9 320.4" stroke="#4c4c4c" stroke-width="1.0" opacity="0.61"/>
<path d="M92.3 360.1Q95.2 356.2 94.8 351.8" stroke="#a2a2a2" stroke-width="1.1" opacity="0.55"/>
<path d="M97.6 347.0Q98.9 345.7 99.2 340.8" stroke="#4c4c4c" stroke-width="1.6" opacity="0.72"/>
<path d="M56.3 338.5Q55.3 336.1 56.3 331.3" stroke="#a2a2a2" stroke-width="1.9" opacity="0.83"/>
<path d="M39.1 367.1Q38.8 366.0 35.3 364.5" stroke="#4c4c4c" stroke-width="1.4" opacity="0.48"/>
<path d="M71.6 351.8Q73.1 348.8 78.3 341.7" stroke="#a2a2a2" stroke-width="1.3" opacity="0.46"/>
<path d="M86.2 369.8Q90.0 371.3 91.4 368.5" stroke="#4c4c4c" stroke-width="1.9" opacity="0.61"/>
<path d="M92.9 331.8Q97.6 330.6 100.7 326.8" stroke="#a2a2a2" stroke-width="1.1" opacity="0.55"/>
<path d="M34.9 364.4Q33.5 364.6 30.7 364.9" stroke="#4c4c4c" stroke-width="2.0" opacity="0.51"/>
<path d="M69.8 336.3Q75.0 328.8 75.5 325.1" stroke="#a2a2a2" stroke-width="1.7" opacity="0.70"/>
<path d="M37.6 349.5Q35.3 342.6 33.5 339.9" stroke="#4c4c4c" stroke-width="1.3" opacity="0.59"/>
<path d="M56.2 377.3Q50.0 373.4 48.8 371.1" stroke="#a2a2a2" stroke-width="1.7" opacity="0.52"/>
<path d="M31.5 341.5Q26.3 341.5 22.9 338.2" stroke="#4c4c4c" stroke-width="1.7" opacity="0.62"/>
<path d="M98.4 373.0Q106.4 376.9 110.5 376.5" stroke="#a2a2a2" stroke-width="1.4" opacity="0.90"/>
<path d="M50.3 361.6Q44.9 357.8 37.7 358.5" stroke="#4c4c4c" stroke-width="2.0" opacity="0.74"/>
<path d="M59.9 352.6Q60.5 345.7 64.9 341.4" stroke="#a2a2a2" stroke-width="1.0" opacity="0.46"/>
<path d="M40.7 357.6Q39.3 354.0 34.7 348.4" stroke="#4c4c4c" stroke-width="1.9" opacity="0.46"/>
<path d="M102.6 349.7Q108.2 348.7 111.2 346.0" stroke="#a2a2a2" stroke-width="1.0" opacity="0.69"/>
<path d="M33.6 373.2Q30.1 370.3 28.3 369.2" stroke="#4c4c4c" stroke-width="0.9" opacity="0.69"/>
<path d="M82.5 344.5Q85.0 337.0 85.6 333.1" stroke="#a2a2a2" stroke-width="1.1" opacity="0.86"/>
<path d="M77.6 333.9Q78.7 332.0 78.7 326.6" stroke="#4c4c4c" stroke-width="1.8" opacity="0.59"/>
<path d="M48.4 331.1Q46.1 327.3 42.3 323.4" stroke="#a2a2a2" stroke-width="1.7" opacity="0.50"/>
<path d="M42.6 334.9Q41.1 331.8 40.9 325.1" stroke="#4c4c4c" stroke-width="1.1" opacity="0.87"/>
<path d="M97.3 335.3Q99.5 330.8 104.3 328.6" stroke="#a2a2a2" stroke-width="0.9" opacity="0.63"/>
<path d="M87.5 344.4Q91.2 341.2 93.1 339.7" stroke="#4c4c4c" stroke-width="1.5" opacity="0.74"/>
<path d="M66.8 341.1Q65.7 338.9 63.7 336.5" stroke="#a2a2a2" stroke-width="0.9" opacity="0.77"/>
<path d="M36.2 333.7Q35.7 330.5 36.0 325.9" stroke="#4c4c4c" stroke-width="1.4" opacity="0.60"/>
<path d="M101.6 361.2Q105.3 360.6 108.2 356.8" stroke="#a2a2a2" stroke-width="1.3" opacity="0.55"/>
<path d="M37.8 374.4Q35.2 370.5 31.7 365.0" stroke="#4c4c4c" stroke-width="1.6" opacity="0.48"/>
<path d="M53.4 346.1Q52.4 344.4 47.2 339.9" stroke="#a2a2a2" stroke-width="1.2" opacity="0.65"/>
<path d="M97.4 356.4Q98.1 353.8 102.2 348.2" stroke="#4c4c4c" stroke-width="1.3" opacity="0.62"/>
<path d="M90.1 334.3Q90.5 331.2 92.1 329.6" stroke="#a2a2a2" stroke-width="2.0" opacity="0.79"/>
<path d="M45.7 333.4Q43.4 332.9 39.6 328.2" stroke="#4c4c4c" stroke-width="1.4" opacity="0.52"/>
<path d="M36.0 357.5Q31.1 350.7 29.7 348.0" stroke="#a2a2a2" stroke-width="0.9" opacity="0.68"/>
<path d="M89.4 344.6Q89.7 340.9 90.1 339.4" stroke="#4c4c4c" stroke-width="1.6" opacity="0.66"/>
<path d="M77.9 334.2Q80.1 328.9 80.5 325.9" stroke="#a2a2a2" stroke-width="1.0" opacity="0.54"/>
<path d="M77.5 373.5Q80.8 372.7 84.1 367.5" stroke="#4c4c4c" stroke-width="1.2" opacity="0.46"/>
<path d="M56.5 341.6Q55.3 341.2 52.0 336.0" stroke="#a2a2a2" stroke-width="0.8" opacity="0.52"/>
<path d="M47.4 366.4Q44.7 363.3 41.3 363.5" stroke="#4c4c4c" stroke-width="1.4" opacity="0.46"/>
<path d="M50.8 372.1Q45.8 367.5 43.0 366.3" stroke="#a2a2a2" stroke-width="1.8" opacity="0.67"/>
<path d="M54.6 357.5Q53.0 354.3 54.0 347.0" stroke="#4c4c4c" stroke-width="1.3" opacity="0.60"/>
<path d="M38.2 377.3Q36.0 373.9 29.6 374.7" stroke="#a2a2a2" stroke-width="1.1" opacity="0.48"/>
<path d="M66.1 327.0Q70.0 325.2 70.7 319.8" stroke="#4c4c4c" stroke-width="1.9" opacity="0.59"/>
<path d="M77.5 361.2Q81.1 360.9 83.1 357.8" stroke="#a2a2a2" stroke-width="1.5" opacity="0.48"/>
<path d="M89.8 327.9Q90.4 326.6 91.6 321.5" stroke="#4c4c4c" stroke-width="1.9" opacity="0.85"/>
<path d="M92.7 327.4Q95.8 323.2 97.3 319.7" stroke="#a2a2a2" stroke-width="1.7" opacity="0.47"/>
<path d="M91.0 373.7Q92.8 373.4 99.1 369.9" stroke="#4c4c4c" stroke-width="1.8" opacity="0.50"/>
<path d="M67.2 333.8Q72.2 329.8 73.7 325.4" stroke="#a2a2a2" stroke-width="1.8" opacity="0.55"/>
<path d="M65.8 358.4Q64.9 355.1 68.8 352.0" stroke="#4c4c4c" stroke-width="1.1" opacity="0.54"/>
<path d="M45.7 372.8Q41.5 372.0 39.2 370.3" stroke="#a2a2a2" stroke-width="1.4" opacity="0.75"/>
<path d="M88.0 371.1Q92.7 369.4 94.2 365.3" stroke="#4c4c4c" stroke-width="1.0" opacity="0.68"/>
<path d="M59.1 359.3Q56.4 356.1 53.1 351.7" stroke="#a2a2a2" stroke-width="1.6" opacity="0.61"/>
<path d="M49.5 330.3Q47.4 323.8 48.2 318.5" stroke="#4c4c4c" stroke-width="1.0" opacity="0.84"/>
<path d="M80.8 377.1Q83.7 374.8 86.4 374.1" stroke="#a2a2a2" stroke-width="1.2" opacity="0.79"/>
<path d="M70.0 336.2Q69.5 332.4 67.9 325.0" stroke="#4c4c4c" stroke-width="1.7" opacity="0.47"/>
<path d="M53.3 363.6Q51.6 359.5 47.6 357.8" stroke="#a2a2a2" stroke-width="0.9" opacity="0.54"/>
<path d="M59.3 356.9Q58.2 356.7 55.2 353.9" stroke="#4c4c4c" stroke-width="1.5" opacity="0.76"/>
<path d="M59.9 374.6Q55.8 373.8 49.6 370.4" stroke="#a2a2a2" stroke-width="2.0" opacity="0.58"/>
<path d="M56.0 351.5Q53.2 347.8 50.5 345.6" stroke="#4c4c4c" stroke-width="1.8" opacity="0.55"/>
<path d="M83.2 364.0Q88.0 356.6 89.1 353.4" stroke="#a2a2a2" stroke-width="1.1" opacity="0.70"/>
<path d="M92.4 365.8Q97.2 365.9 102.0 361.9" stroke="#4c4c4c" stroke-width="0.9" opacity="0.74"/>
<path d="M70.3 353.6Q70.0 352.1 67.7 349.6" stroke="#a2a2a2" stroke-width="1.4" opacity="0.69"/>
<path d="M30.7 355.4Q31.6 348.3 28.3 346.2" stroke="#4c4c4c" stroke-width="1.9" opacity="0.67"/>
<path d="M72.2 371.1Q73.7 368.4 72.5 361.2" stroke="#a2a2a2" stroke-width="1.5" opacity="0.59"/>
<path d="M46.1 326.8Q46.8 326.6 43.3 323.8" stroke="#4c4c4c" stroke-width="2.0" opacity="0.74"/>
<path d="M47.6 337.7Q46.1 332.8 48.3 326.0" stroke="#a2a2a2" stroke-width="1.2" opacity="0.50"/>
<path d="M46.1 347.0Q42.5 344.5 35.7 341.4" stroke="#4c4c4c" stroke-width="1.0" opacity="0.77"/>
<path d="M72.6 366.9Q78.5 364.8 81.3 360.0" stroke="#a2a2a2" stroke-width="1.8" opacity="0.53"/>
<path d="M74.3 348.6Q74.6 345.0 71.7 339.4" stroke="#4c4c4c" stroke-width="0.9" opacity="0.56"/>
<path d="M98.7 331.5Q98.4 330.2 101.3 325.9" stroke="#a2a2a2" stroke-width="0.9" opacity="0.82"/>
<path d="M58.1 359.7Q54.6 357.0 51.3 351.5" stroke="#4c4c4c" stroke-width="1.5" opacity="0.85"/>
</g>
<path d="M98.9 346.9L123 340.8M102.2 352L123 353.8M103.4 363.2L123 367.7M103.4 367.7L123 380" stroke="#555" stroke-width="0.6" stroke-dasharray="5 1.5" fill="none"/>
<circle cx="88.8" cy="350.9" r="2.5" fill="#5a5adb" stroke="#223" stroke-width="0.7"/><circle cx="89.9" cy="361" r="2.5" fill="#5a5adb" stroke="#223" stroke-width="0.7"/>
<circle cx="130.8" cy="347" r="8" fill="#5a5adb"/><circle cx="131.2" cy="376.2" r="8" fill="#5a5adb"/>
<text x="130.8" y="349.8" font-size="7.8" fill="#fff" text-anchor="middle" font-weight="normal" >A</text>
<text x="131.2" y="379" font-size="7.8" fill="#fff" text-anchor="middle" font-weight="normal" >B</text>
<rect x="163" y="340" width="21" height="14.7" fill="#d9d9ee"/><rect x="170.7" y="369.8" width="21" height="14.5" fill="#d9d9ee"/>
<path d="M162.8 330.7V389.6M169.9 330.7V389.6" stroke="#e9403a" stroke-width="0.8" stroke-dasharray="4.4 2.6" fill="none"/>
<path d="M144.6 353.9L146.2 347.7L147.4 351.6L148.5 348.2L150.0 350.1L151.6 349.3L153.9 345.4L155.4 347.0L157.0 349.3L159.3 350.8L160.8 352.4L162.4 347.7L163.9 352.4L165.5 350.1L167.0 350.8L168.2 344.7L169.6 351.6L170.9 353.1L172.4 352.4L173.9 345.4L175.8 350.8L177.0 351.6L178.6 348.2L179.8 349.3L180.4 347.0L181.3 350.1L183.2 350.8L184.7 353.1L186.3 345.4L187.5 354.7L189.1 358.5L190.9 351.6L193.2 350.8L194.8 339.3L196.3 351.6L198.3 357.0L200.2 350.1L202.5 343.1L204.0 351.6L205.6 348.5L207.9 343.9L209.7 350.1L212.2 355.5L213.7 348.5L215.6 337.7L216.7 350.8L217.6 350.1" stroke="#111" stroke-width="0.9" fill="none" stroke-linejoin="round"/>
<path d="M144.6 377.8L146.5 374.0L147.7 375.5L148.9 371.7L150.5 375.5L152.0 374.7L153.1 376.3L154.7 374.0L156.2 379.4L157.7 372.4L159.3 374.0L160.8 376.3L162.4 378.6L163.9 369.3L165.5 374.7L167.5 375.5L169.3 377.1L170.9 374.0L172.7 375.5L174.7 374.7L177.0 375.5L179.3 374.7L181.3 374.0L183.2 376.3L184.7 370.9L186.3 384.0L187.8 374.0L189.7 371.7L191.7 376.3L193.2 380.9L195.2 372.4L197.1 376.3L198.6 374.0L200.9 370.9L202.5 374.7L204.0 377.1L206.0 372.4L207.9 377.8L209.7 371.7L211.7 376.3L213.7 375.5L215.3 372.4L216.7 375.5L217.6 374.0" stroke="#111" stroke-width="0.9" fill="none" stroke-linejoin="round"/>
<text x="166.4" y="325.6" font-size="23" fill="#e9403a" text-anchor="middle" font-weight="normal" >τ</text>
<text x="208.3" y="327.4" font-size="15.6" fill="#1fb1c1" text-anchor="middle" font-weight="bold" >W</text>
<path d="M182 343 C192 337.5 203 333.5 210 333 C214.5 332.8 216.3 334.5 215.8 337.2 L196.2 362.8" stroke="#1fb1c1" stroke-width="1" fill="none" stroke-linejoin="round"/>
<path d="M179.2 344.3 L184.2 340.1 L183.6 342.4 L185.6 344Z" fill="#1fb1c1"/>
<path d="M193.8 365.9 L195.2 359.8 L196.6 361.9 L199.2 362.2Z" fill="#1fb1c1"/>
<text x="317.2" y="17" font-size="10.4" fill="#505050" font-weight="normal" textLength="120.5" lengthAdjust="spacing">An example coupling profile</text>
<path d="M311.9 117.0C312.6 117.5 314.4 119.1 315.8 120.0C317.2 120.9 318.8 122.3 320.3 122.4C321.8 122.5 323.3 121.2 324.8 120.6C326.3 120.0 327.5 119.0 329.3 118.5C331.0 118.1 333.2 118.3 335.2 117.9C337.2 117.5 339.2 116.6 341.2 116.1C343.2 115.6 344.9 115.2 347.2 114.9C349.4 114.6 352.4 114.2 354.6 114.3C356.9 114.4 358.9 115.0 360.6 115.5C362.3 116.0 363.7 117.1 365.1 117.3C366.5 117.6 367.8 117.8 369.0 117.0C370.1 116.2 370.9 115.3 371.9 112.5C372.9 109.8 373.9 105.6 374.9 100.6C375.9 95.6 376.9 88.7 377.9 82.7C378.9 76.7 380.0 69.3 380.9 64.8C381.7 60.3 382.4 57.7 383.0 55.8C383.6 53.9 384.0 53.4 384.5 53.4C385.0 53.4 385.3 53.7 386.0 55.8C386.6 58.0 387.5 61.5 388.4 66.3C389.3 71.0 390.3 78.5 391.3 84.2C392.3 89.9 393.2 96.1 394.3 100.6C395.4 105.1 396.6 108.6 397.9 111.0C399.3 113.5 400.9 114.1 402.4 115.5C403.9 116.9 405.4 118.3 406.9 119.4C408.4 120.5 409.9 121.7 411.3 122.4C412.8 123.0 414.4 123.5 415.8 123.3C417.2 123.0 418.5 121.8 419.7 120.9C420.9 120.0 422.0 118.7 423.3 117.9C424.5 117.1 425.9 116.3 427.2 116.1C428.4 115.9 429.4 116.2 430.7 116.7C432.1 117.2 433.7 118.5 435.2 119.1C436.7 119.7 438.3 119.9 439.7 120.3C441.1 120.7 443.2 121.3 443.9 121.5L443.9 130.4L311.9 130.4Z" fill="#cfcde8"/>
<clipPath id="band"><rect x="377" y="30" width="15.2" height="101"/></clipPath>
<path d="M311.9 117.0C312.6 117.5 314.4 119.1 315.8 120.0C317.2 120.9 318.8 122.3 320.3 122.4C321.8 122.5 323.3 121.2 324.8 120.6C326.3 120.0 327.5 119.0 329.3 118.5C331.0 118.1 333.2 118.3 335.2 117.9C337.2 117.5 339.2 116.6 341.2 116.1C343.2 115.6 344.9 115.2 347.2 114.9C349.4 114.6 352.4 114.2 354.6 114.3C356.9 114.4 358.9 115.0 360.6 115.5C362.3 116.0 363.7 117.1 365.1 117.3C366.5 117.6 367.8 117.8 369.0 117.0C370.1 116.2 370.9 115.3 371.9 112.5C372.9 109.8 373.9 105.6 374.9 100.6C375.9 95.6 376.9 88.7 377.9 82.7C378.9 76.7 380.0 69.3 380.9 64.8C381.7 60.3 382.4 57.7 383.0 55.8C383.6 53.9 384.0 53.4 384.5 53.4C385.0 53.4 385.3 53.7 386.0 55.8C386.6 58.0 387.5 61.5 388.4 66.3C389.3 71.0 390.3 78.5 391.3 84.2C392.3 89.9 393.2 96.1 394.3 100.6C395.4 105.1 396.6 108.6 397.9 111.0C399.3 113.5 400.9 114.1 402.4 115.5C403.9 116.9 405.4 118.3 406.9 119.4C408.4 120.5 409.9 121.7 411.3 122.4C412.8 123.0 414.4 123.5 415.8 123.3C417.2 123.0 418.5 121.8 419.7 120.9C420.9 120.0 422.0 118.7 423.3 117.9C424.5 117.1 425.9 116.3 427.2 116.1C428.4 115.9 429.4 116.2 430.7 116.7C432.1 117.2 433.7 118.5 435.2 119.1C436.7 119.7 438.3 119.9 439.7 120.3C441.1 120.7 443.2 121.3 443.9 121.5L443.9 130.4L311.9 130.4Z" fill="#ade6e5" clip-path="url(#band)"/>
<path d="M311.9 117.0C312.6 117.5 314.4 119.1 315.8 120.0C317.2 120.9 318.8 122.3 320.3 122.4C321.8 122.5 323.3 121.2 324.8 120.6C326.3 120.0 327.5 119.0 329.3 118.5C331.0 118.1 333.2 118.3 335.2 117.9C337.2 117.5 339.2 116.6 341.2 116.1C343.2 115.6 344.9 115.2 347.2 114.9C349.4 114.6 352.4 114.2 354.6 114.3C356.9 114.4 358.9 115.0 360.6 115.5C362.3 116.0 363.7 117.1 365.1 117.3C366.5 117.6 367.8 117.8 369.0 117.0C370.1 116.2 370.9 115.3 371.9 112.5C372.9 109.8 373.9 105.6 374.9 100.6C375.9 95.6 376.9 88.7 377.9 82.7C378.9 76.7 380.0 69.3 380.9 64.8C381.7 60.3 382.4 57.7 383.0 55.8C383.6 53.9 384.0 53.4 384.5 53.4C385.0 53.4 385.3 53.7 386.0 55.8C386.6 58.0 387.5 61.5 388.4 66.3C389.3 71.0 390.3 78.5 391.3 84.2C392.3 89.9 393.2 96.1 394.3 100.6C395.4 105.1 396.6 108.6 397.9 111.0C399.3 113.5 400.9 114.1 402.4 115.5C403.9 116.9 405.4 118.3 406.9 119.4C408.4 120.5 409.9 121.7 411.3 122.4C412.8 123.0 414.4 123.5 415.8 123.3C417.2 123.0 418.5 121.8 419.7 120.9C420.9 120.0 422.0 118.7 423.3 117.9C424.5 117.1 425.9 116.3 427.2 116.1C428.4 115.9 429.4 116.2 430.7 116.7C432.1 117.2 433.7 118.5 435.2 119.1C436.7 119.7 438.3 119.9 439.7 120.3C441.1 120.7 443.2 121.3 443.9 121.5" fill="none" stroke="#222" stroke-width="0.9"/>
<path d="M311.9 33V130.4H444" fill="none" stroke="#555" stroke-width="0.7"/>
<path d="M315.2 53.7H444" stroke="#7fd9de" stroke-width="1" stroke-dasharray="8.2 3" fill="none"/>
<path d="M384.6 35V130.4" stroke="#e5554e" stroke-width="0.9" stroke-dasharray="7.6 3.4" fill="none"/>
<text x="308.4" y="36.6" font-size="7.7" fill="#222" text-anchor="end" font-weight="normal" >4</text>
<text x="308.4" y="56.0" font-size="7.7" fill="#222" text-anchor="end" font-weight="normal" >3</text>
<text x="308.4" y="75.4" font-size="7.7" fill="#222" text-anchor="end" font-weight="normal" >2</text>
<text x="308.4" y="94.80000000000001" font-size="7.7" fill="#222" text-anchor="end" font-weight="normal" >1</text>
<text x="308.4" y="114.2" font-size="7.7" fill="#222" text-anchor="end" font-weight="normal" >0</text>
<text x="308.4" y="133.6" font-size="7.7" fill="#222" text-anchor="end" font-weight="normal" >-1</text>
<text x="313.0" y="141.8" font-size="7.7" fill="#222" text-anchor="middle" font-weight="normal" >-200</text>
<text x="346.3" y="141.8" font-size="7.7" fill="#222" text-anchor="middle" font-weight="normal" >-100</text>
<text x="378.1" y="141.8" font-size="7.7" fill="#222" text-anchor="middle" font-weight="normal" >0</text>
<text x="411.40000000000003" y="141.8" font-size="7.7" fill="#222" text-anchor="middle" font-weight="normal" >100</text>
<text x="444.70000000000005" y="141.8" font-size="7.7" fill="#222" text-anchor="middle" font-weight="normal" >200</text>
<text x="390.6" y="46.3" font-size="20.5" fill="#e9403a" text-anchor="start" font-weight="normal" >τ</text>
<text x="400" y="50.2" font-size="8.4" fill="#e9403a" font-weight="normal" textLength="15.6" lengthAdjust="spacing">max</text>
<text x="318.2" y="71.1" font-size="14.6" fill="#1fb1c1" font-weight="bold" textLength="12.8" lengthAdjust="spacing">W</text>
<text x="331.6" y="74.8" font-size="7.9" fill="#1fb1c1" font-weight="bold" textLength="15.6" lengthAdjust="spacing">max</text>
<text x="404.6" y="68.9" font-size="7.5" fill="#505050" font-weight="normal" textLength="38.6" lengthAdjust="spacing">Coincidince</text>
<text x="411" y="77.8" font-size="7.5" fill="#505050" font-weight="normal" textLength="24.5" lengthAdjust="spacing">Index =</text>
<rect x="420.6" y="86" width="7.6" height="7.6" fill="#ade6e5" stroke="#555" stroke-width="0.6"/>
<path d="M407.8 95.9H442.7" stroke="#555" stroke-width="0.6"/>
<rect x="412.5" y="98.9" width="7.6" height="8" fill="#cfcde8" stroke="#555" stroke-width="0.6"/>
<rect x="429.6" y="98.9" width="7.6" height="8" fill="#ade6e5" stroke="#555" stroke-width="0.6"/>
<text x="424.8" y="106" font-size="8.4" fill="#333" text-anchor="middle" font-weight="normal" >+</text>
<text transform="translate(295 103.6) rotate(-90)" font-size="8.3" fill="#505050">Coupling <tspan fill="#1fb1c1" font-weight="bold" font-size="9">w</tspan></text>
<text x="355.8" y="157.6" font-size="15.8" fill="#e9403a" text-anchor="start" font-weight="normal" >τ</text>
<text x="368.5" y="156.8" font-size="8.2" fill="#505050" font-weight="normal" textLength="52.9" lengthAdjust="spacing">Time Lag (ms)</text>
<text x="331.2" y="186.7" font-size="10.4" fill="#505050" font-weight="normal" textLength="106.7" lengthAdjust="spacing">An example participant's</text>
<text x="319.6" y="198.3" font-size="10.4" fill="#505050" font-weight="normal" textLength="132.7" lengthAdjust="spacing">electrode pair selection criteria</text>
<path d="M297.6 210V376.7H477" fill="none" stroke="#555" stroke-width="0.7"/>
<path d="M340.8 208V376.7M297.6 354.7H477" fill="none" stroke="#484848" stroke-width="0.85"/>
<text x="293.4" y="218.0" font-size="7.7" fill="#222" text-anchor="end" font-weight="normal" >6</text>
<text x="293.4" y="247.8" font-size="7.7" fill="#222" text-anchor="end" font-weight="normal" >5</text>
<text x="293.4" y="276.2" font-size="7.7" fill="#222" text-anchor="end" font-weight="normal" >4</text>
<text x="293.4" y="302.4" font-size="7.7" fill="#222" text-anchor="end" font-weight="normal" >3</text>
<text x="293.4" y="328.59999999999997" font-size="7.7" fill="#222" text-anchor="end" font-weight="normal" >2</text>
<text x="293.4" y="354.09999999999997" font-size="7.7" fill="#222" text-anchor="end" font-weight="normal" >1</text>
<text x="293.4" y="380.09999999999997" font-size="7.7" fill="#222" text-anchor="end" font-weight="normal" >0</text>
<text x="298.3" y="387.3" font-size="7.7" fill="#222" text-anchor="middle" font-weight="normal" >0</text>
<text x="330.35" y="387.3" font-size="7.7" fill="#222" text-anchor="middle" font-weight="normal" >0.1</text>
<text x="362.4" y="387.3" font-size="7.7" fill="#222" text-anchor="middle" font-weight="normal" >0.2</text>
<text x="394.45" y="387.3" font-size="7.7" fill="#222" text-anchor="middle" font-weight="normal" >0.3</text>
<text x="426.5" y="387.3" font-size="7.7" fill="#222" text-anchor="middle" font-weight="normal" >0.4</text>
<text x="458.55" y="387.3" font-size="7.7" fill="#222" text-anchor="middle" font-weight="normal" >0.5</text>
<text x="349.3" y="400.1" font-size="8.3" fill="#505050" font-weight="normal" textLength="70.0" lengthAdjust="spacing">Coincidence Index</text>
<text transform="translate(278.9 304.4) rotate(-90)" font-size="14" fill="#1fb1c1" font-weight="bold">W<tspan font-size="7.6" dy="4.5">max</tspan></text>
<g fill="#a2a2a2" fill-opacity="0.42"><circle cx="311.2" cy="362.8" r="1.7"/><circle cx="331.3" cy="362.9" r="1.7"/><circle cx="333.0" cy="360.4" r="1.7"/><circle cx="325.1" cy="362.7" r="1.7"/><circle cx="315.7" cy="365.9" r="1.7"/><circle cx="311.0" cy="365.3" r="1.7"/><circle cx="327.8" cy="363.2" r="1.7"/><circle cx="322.0" cy="362.3" r="1.7"/><circle cx="322.9" cy="362.4" r="1.7"/><circle cx="318.4" cy="363.8" r="1.7"/><circle cx="339.0" cy="360.8" r="1.7"/><circle cx="323.8" cy="365.9" r="1.7"/><circle cx="338.8" cy="360.1" r="1.7"/><circle cx="309.3" cy="365.6" r="1.7"/><circle cx="327.2" cy="361.5" r="1.7"/><circle cx="318.9" cy="366.2" r="1.7"/><circle cx="323.9" cy="364.7" r="1.7"/><circle cx="319.0" cy="368.8" r="1.7"/><circle cx="334.6" cy="361.7" r="1.7"/><circle cx="318.5" cy="367.1" r="1.7"/><circle cx="325.3" cy="360.3" r="1.7"/><circle cx="318.6" cy="368.1" r="1.7"/><circle cx="320.9" cy="363.4" r="1.7"/><circle cx="323.6" cy="363.7" r="1.7"/><circle cx="336.8" cy="361.8" r="1.7"/><circle cx="315.0" cy="368.6" r="1.7"/><circle cx="324.5" cy="363.7" r="1.7"/><circle cx="327.5" cy="368.0" r="1.7"/><circle cx="339.5" cy="357.5" r="1.7"/><circle cx="317.9" cy="367.4" r="1.7"/><circle cx="307.2" cy="366.3" r="1.7"/><circle cx="333.4" cy="365.1" r="1.7"/><circle cx="325.6" cy="357.5" r="1.7"/><circle cx="328.7" cy="364.4" r="1.7"/><circle cx="306.5" cy="362.8" r="1.7"/><circle cx="314.7" cy="364.9" r="1.7"/><circle cx="320.0" cy="366.3" r="1.7"/><circle cx="326.3" cy="364.1" r="1.7"/><circle cx="323.4" cy="364.7" r="1.7"/><circle cx="332.2" cy="361.8" r="1.7"/><circle cx="316.9" cy="366.4" r="1.7"/><circle cx="308.1" cy="363.7" r="1.7"/><circle cx="313.5" cy="366.7" r="1.7"/><circle cx="340.0" cy="362.9" r="1.7"/><circle cx="331.7" cy="363.0" r="1.7"/><circle cx="324.0" cy="362.4" r="1.7"/><circle cx="310.9" cy="362.4" r="1.7"/><circle cx="329.3" cy="364.7" r="1.7"/><circle cx="332.5" cy="366.9" r="1.7"/><circle cx="319.9" cy="367.9" r="1.7"/><circle cx="338.4" cy="360.8" r="1.7"/><circle cx="331.0" cy="361.9" r="1.7"/><circle cx="308.3" cy="367.3" r="1.7"/><circle cx="315.0" cy="365.9" r="1.7"/><circle cx="318.1" cy="365.9" r="1.7"/><circle cx="333.2" cy="360.8" r="1.7"/><circle cx="314.2" cy="365.7" r="1.7"/><circle cx="327.8" cy="364.3" r="1.7"/><circle cx="313.1" cy="370.1" r="1.7"/><circle cx="323.0" cy="359.2" r="1.7"/><circle cx="313.6" cy="361.3" r="1.7"/><circle cx="313.9" cy="369.4" r="1.7"/><circle cx="320.7" cy="367.9" r="1.7"/><circle cx="322.6" cy="359.3" r="1.7"/><circle cx="314.7" cy="362.3" r="1.7"/><circle cx="332.5" cy="362.3" r="1.7"/><circle cx="322.7" cy="368.7" r="1.7"/><circle cx="306.9" cy="368.5" r="1.7"/><circle cx="311.9" cy="361.7" r="1.7"/><circle cx="315.5" cy="369.1" r="1.7"/><circle cx="319.5" cy="358.8" r="1.7"/><circle cx="313.2" cy="370.7" r="1.7"/><circle cx="330.0" cy="359.1" r="1.7"/><circle cx="311.5" cy="365.8" r="1.7"/><circle cx="330.9" cy="367.5" r="1.7"/><circle cx="330.5" cy="361.1" r="1.7"/><circle cx="316.1" cy="360.7" r="1.7"/><circle cx="320.9" cy="362.5" r="1.7"/><circle cx="323.2" cy="359.9" r="1.7"/><circle cx="316.8" cy="362.4" r="1.7"/><circle cx="310.7" cy="362.6" r="1.7"/><circle cx="312.3" cy="362.3" r="1.7"/><circle cx="326.8" cy="363.5" r="1.7"/><circle cx="310.7" cy="368.0" r="1.7"/><circle cx="325.2" cy="368.1" r="1.7"/><circle cx="320.1" cy="363.9" r="1.7"/><circle cx="316.0" cy="365.8" r="1.7"/><circle cx="326.2" cy="363.9" r="1.7"/><circle cx="320.0" cy="366.3" r="1.7"/><circle cx="322.8" cy="364.8" r="1.7"/><circle cx="313.9" cy="366.4" r="1.7"/><circle cx="312.7" cy="363.3" r="1.7"/><circle cx="330.5" cy="362.5" r="1.7"/><circle cx="320.9" cy="367.5" r="1.7"/><circle cx="334.6" cy="365.5" r="1.7"/><circle cx="320.4" cy="365.1" r="1.7"/><circle cx="318.8" cy="363.9" r="1.7"/><circle cx="314.3" cy="364.9" r="1.7"/><circle cx="325.0" cy="360.6" r="1.7"/><circle cx="325.8" cy="359.3" r="1.7"/><circle cx="318.9" cy="366.0" r="1.7"/><circle cx="312.4" cy="363.8" r="1.7"/><circle cx="315.4" cy="363.7" r="1.7"/><circle cx="322.1" cy="364.0" r="1.7"/><circle cx="330.9" cy="364.9" r="1.7"/><circle cx="318.2" cy="363.8" r="1.7"/><circle cx="308.7" cy="362.1" r="1.7"/><circle cx="315.9" cy="367.7" r="1.7"/><circle cx="323.4" cy="366.4" r="1.7"/><circle cx="329.9" cy="362.1" r="1.7"/><circle cx="339.7" cy="358.9" r="1.7"/><circle cx="316.2" cy="364.0" r="1.7"/><circle cx="331.6" cy="361.8" r="1.7"/><circle cx="315.7" cy="366.8" r="1.7"/><circle cx="331.6" cy="361.9" r="1.7"/><circle cx="320.3" cy="367.9" r="1.7"/><circle cx="330.9" cy="365.4" r="1.7"/><circle cx="315.4" cy="366.4" r="1.7"/><circle cx="323.9" cy="358.1" r="1.7"/><circle cx="332.3" cy="362.4" r="1.7"/><circle cx="322.7" cy="361.7" r="1.7"/><circle cx="321.7" cy="366.0" r="1.7"/><circle cx="328.9" cy="362.6" r="1.7"/><circle cx="314.0" cy="363.6" r="1.7"/><circle cx="314.2" cy="362.4" r="1.7"/><circle cx="321.4" cy="362.7" r="1.7"/><circle cx="321.8" cy="361.6" r="1.7"/><circle cx="314.3" cy="365.1" r="1.7"/><circle cx="319.6" cy="368.3" r="1.7"/><circle cx="314.2" cy="366.4" r="1.7"/><circle cx="320.7" cy="360.3" r="1.7"/><circle cx="328.3" cy="363.4" r="1.7"/><circle cx="304.1" cy="369.6" r="1.7"/><circle cx="329.5" cy="360.1" r="1.7"/><circle cx="336.6" cy="361.7" r="1.7"/><circle cx="312.2" cy="367.9" r="1.7"/><circle cx="317.9" cy="360.7" r="1.7"/><circle cx="303.5" cy="368.6" r="1.7"/><circle cx="315.9" cy="367.4" r="1.7"/><circle cx="324.9" cy="361.9" r="1.7"/><circle cx="318.4" cy="370.5" r="1.7"/><circle cx="337.1" cy="363.5" r="1.7"/><circle cx="318.2" cy="361.8" r="1.7"/><circle cx="319.5" cy="369.9" r="1.7"/><circle cx="325.7" cy="362.5" r="1.7"/><circle cx="311.4" cy="366.8" r="1.7"/><circle cx="314.3" cy="365.7" r="1.7"/><circle cx="328.9" cy="366.2" r="1.7"/><circle cx="322.9" cy="362.9" r="1.7"/><circle cx="324.9" cy="369.3" r="1.7"/><circle cx="324.3" cy="359.3" r="1.7"/><circle cx="335.4" cy="362.3" r="1.7"/><circle cx="320.9" cy="363.4" r="1.7"/><circle cx="324.8" cy="361.8" r="1.7"/><circle cx="320.5" cy="362.8" r="1.7"/><circle cx="329.4" cy="366.1" r="1.7"/><circle cx="317.7" cy="366.0" r="1.7"/><circle cx="319.9" cy="363.9" r="1.7"/><circle cx="328.7" cy="364.7" r="1.7"/><circle cx="324.6" cy="364.1" r="1.7"/><circle cx="309.0" cy="364.4" r="1.7"/><circle cx="324.9" cy="362.4" r="1.7"/><circle cx="315.4" cy="366.6" r="1.7"/><circle cx="313.5" cy="363.7" r="1.7"/><circle cx="329.2" cy="361.6" r="1.7"/><circle cx="334.5" cy="363.3" r="1.7"/><circle cx="329.5" cy="366.2" r="1.7"/><circle cx="303.2" cy="367.7" r="1.7"/><circle cx="310.5" cy="365.0" r="1.7"/><circle cx="321.7" cy="368.1" r="1.7"/><circle cx="322.5" cy="369.2" r="1.7"/><circle cx="317.3" cy="364.9" r="1.7"/><circle cx="323.2" cy="366.9" r="1.7"/><circle cx="321.0" cy="362.4" r="1.7"/><circle cx="318.2" cy="360.5" r="1.7"/><circle cx="333.1" cy="364.3" r="1.7"/><circle cx="325.7" cy="364.3" r="1.7"/><circle cx="316.4" cy="364.0" r="1.7"/><circle cx="328.3" cy="360.4" r="1.7"/><circle cx="316.1" cy="370.3" r="1.7"/><circle cx="335.4" cy="362.4" r="1.7"/><circle cx="326.5" cy="363.8" r="1.7"/><circle cx="333.8" cy="360.4" r="1.7"/><circle cx="322.9" cy="365.5" r="1.7"/><circle cx="334.0" cy="361.0" r="1.7"/><circle cx="323.6" cy="362.3" r="1.7"/><circle cx="315.9" cy="363.3" r="1.7"/><circle cx="323.1" cy="366.7" r="1.7"/><circle cx="315.6" cy="363.6" r="1.7"/><circle cx="318.6" cy="365.9" r="1.7"/><circle cx="327.1" cy="359.2" r="1.7"/><circle cx="324.3" cy="360.6" r="1.7"/><circle cx="327.4" cy="360.1" r="1.7"/><circle cx="312.2" cy="363.9" r="1.7"/><circle cx="320.7" cy="361.3" r="1.7"/><circle cx="323.8" cy="364.3" r="1.7"/><circle cx="322.7" cy="364.9" r="1.7"/><circle cx="328.9" cy="360.5" r="1.7"/><circle cx="321.9" cy="364.1" r="1.7"/><circle cx="304.6" cy="368.8" r="1.7"/><circle cx="314.9" cy="363.3" r="1.7"/><circle cx="318.1" cy="365.2" r="1.7"/><circle cx="325.0" cy="365.1" r="1.7"/><circle cx="316.4" cy="367.5" r="1.7"/><circle cx="325.2" cy="362.3" r="1.7"/><circle cx="322.2" cy="366.6" r="1.7"/><circle cx="326.0" cy="365.5" r="1.7"/><circle cx="323.5" cy="367.4" r="1.7"/><circle cx="309.3" cy="372.1" r="1.7"/><circle cx="316.2" cy="361.0" r="1.7"/><circle cx="331.7" cy="365.3" r="1.7"/><circle cx="319.5" cy="369.2" r="1.7"/><circle cx="320.9" cy="362.5" r="1.7"/><circle cx="322.6" cy="364.7" r="1.7"/><circle cx="322.5" cy="365.3" r="1.7"/><circle cx="304.3" cy="372.6" r="1.7"/><circle cx="317.4" cy="367.1" r="1.7"/><circle cx="315.2" cy="366.0" r="1.7"/><circle cx="319.4" cy="359.8" r="1.7"/><circle cx="325.5" cy="365.4" r="1.7"/><circle cx="315.9" cy="362.8" r="1.7"/><circle cx="322.8" cy="363.9" r="1.7"/><circle cx="335.9" cy="363.4" r="1.7"/><circle cx="319.8" cy="365.1" r="1.7"/><circle cx="314.0" cy="365.4" r="1.7"/><circle cx="324.7" cy="364.3" r="1.7"/><circle cx="329.4" cy="360.5" r="1.7"/><circle cx="324.4" cy="363.3" r="1.7"/><circle cx="322.2" cy="365.1" r="1.7"/><circle cx="319.6" cy="365.3" r="1.7"/><circle cx="322.2" cy="367.3" r="1.7"/><circle cx="321.1" cy="365.3" r="1.7"/><circle cx="326.8" cy="366.5" r="1.7"/><circle cx="313.8" cy="368.0" r="1.7"/><circle cx="328.5" cy="364.2" r="1.7"/><circle cx="330.6" cy="364.9" r="1.7"/><circle cx="331.5" cy="360.3" r="1.7"/><circle cx="325.2" cy="361.8" r="1.7"/><circle cx="332.4" cy="362.5" r="1.7"/><circle cx="311.0" cy="366.7" r="1.7"/><circle cx="314.0" cy="368.8" r="1.7"/><circle cx="319.2" cy="367.9" r="1.7"/><circle cx="324.3" cy="361.7" r="1.7"/><circle cx="327.7" cy="364.8" r="1.7"/><circle cx="334.8" cy="364.4" r="1.7"/><circle cx="324.5" cy="361.2" r="1.7"/><circle cx="324.4" cy="364.6" r="1.7"/><circle cx="322.2" cy="365.4" r="1.7"/><circle cx="312.2" cy="367.9" r="1.7"/><circle cx="322.2" cy="365.2" r="1.7"/><circle cx="320.9" cy="363.5" r="1.7"/><circle cx="324.5" cy="366.1" r="1.7"/><circle cx="319.4" cy="365.7" r="1.7"/><circle cx="315.7" cy="366.7" r="1.7"/><circle cx="321.3" cy="360.3" r="1.7"/><circle cx="331.1" cy="359.6" r="1.7"/><circle cx="321.8" cy="360.2" r="1.7"/><circle cx="307.7" cy="369.1" r="1.7"/><circle cx="319.1" cy="359.9" r="1.7"/><circle cx="321.2" cy="370.0" r="1.7"/><circle cx="318.8" cy="365.9" r="1.7"/><circle cx="326.7" cy="364.0" r="1.7"/><circle cx="321.8" cy="368.9" r="1.7"/><circle cx="321.4" cy="365.4" r="1.7"/><circle cx="322.0" cy="360.2" r="1.7"/><circle cx="324.6" cy="363.8" r="1.7"/><circle cx="327.7" cy="365.1" r="1.7"/><circle cx="333.9" cy="355.9" r="1.7"/><circle cx="316.9" cy="363.7" r="1.7"/><circle cx="314.9" cy="366.9" r="1.7"/><circle cx="321.3" cy="364.7" r="1.7"/><circle cx="307.6" cy="364.1" r="1.7"/><circle cx="321.1" cy="363.0" r="1.7"/><circle cx="316.7" cy="364.9" r="1.7"/><circle cx="318.9" cy="361.5" r="1.7"/><circle cx="335.4" cy="359.4" r="1.7"/><circle cx="327.7" cy="364.9" r="1.7"/><circle cx="329.6" cy="360.9" r="1.7"/><circle cx="313.8" cy="367.2" r="1.7"/><circle cx="318.4" cy="364.0" r="1.7"/><circle cx="324.8" cy="360.6" r="1.7"/><circle cx="332.9" cy="362.8" r="1.7"/><circle cx="304.6" cy="368.4" r="1.7"/><circle cx="317.5" cy="366.4" r="1.7"/><circle cx="321.3" cy="366.3" r="1.7"/><circle cx="314.3" cy="364.6" r="1.7"/><circle cx="321.5" cy="362.0" r="1.7"/><circle cx="318.4" cy="366.8" r="1.7"/><circle cx="337.8" cy="360.3" r="1.7"/><circle cx="328.1" cy="359.4" r="1.7"/><circle cx="318.2" cy="365.9" r="1.7"/><circle cx="326.1" cy="360.2" r="1.7"/><circle cx="327.0" cy="363.6" r="1.7"/><circle cx="333.4" cy="364.8" r="1.7"/><circle cx="326.2" cy="362.1" r="1.7"/><circle cx="323.5" cy="361.2" r="1.7"/><circle cx="313.9" cy="360.1" r="1.7"/><circle cx="310.2" cy="362.6" r="1.7"/><circle cx="321.1" cy="364.7" r="1.7"/><circle cx="310.6" cy="366.1" r="1.7"/><circle cx="325.8" cy="366.2" r="1.7"/><circle cx="321.2" cy="365.0" r="1.7"/><circle cx="319.2" cy="367.5" r="1.7"/><circle cx="309.0" cy="367.5" r="1.7"/><circle cx="316.6" cy="360.9" r="1.7"/><circle cx="306.9" cy="365.9" r="1.7"/><circle cx="315.1" cy="368.7" r="1.7"/><circle cx="316.8" cy="361.8" r="1.7"/><circle cx="321.4" cy="365.5" r="1.7"/><circle cx="328.9" cy="364.3" r="1.7"/><circle cx="308.9" cy="364.2" r="1.7"/><circle cx="319.8" cy="362.0" r="1.7"/><circle cx="327.8" cy="361.9" r="1.7"/><circle cx="320.9" cy="363.2" r="1.7"/><circle cx="321.2" cy="359.7" r="1.7"/><circle cx="338.9" cy="359.0" r="1.7"/><circle cx="314.6" cy="360.1" r="1.7"/><circle cx="320.2" cy="360.3" r="1.7"/><circle cx="325.2" cy="367.1" r="1.7"/><circle cx="326.6" cy="361.8" r="1.7"/><circle cx="332.2" cy="361.5" r="1.7"/><circle cx="321.4" cy="364.4" r="1.7"/><circle cx="318.0" cy="366.2" r="1.7"/><circle cx="310.4" cy="361.0" r="1.7"/><circle cx="331.3" cy="360.0" r="1.7"/><circle cx="319.0" cy="365.7" r="1.7"/><circle cx="317.1" cy="361.5" r="1.7"/><circle cx="319.5" cy="361.7" r="1.7"/><circle cx="326.0" cy="361.9" r="1.7"/><circle cx="320.0" cy="366.9" r="1.7"/><circle cx="308.0" cy="362.4" r="1.7"/><circle cx="328.5" cy="366.7" r="1.7"/><circle cx="322.1" cy="361.9" r="1.7"/><circle cx="332.3" cy="363.6" r="1.7"/><circle cx="329.2" cy="357.1" r="1.7"/><circle cx="320.0" cy="361.4" r="1.7"/><circle cx="312.9" cy="367.7" r="1.7"/><circle cx="327.5" cy="361.6" r="1.7"/><circle cx="320.4" cy="368.6" r="1.7"/><circle cx="327.1" cy="362.7" r="1.7"/><circle cx="326.0" cy="363.6" r="1.7"/><circle cx="310.9" cy="364.8" r="1.7"/><circle cx="324.4" cy="365.5" r="1.7"/><circle cx="311.3" cy="363.8" r="1.7"/><circle cx="316.0" cy="360.7" r="1.7"/><circle cx="331.2" cy="363.7" r="1.7"/><circle cx="316.0" cy="370.9" r="1.7"/><circle cx="308.9" cy="361.2" r="1.7"/><circle cx="324.5" cy="368.4" r="1.7"/><circle cx="326.5" cy="360.3" r="1.7"/><circle cx="326.6" cy="364.4" r="1.7"/><circle cx="324.2" cy="364.9" r="1.7"/><circle cx="329.3" cy="366.2" r="1.7"/><circle cx="333.8" cy="365.0" r="1.7"/><circle cx="319.4" cy="359.0" r="1.7"/><circle cx="325.4" cy="358.8" r="1.7"/><circle cx="305.3" cy="361.8" r="1.7"/><circle cx="325.2" cy="364.4" r="1.7"/><circle cx="327.3" cy="363.9" r="1.7"/><circle cx="315.7" cy="367.9" r="1.7"/><circle cx="315.1" cy="360.9" r="1.7"/><circle cx="329.6" cy="364.2" r="1.7"/><circle cx="313.8" cy="365.0" r="1.7"/><circle cx="330.8" cy="365.2" r="1.7"/><circle cx="313.5" cy="369.2" r="1.7"/><circle cx="324.9" cy="363.2" r="1.7"/><circle cx="321.7" cy="359.3" r="1.7"/><circle cx="320.9" cy="365.9" r="1.7"/><circle cx="314.1" cy="366.1" r="1.7"/><circle cx="317.0" cy="366.9" r="1.7"/><circle cx="308.8" cy="366.8" r="1.7"/><circle cx="323.8" cy="359.9" r="1.7"/><circle cx="320.2" cy="367.2" r="1.7"/><circle cx="327.2" cy="360.0" r="1.7"/><circle cx="330.5" cy="363.5" r="1.7"/><circle cx="323.7" cy="368.4" r="1.7"/><circle cx="328.1" cy="364.0" r="1.7"/><circle cx="330.2" cy="364.5" r="1.7"/><circle cx="332.3" cy="361.7" r="1.7"/><circle cx="307.9" cy="371.7" r="1.7"/><circle cx="328.8" cy="364.4" r="1.7"/><circle cx="322.1" cy="363.8" r="1.7"/><circle cx="322.1" cy="361.2" r="1.7"/><circle cx="328.3" cy="363.1" r="1.7"/><circle cx="314.0" cy="366.6" r="1.7"/><circle cx="319.1" cy="364.6" r="1.7"/><circle cx="313.2" cy="367.2" r="1.7"/><circle cx="328.0" cy="364.2" r="1.7"/><circle cx="334.0" cy="360.4" r="1.7"/><circle cx="319.1" cy="364.7" r="1.7"/><circle cx="311.0" cy="369.7" r="1.7"/><circle cx="311.8" cy="367.9" r="1.7"/><circle cx="331.3" cy="359.7" r="1.7"/><circle cx="320.2" cy="363.9" r="1.7"/><circle cx="336.4" cy="362.1" r="1.7"/><circle cx="307.8" cy="370.3" r="1.7"/><circle cx="331.5" cy="366.6" r="1.7"/><circle cx="327.8" cy="362.9" r="1.7"/><circle cx="316.2" cy="366.5" r="1.7"/><circle cx="315.1" cy="366.0" r="1.7"/><circle cx="319.4" cy="363.3" r="1.7"/><circle cx="327.0" cy="366.2" r="1.7"/><circle cx="329.5" cy="364.0" r="1.7"/><circle cx="335.2" cy="357.6" r="1.7"/><circle cx="322.5" cy="364.6" r="1.7"/><circle cx="318.0" cy="364.0" r="1.7"/><circle cx="323.8" cy="363.5" r="1.7"/><circle cx="326.0" cy="366.4" r="1.7"/><circle cx="321.4" cy="369.5" r="1.7"/><circle cx="312.4" cy="369.9" r="1.7"/><circle cx="328.4" cy="366.0" r="1.7"/><circle cx="334.7" cy="360.9" r="1.7"/><circle cx="325.5" cy="364.3" r="1.7"/><circle cx="316.3" cy="362.9" r="1.7"/><circle cx="315.8" cy="368.0" r="1.7"/><circle cx="323.3" cy="367.9" r="1.7"/><circle cx="321.7" cy="368.1" r="1.7"/><circle cx="321.0" cy="362.7" r="1.7"/><circle cx="308.8" cy="367.4" r="1.7"/><circle cx="336.4" cy="361.5" r="1.7"/><circle cx="313.5" cy="367.7" r="1.7"/><circle cx="309.6" cy="363.1" r="1.7"/><circle cx="331.5" cy="363.5" r="1.7"/><circle cx="330.1" cy="363.3" r="1.7"/><circle cx="321.0" cy="364.9" r="1.7"/><circle cx="319.8" cy="367.9" r="1.7"/><circle cx="309.9" cy="360.7" r="1.7"/><circle cx="315.3" cy="368.3" r="1.7"/><circle cx="320.6" cy="366.2" r="1.7"/><circle cx="324.9" cy="363.1" r="1.7"/><circle cx="309.1" cy="368.4" r="1.7"/><circle cx="313.5" cy="365.3" r="1.7"/><circle cx="328.0" cy="361.8" r="1.7"/><circle cx="306.4" cy="365.4" r="1.7"/><circle cx="327.4" cy="365.3" r="1.7"/><circle cx="311.0" cy="366.5" r="1.7"/><circle cx="325.0" cy="366.9" r="1.7"/><circle cx="325.3" cy="364.0" r="1.7"/><circle cx="319.6" cy="366.1" r="1.7"/><circle cx="328.2" cy="362.4" r="1.7"/><circle cx="320.5" cy="369.8" r="1.7"/><circle cx="321.0" cy="361.9" r="1.7"/><circle cx="326.8" cy="359.4" r="1.7"/><circle cx="313.3" cy="368.7" r="1.7"/><circle cx="322.5" cy="366.5" r="1.7"/><circle cx="327.9" cy="360.6" r="1.7"/><circle cx="325.9" cy="362.2" r="1.7"/><circle cx="323.8" cy="364.6" r="1.7"/><circle cx="320.4" cy="360.5" r="1.7"/><circle cx="324.4" cy="363.7" r="1.7"/><circle cx="325.7" cy="360.2" r="1.7"/><circle cx="323.4" cy="363.2" r="1.7"/><circle cx="318.1" cy="364.1" r="1.7"/><circle cx="319.0" cy="360.6" r="1.7"/><circle cx="317.0" cy="363.7" r="1.7"/><circle cx="325.7" cy="362.9" r="1.7"/><circle cx="334.0" cy="363.6" r="1.7"/><circle cx="324.6" cy="364.3" r="1.7"/><circle cx="310.2" cy="367.6" r="1.7"/><circle cx="331.8" cy="359.1" r="1.7"/><circle cx="333.2" cy="363.8" r="1.7"/><circle cx="324.0" cy="362.4" r="1.7"/><circle cx="321.6" cy="361.8" r="1.7"/><circle cx="321.8" cy="364.4" r="1.7"/><circle cx="321.7" cy="360.5" r="1.7"/><circle cx="329.2" cy="360.7" r="1.7"/><circle cx="325.5" cy="365.3" r="1.7"/><circle cx="323.1" cy="365.2" r="1.7"/><circle cx="320.0" cy="365.6" r="1.7"/><circle cx="311.7" cy="368.2" r="1.7"/><circle cx="318.5" cy="363.3" r="1.7"/><circle cx="328.7" cy="365.6" r="1.7"/><circle cx="317.7" cy="361.9" r="1.7"/><circle cx="304.6" cy="364.6" r="1.7"/><circle cx="326.3" cy="365.2" r="1.7"/><circle cx="311.4" cy="366.4" r="1.7"/><circle cx="330.1" cy="360.2" r="1.7"/><circle cx="316.7" cy="362.5" r="1.7"/><circle cx="324.2" cy="357.9" r="1.7"/><circle cx="321.0" cy="365.8" r="1.7"/><circle cx="322.0" cy="367.1" r="1.7"/><circle cx="326.7" cy="361.7" r="1.7"/><circle cx="312.9" cy="362.7" r="1.7"/><circle cx="325.8" cy="363.0" r="1.7"/><circle cx="322.3" cy="361.3" r="1.7"/><circle cx="331.9" cy="364.8" r="1.7"/><circle cx="327.5" cy="359.7" r="1.7"/><circle cx="313.4" cy="368.8" r="1.7"/><circle cx="320.3" cy="362.1" r="1.7"/><circle cx="315.8" cy="366.9" r="1.7"/><circle cx="324.5" cy="364.3" r="1.7"/><circle cx="319.5" cy="361.5" r="1.7"/><circle cx="323.8" cy="363.0" r="1.7"/><circle cx="320.5" cy="366.3" r="1.7"/><circle cx="335.5" cy="359.5" r="1.7"/><circle cx="329.4" cy="360.4" r="1.7"/><circle cx="329.2" cy="364.7" r="1.7"/><circle cx="322.3" cy="364.8" r="1.7"/><circle cx="315.2" cy="364.5" r="1.7"/><circle cx="330.2" cy="364.8" r="1.7"/><circle cx="318.1" cy="365.2" r="1.7"/><circle cx="322.1" cy="362.6" r="1.7"/><circle cx="318.4" cy="364.6" r="1.7"/><circle cx="332.4" cy="361.8" r="1.7"/><circle cx="315.8" cy="366.3" r="1.7"/><circle cx="316.8" cy="366.1" r="1.7"/><circle cx="313.6" cy="368.8" r="1.7"/><circle cx="328.2" cy="361.6" r="1.7"/><circle cx="325.1" cy="360.0" r="1.7"/><circle cx="323.8" cy="364.6" r="1.7"/><circle cx="330.4" cy="361.2" r="1.7"/><circle cx="304.6" cy="370.1" r="1.7"/><circle cx="312.6" cy="364.4" r="1.7"/><circle cx="319.9" cy="369.6" r="1.7"/><circle cx="322.2" cy="367.6" r="1.7"/><circle cx="321.7" cy="360.0" r="1.7"/><circle cx="326.0" cy="364.9" r="1.7"/><circle cx="316.3" cy="360.6" r="1.7"/><circle cx="325.6" cy="364.8" r="1.7"/><circle cx="330.0" cy="364.4" r="1.7"/><circle cx="308.9" cy="362.6" r="1.7"/><circle cx="329.5" cy="366.8" r="1.7"/><circle cx="331.2" cy="364.8" r="1.7"/><circle cx="322.3" cy="367.0" r="1.7"/><circle cx="335.0" cy="363.2" r="1.7"/><circle cx="332.9" cy="365.6" r="1.7"/><circle cx="316.7" cy="368.8" r="1.7"/><circle cx="315.0" cy="362.8" r="1.7"/><circle cx="334.2" cy="356.7" r="1.7"/><circle cx="320.9" cy="367.1" r="1.7"/><circle cx="324.9" cy="362.4" r="1.7"/><circle cx="314.5" cy="367.2" r="1.7"/><circle cx="326.2" cy="363.1" r="1.7"/><circle cx="313.0" cy="361.6" r="1.7"/><circle cx="321.8" cy="364.1" r="1.7"/><circle cx="328.6" cy="361.9" r="1.7"/><circle cx="328.7" cy="359.2" r="1.7"/><circle cx="308.2" cy="369.7" r="1.7"/><circle cx="317.9" cy="362.4" r="1.7"/><circle cx="320.0" cy="360.9" r="1.7"/><circle cx="318.3" cy="360.7" r="1.7"/><circle cx="322.9" cy="362.2" r="1.7"/><circle cx="321.4" cy="364.3" r="1.7"/><circle cx="324.6" cy="358.5" r="1.7"/><circle cx="323.0" cy="363.2" r="1.7"/><circle cx="312.3" cy="365.3" r="1.7"/><circle cx="326.3" cy="364.7" r="1.7"/><circle cx="338.0" cy="360.0" r="1.7"/><circle cx="324.2" cy="369.5" r="1.7"/><circle cx="316.5" cy="362.8" r="1.7"/><circle cx="317.8" cy="363.2" r="1.7"/><circle cx="321.8" cy="364.6" r="1.7"/><circle cx="315.0" cy="362.1" r="1.7"/><circle cx="320.7" cy="360.7" r="1.7"/><circle cx="315.4" cy="366.5" r="1.7"/><circle cx="320.5" cy="361.5" r="1.7"/><circle cx="309.6" cy="363.7" r="1.7"/><circle cx="310.1" cy="368.2" r="1.7"/><circle cx="328.1" cy="363.8" r="1.7"/><circle cx="324.2" cy="362.2" r="1.7"/><circle cx="323.3" cy="364.1" r="1.7"/><circle cx="322.0" cy="362.7" r="1.7"/><circle cx="313.3" cy="366.8" r="1.7"/><circle cx="324.4" cy="360.3" r="1.7"/><circle cx="320.0" cy="364.5" r="1.7"/><circle cx="324.9" cy="358.5" r="1.7"/><circle cx="309.6" cy="362.5" r="1.7"/><circle cx="311.1" cy="363.1" r="1.7"/><circle cx="328.2" cy="359.5" r="1.7"/><circle cx="339.5" cy="361.5" r="1.7"/><circle cx="327.5" cy="362.9" r="1.7"/><circle cx="329.1" cy="363.9" r="1.7"/><circle cx="328.8" cy="364.6" r="1.7"/><circle cx="327.1" cy="364.3" r="1.7"/><circle cx="330.8" cy="362.5" r="1.7"/><circle cx="318.6" cy="369.6" r="1.7"/><circle cx="318.2" cy="366.1" r="1.7"/><circle cx="338.7" cy="358.9" r="1.7"/><circle cx="319.3" cy="362.7" r="1.7"/><circle cx="314.7" cy="367.6" r="1.7"/><circle cx="320.3" cy="364.9" r="1.7"/><circle cx="308.2" cy="368.4" r="1.7"/><circle cx="314.9" cy="359.8" r="1.7"/><circle cx="315.1" cy="360.7" r="1.7"/><circle cx="333.9" cy="356.7" r="1.7"/><circle cx="323.6" cy="360.7" r="1.7"/><circle cx="314.5" cy="361.8" r="1.7"/><circle cx="331.1" cy="359.0" r="1.7"/><circle cx="316.8" cy="365.9" r="1.7"/><circle cx="319.3" cy="366.8" r="1.7"/><circle cx="314.9" cy="360.7" r="1.7"/><circle cx="326.3" cy="366.9" r="1.7"/><circle cx="325.7" cy="360.9" r="1.7"/><circle cx="331.9" cy="364.6" r="1.7"/><circle cx="319.1" cy="366.1" r="1.7"/><circle cx="321.7" cy="364.6" r="1.7"/><circle cx="327.7" cy="365.7" r="1.7"/><circle cx="322.6" cy="364.2" r="1.7"/><circle cx="325.2" cy="361.1" r="1.7"/><circle cx="324.8" cy="363.0" r="1.7"/><circle cx="322.5" cy="364.4" r="1.7"/><circle cx="332.9" cy="363.5" r="1.7"/><circle cx="321.6" cy="360.7" r="1.7"/><circle cx="324.3" cy="360.5" r="1.7"/><circle cx="331.6" cy="360.2" r="1.7"/><circle cx="316.7" cy="364.8" r="1.7"/><circle cx="314.0" cy="367.3" r="1.7"/><circle cx="324.2" cy="361.7" r="1.7"/><circle cx="318.6" cy="370.3" r="1.7"/><circle cx="331.7" cy="363.9" r="1.7"/><circle cx="325.1" cy="368.0" r="1.7"/><circle cx="318.6" cy="364.1" r="1.7"/><circle cx="320.2" cy="361.4" r="1.7"/><circle cx="315.8" cy="370.9" r="1.7"/><circle cx="322.7" cy="361.4" r="1.7"/><circle cx="319.7" cy="363.2" r="1.7"/><circle cx="318.3" cy="364.7" r="1.7"/><circle cx="308.9" cy="361.4" r="1.7"/><circle cx="320.1" cy="363.9" r="1.7"/><circle cx="312.3" cy="365.8" r="1.7"/><circle cx="317.4" cy="365.7" r="1.7"/><circle cx="320.9" cy="367.7" r="1.7"/><circle cx="333.7" cy="363.8" r="1.7"/><circle cx="322.6" cy="366.6" r="1.7"/><circle cx="328.2" cy="364.3" r="1.7"/><circle cx="328.0" cy="361.9" r="1.7"/><circle cx="328.6" cy="364.5" r="1.7"/><circle cx="325.2" cy="363.1" r="1.7"/><circle cx="319.0" cy="366.5" r="1.7"/><circle cx="317.3" cy="361.9" r="1.7"/><circle cx="336.3" cy="364.9" r="1.7"/><circle cx="316.6" cy="369.4" r="1.7"/><circle cx="305.8" cy="369.2" r="1.7"/><circle cx="327.7" cy="363.8" r="1.7"/><circle cx="320.8" cy="366.8" r="1.7"/><circle cx="325.6" cy="360.1" r="1.7"/><circle cx="316.7" cy="368.3" r="1.7"/><circle cx="327.4" cy="359.7" r="1.7"/><circle cx="310.3" cy="367.9" r="1.7"/><circle cx="315.0" cy="363.5" r="1.7"/><circle cx="318.0" cy="365.7" r="1.7"/><circle cx="306.2" cy="369.7" r="1.7"/><circle cx="319.6" cy="367.4" r="1.7"/><circle cx="312.4" cy="363.6" r="1.7"/><circle cx="326.6" cy="366.2" r="1.7"/><circle cx="321.4" cy="363.4" r="1.7"/><circle cx="333.5" cy="365.1" r="1.7"/><circle cx="324.4" cy="363.0" r="1.7"/><circle cx="332.6" cy="364.2" r="1.7"/><circle cx="320.1" cy="369.0" r="1.7"/><circle cx="331.1" cy="363.1" r="1.7"/><circle cx="326.3" cy="365.7" r="1.7"/><circle cx="317.7" cy="361.5" r="1.7"/><circle cx="330.8" cy="357.7" r="1.7"/><circle cx="309.1" cy="362.6" r="1.7"/><circle cx="326.7" cy="366.4" r="1.7"/><circle cx="317.6" cy="369.0" r="1.7"/><circle cx="336.1" cy="365.5" r="1.7"/><circle cx="312.5" cy="370.0" r="1.7"/><circle cx="309.7" cy="370.5" r="1.7"/><circle cx="326.3" cy="363.3" r="1.7"/><circle cx="320.7" cy="359.4" r="1.7"/><circle cx="315.4" cy="366.1" r="1.7"/><circle cx="326.4" cy="366.1" r="1.7"/><circle cx="329.4" cy="361.4" r="1.7"/><circle cx="322.3" cy="368.4" r="1.7"/><circle cx="311.4" cy="367.9" r="1.7"/><circle cx="315.3" cy="366.2" r="1.7"/><circle cx="337.4" cy="362.4" r="1.7"/><circle cx="318.1" cy="363.0" r="1.7"/><circle cx="310.7" cy="366.4" r="1.7"/><circle cx="303.6" cy="367.7" r="1.7"/><circle cx="322.7" cy="361.4" r="1.7"/><circle cx="316.4" cy="368.9" r="1.7"/><circle cx="331.6" cy="363.3" r="1.7"/><circle cx="321.1" cy="368.1" r="1.7"/><circle cx="327.8" cy="363.6" r="1.7"/><circle cx="336.7" cy="360.8" r="1.7"/><circle cx="324.2" cy="367.1" r="1.7"/><circle cx="326.2" cy="363.6" r="1.7"/><circle cx="319.9" cy="366.8" r="1.7"/><circle cx="325.7" cy="364.0" r="1.7"/><circle cx="335.7" cy="361.3" r="1.7"/><circle cx="335.4" cy="358.6" r="1.7"/><circle cx="322.7" cy="361.7" r="1.7"/><circle cx="325.5" cy="365.6" r="1.7"/><circle cx="326.8" cy="364.0" r="1.7"/><circle cx="319.3" cy="361.1" r="1.7"/><circle cx="329.1" cy="362.9" r="1.7"/><circle cx="330.6" cy="357.5" r="1.7"/><circle cx="319.1" cy="359.7" r="1.7"/><circle cx="330.6" cy="360.3" r="1.7"/><circle cx="314.2" cy="368.4" r="1.7"/><circle cx="321.6" cy="365.1" r="1.7"/><circle cx="321.9" cy="367.6" r="1.7"/><circle cx="324.6" cy="364.5" r="1.7"/><circle cx="322.6" cy="367.0" r="1.7"/><circle cx="331.1" cy="361.4" r="1.7"/><circle cx="328.3" cy="358.5" r="1.7"/><circle cx="315.3" cy="364.0" r="1.7"/><circle cx="316.4" cy="367.0" r="1.7"/><circle cx="309.9" cy="362.0" r="1.7"/><circle cx="323.2" cy="361.4" r="1.7"/><circle cx="322.6" cy="364.4" r="1.7"/><circle cx="316.4" cy="364.1" r="1.7"/><circle cx="329.1" cy="362.8" r="1.7"/><circle cx="323.0" cy="366.0" r="1.7"/><circle cx="315.4" cy="361.9" r="1.7"/><circle cx="320.1" cy="369.5" r="1.7"/><circle cx="330.7" cy="365.2" r="1.7"/><circle cx="317.1" cy="360.3" r="1.7"/><circle cx="304.9" cy="368.1" r="1.7"/><circle cx="312.3" cy="362.7" r="1.7"/><circle cx="326.8" cy="364.1" r="1.7"/><circle cx="311.6" cy="367.1" r="1.7"/><circle cx="333.9" cy="364.7" r="1.7"/><circle cx="316.9" cy="368.1" r="1.7"/><circle cx="305.7" cy="366.6" r="1.7"/><circle cx="319.1" cy="368.5" r="1.7"/><circle cx="311.6" cy="363.5" r="1.7"/><circle cx="319.7" cy="366.9" r="1.7"/><circle cx="310.7" cy="367.2" r="1.7"/><circle cx="318.8" cy="363.5" r="1.7"/><circle cx="311.9" cy="367.5" r="1.7"/><circle cx="323.5" cy="365.2" r="1.7"/><circle cx="323.4" cy="363.6" r="1.7"/><circle cx="314.8" cy="365.6" r="1.7"/><circle cx="328.5" cy="363.3" r="1.7"/><circle cx="326.9" cy="365.8" r="1.7"/><circle cx="324.6" cy="363.0" r="1.7"/><circle cx="314.8" cy="369.4" r="1.7"/><circle cx="320.5" cy="364.0" r="1.7"/><circle cx="323.3" cy="366.4" r="1.7"/><circle cx="328.7" cy="360.8" r="1.7"/><circle cx="322.1" cy="367.7" r="1.7"/><circle cx="317.1" cy="365.3" r="1.7"/><circle cx="314.3" cy="361.4" r="1.7"/><circle cx="311.6" cy="366.8" r="1.7"/><circle cx="319.8" cy="364.0" r="1.7"/><circle cx="309.4" cy="366.5" r="1.7"/><circle cx="316.4" cy="369.4" r="1.7"/><circle cx="314.6" cy="368.8" r="1.7"/><circle cx="311.8" cy="363.2" r="1.7"/><circle cx="333.3" cy="359.7" r="1.7"/><circle cx="317.6" cy="360.3" r="1.7"/><circle cx="324.1" cy="368.0" r="1.7"/><circle cx="319.5" cy="363.9" r="1.7"/><circle cx="321.6" cy="362.0" r="1.7"/><circle cx="311.6" cy="366.4" r="1.7"/><circle cx="318.4" cy="359.7" r="1.7"/><circle cx="311.9" cy="367.6" r="1.7"/><circle cx="329.3" cy="362.5" r="1.7"/><circle cx="335.0" cy="364.3" r="1.7"/><circle cx="315.2" cy="362.4" r="1.7"/><circle cx="328.3" cy="365.7" r="1.7"/><circle cx="311.4" cy="363.1" r="1.7"/><circle cx="336.3" cy="359.8" r="1.7"/><circle cx="323.1" cy="362.9" r="1.7"/><circle cx="305.7" cy="370.5" r="1.7"/><circle cx="334.9" cy="359.8" r="1.7"/><circle cx="315.5" cy="370.1" r="1.7"/><circle cx="309.4" cy="365.8" r="1.7"/><circle cx="309.9" cy="361.8" r="1.7"/><circle cx="312.0" cy="366.3" r="1.7"/><circle cx="315.3" cy="362.2" r="1.7"/><circle cx="318.3" cy="368.2" r="1.7"/><circle cx="327.3" cy="363.6" r="1.7"/><circle cx="327.8" cy="361.9" r="1.7"/><circle cx="318.3" cy="370.3" r="1.7"/><circle cx="323.4" cy="368.5" r="1.7"/><circle cx="304.9" cy="364.8" r="1.7"/><circle cx="314.5" cy="366.1" r="1.7"/><circle cx="322.0" cy="367.1" r="1.7"/><circle cx="326.1" cy="363.3" r="1.7"/><circle cx="326.7" cy="365.4" r="1.7"/><circle cx="318.3" cy="366.8" r="1.7"/><circle cx="319.5" cy="368.9" r="1.7"/><circle cx="317.7" cy="365.2" r="1.7"/><circle cx="315.2" cy="365.2" r="1.7"/><circle cx="331.9" cy="366.5" r="1.7"/><circle cx="329.4" cy="364.7" r="1.7"/><circle cx="322.2" cy="360.3" r="1.7"/><circle cx="326.7" cy="361.3" r="1.7"/><circle cx="324.2" cy="363.4" r="1.7"/><circle cx="328.5" cy="360.9" r="1.7"/><circle cx="328.4" cy="362.9" r="1.7"/><circle cx="335.2" cy="361.2" r="1.7"/><circle cx="319.5" cy="359.0" r="1.7"/><circle cx="329.1" cy="362.8" r="1.7"/><circle cx="304.0" cy="369.2" r="1.7"/><circle cx="325.7" cy="362.4" r="1.7"/><circle cx="332.5" cy="361.7" r="1.7"/><circle cx="320.9" cy="365.6" r="1.7"/><circle cx="313.0" cy="367.6" r="1.7"/><circle cx="315.0" cy="366.3" r="1.7"/><circle cx="330.7" cy="361.3" r="1.7"/><circle cx="317.6" cy="370.1" r="1.7"/><circle cx="322.8" cy="367.3" r="1.7"/><circle cx="327.1" cy="364.5" r="1.7"/><circle cx="333.6" cy="361.7" r="1.7"/><circle cx="309.2" cy="366.0" r="1.7"/><circle cx="316.4" cy="361.9" r="1.7"/><circle cx="318.9" cy="366.1" r="1.7"/><circle cx="326.1" cy="363.6" r="1.7"/><circle cx="320.9" cy="364.6" r="1.7"/><circle cx="317.9" cy="362.5" r="1.7"/><circle cx="323.1" cy="366.6" r="1.7"/><circle cx="316.1" cy="365.4" r="1.7"/><circle cx="327.1" cy="360.3" r="1.7"/><circle cx="325.2" cy="364.1" r="1.7"/><circle cx="329.9" cy="360.0" r="1.7"/><circle cx="319.3" cy="369.4" r="1.7"/><circle cx="339.2" cy="362.6" r="1.7"/><circle cx="333.0" cy="360.2" r="1.7"/><circle cx="330.5" cy="363.5" r="1.7"/><circle cx="327.1" cy="359.6" r="1.7"/><circle cx="323.9" cy="366.0" r="1.7"/><circle cx="331.6" cy="363.7" r="1.7"/><circle cx="326.3" cy="366.4" r="1.7"/><circle cx="335.5" cy="357.4" r="1.7"/><circle cx="307.1" cy="367.4" r="1.7"/><circle cx="336.6" cy="366.9" r="1.7"/><circle cx="327.8" cy="360.3" r="1.7"/><circle cx="326.9" cy="361.5" r="1.7"/><circle cx="329.2" cy="362.4" r="1.7"/><circle cx="335.7" cy="358.7" r="1.7"/><circle cx="334.0" cy="359.8" r="1.7"/><circle cx="328.2" cy="364.0" r="1.7"/><circle cx="310.4" cy="360.8" r="1.7"/><circle cx="320.7" cy="363.6" r="1.7"/><circle cx="317.8" cy="367.3" r="1.7"/><circle cx="325.1" cy="365.5" r="1.7"/><circle cx="313.7" cy="365.5" r="1.7"/><circle cx="321.5" cy="367.4" r="1.7"/><circle cx="332.4" cy="360.7" r="1.7"/><circle cx="339.2" cy="362.0" r="1.7"/><circle cx="326.7" cy="364.4" r="1.7"/><circle cx="319.9" cy="359.4" r="1.7"/><circle cx="314.2" cy="363.4" r="1.7"/><circle cx="319.7" cy="361.4" r="1.7"/><circle cx="324.3" cy="365.8" r="1.7"/><circle cx="323.7" cy="364.4" r="1.7"/><circle cx="317.3" cy="367.7" r="1.7"/><circle cx="320.2" cy="369.8" r="1.7"/><circle cx="316.7" cy="365.3" r="1.7"/><circle cx="335.5" cy="356.7" r="1.7"/><circle cx="331.0" cy="363.3" r="1.7"/><circle cx="324.9" cy="367.9" r="1.7"/><circle cx="317.8" cy="367.0" r="1.7"/><circle cx="318.9" cy="368.8" r="1.7"/><circle cx="312.1" cy="366.1" r="1.7"/><circle cx="317.2" cy="361.9" r="1.7"/><circle cx="330.2" cy="361.4" r="1.7"/><circle cx="313.2" cy="363.1" r="1.7"/><circle cx="324.2" cy="359.0" r="1.7"/><circle cx="325.5" cy="366.5" r="1.7"/><circle cx="322.9" cy="364.5" r="1.7"/><circle cx="318.5" cy="362.3" r="1.7"/><circle cx="321.9" cy="364.9" r="1.7"/><circle cx="334.5" cy="362.3" r="1.7"/><circle cx="316.7" cy="367.8" r="1.7"/><circle cx="319.7" cy="362.5" r="1.7"/><circle cx="327.2" cy="363.0" r="1.7"/><circle cx="310.8" cy="364.2" r="1.7"/><circle cx="311.0" cy="363.2" r="1.7"/><circle cx="333.0" cy="366.4" r="1.7"/><circle cx="319.9" cy="368.8" r="1.7"/><circle cx="320.7" cy="361.7" r="1.7"/><circle cx="321.7" cy="367.0" r="1.7"/><circle cx="334.0" cy="361.1" r="1.7"/><circle cx="311.3" cy="367.0" r="1.7"/><circle cx="317.8" cy="363.0" r="1.7"/><circle cx="325.6" cy="364.1" r="1.7"/><circle cx="311.5" cy="364.2" r="1.7"/><circle cx="333.4" cy="361.3" r="1.7"/><circle cx="313.0" cy="366.0" r="1.7"/><circle cx="313.9" cy="366.3" r="1.7"/><circle cx="321.8" cy="360.1" r="1.7"/><circle cx="338.1" cy="366.3" r="1.7"/><circle cx="307.8" cy="366.1" r="1.7"/><circle cx="310.8" cy="365.2" r="1.7"/><circle cx="318.0" cy="364.2" r="1.7"/><circle cx="331.9" cy="365.9" r="1.7"/><circle cx="319.5" cy="366.0" r="1.7"/><circle cx="326.6" cy="358.5" r="1.7"/><circle cx="322.0" cy="361.1" r="1.7"/><circle cx="332.3" cy="366.0" r="1.7"/><circle cx="325.4" cy="368.0" r="1.7"/><circle cx="319.2" cy="362.4" r="1.7"/><circle cx="333.2" cy="362.0" r="1.7"/><circle cx="323.9" cy="359.8" r="1.7"/><circle cx="327.9" cy="362.8" r="1.7"/><circle cx="320.2" cy="361.2" r="1.7"/><circle cx="315.3" cy="364.2" r="1.7"/><circle cx="323.9" cy="367.7" r="1.7"/><circle cx="306.6" cy="363.0" r="1.7"/><circle cx="313.5" cy="363.6" r="1.7"/><circle cx="314.2" cy="362.2" r="1.7"/><circle cx="316.5" cy="366.6" r="1.7"/><circle cx="317.9" cy="362.2" r="1.7"/><circle cx="327.0" cy="363.6" r="1.7"/><circle cx="314.4" cy="369.3" r="1.7"/><circle cx="315.8" cy="362.4" r="1.7"/><circle cx="324.4" cy="361.1" r="1.7"/><circle cx="314.3" cy="369.9" r="1.7"/><circle cx="317.5" cy="362.1" r="1.7"/><circle cx="323.3" cy="363.4" r="1.7"/><circle cx="305.3" cy="366.1" r="1.7"/><circle cx="325.6" cy="362.0" r="1.7"/><circle cx="324.9" cy="360.0" r="1.7"/><circle cx="328.6" cy="361.7" r="1.7"/><circle cx="314.9" cy="361.7" r="1.7"/><circle cx="329.5" cy="362.5" r="1.7"/><circle cx="318.7" cy="365.8" r="1.7"/><circle cx="320.3" cy="363.4" r="1.7"/><circle cx="324.4" cy="362.3" r="1.7"/><circle cx="307.7" cy="367.1" r="1.7"/><circle cx="318.7" cy="366.7" r="1.7"/><circle cx="330.7" cy="359.3" r="1.7"/><circle cx="321.5" cy="369.3" r="1.7"/><circle cx="330.8" cy="360.1" r="1.7"/><circle cx="324.8" cy="367.8" r="1.7"/><circle cx="332.5" cy="360.9" r="1.7"/><circle cx="325.6" cy="365.1" r="1.7"/><circle cx="319.9" cy="363.9" r="1.7"/><circle cx="330.1" cy="362.6" r="1.7"/><circle cx="322.1" cy="367.8" r="1.7"/><circle cx="331.9" cy="363.9" r="1.7"/><circle cx="318.1" cy="362.5" r="1.7"/><circle cx="312.5" cy="364.2" r="1.7"/><circle cx="323.8" cy="359.8" r="1.7"/><circle cx="314.2" cy="362.7" r="1.7"/><circle cx="323.3" cy="362.6" r="1.7"/><circle cx="335.4" cy="365.6" r="1.7"/><circle cx="322.3" cy="363.7" r="1.7"/><circle cx="330.5" cy="359.8" r="1.7"/><circle cx="329.3" cy="358.9" r="1.7"/><circle cx="319.1" cy="365.8" r="1.7"/><circle cx="322.2" cy="359.3" r="1.7"/><circle cx="315.3" cy="365.9" r="1.7"/><circle cx="309.9" cy="372.1" r="1.7"/><circle cx="316.3" cy="365.8" r="1.7"/><circle cx="324.7" cy="365.5" r="1.7"/><circle cx="320.2" cy="361.5" r="1.7"/><circle cx="309.3" cy="367.5" r="1.7"/><circle cx="321.0" cy="368.5" r="1.7"/><circle cx="324.0" cy="365.9" r="1.7"/><circle cx="313.1" cy="365.0" r="1.7"/><circle cx="325.4" cy="362.4" r="1.7"/><circle cx="327.3" cy="361.9" r="1.7"/><circle cx="319.9" cy="365.8" r="1.7"/><circle cx="312.3" cy="370.6" r="1.7"/><circle cx="334.6" cy="360.9" r="1.7"/><circle cx="326.1" cy="366.4" r="1.7"/><circle cx="325.5" cy="365.5" r="1.7"/><circle cx="319.6" cy="366.3" r="1.7"/><circle cx="316.8" cy="361.8" r="1.7"/><circle cx="320.7" cy="366.7" r="1.7"/><circle cx="324.7" cy="364.8" r="1.7"/><circle cx="318.9" cy="365.2" r="1.7"/><circle cx="315.4" cy="365.1" r="1.7"/><circle cx="322.3" cy="361.7" r="1.7"/><circle cx="333.3" cy="356.0" r="1.7"/><circle cx="327.2" cy="362.2" r="1.7"/><circle cx="330.2" cy="361.0" r="1.7"/><circle cx="328.5" cy="360.6" r="1.7"/><circle cx="315.4" cy="364.9" r="1.7"/><circle cx="321.7" cy="361.3" r="1.7"/><circle cx="331.1" cy="359.1" r="1.7"/><circle cx="320.0" cy="364.9" r="1.7"/><circle cx="321.5" cy="367.5" r="1.7"/><circle cx="314.8" cy="368.6" r="1.7"/><circle cx="331.4" cy="362.4" r="1.7"/><circle cx="337.3" cy="356.3" r="1.7"/><circle cx="316.2" cy="360.9" r="1.7"/><circle cx="323.6" cy="360.5" r="1.7"/><circle cx="310.8" cy="365.1" r="1.7"/><circle cx="318.3" cy="369.2" r="1.7"/><circle cx="324.2" cy="363.4" r="1.7"/><circle cx="329.0" cy="364.0" r="1.7"/><circle cx="326.2" cy="359.8" r="1.7"/><circle cx="322.0" cy="365.6" r="1.7"/><circle cx="322.2" cy="365.7" r="1.7"/><circle cx="331.3" cy="366.3" r="1.7"/><circle cx="324.0" cy="365.5" r="1.7"/><circle cx="318.4" cy="363.8" r="1.7"/><circle cx="327.3" cy="359.2" r="1.7"/><circle cx="331.0" cy="358.9" r="1.7"/><circle cx="320.6" cy="362.0" r="1.7"/><circle cx="314.8" cy="367.0" r="1.7"/><circle cx="308.2" cy="371.2" r="1.7"/><circle cx="308.3" cy="369.1" r="1.7"/><circle cx="319.3" cy="363.8" r="1.7"/><circle cx="325.4" cy="367.4" r="1.7"/><circle cx="323.0" cy="361.8" r="1.7"/><circle cx="322.5" cy="367.1" r="1.7"/><circle cx="313.5" cy="366.7" r="1.7"/><circle cx="331.8" cy="360.3" r="1.7"/><circle cx="321.0" cy="367.2" r="1.7"/><circle cx="316.8" cy="365.1" r="1.7"/><circle cx="319.6" cy="365.4" r="1.7"/><circle cx="311.4" cy="361.1" r="1.7"/><circle cx="330.6" cy="360.0" r="1.7"/><circle cx="314.3" cy="368.3" r="1.7"/><circle cx="316.8" cy="364.5" r="1.7"/><circle cx="312.1" cy="365.2" r="1.7"/><circle cx="325.5" cy="366.6" r="1.7"/><circle cx="327.4" cy="359.3" r="1.7"/><circle cx="319.3" cy="366.7" r="1.7"/><circle cx="314.0" cy="362.9" r="1.7"/><circle cx="319.7" cy="368.0" r="1.7"/><circle cx="312.4" cy="368.5" r="1.7"/><circle cx="327.4" cy="361.0" r="1.7"/><circle cx="311.1" cy="365.4" r="1.7"/><circle cx="318.3" cy="362.9" r="1.7"/><circle cx="330.4" cy="366.2" r="1.7"/><circle cx="321.9" cy="367.8" r="1.7"/><circle cx="316.0" cy="366.0" r="1.7"/><circle cx="326.5" cy="363.7" r="1.7"/><circle cx="320.7" cy="361.4" r="1.7"/><circle cx="327.8" cy="368.1" r="1.7"/><circle cx="327.6" cy="362.8" r="1.7"/><circle cx="319.0" cy="361.7" r="1.7"/><circle cx="333.3" cy="361.8" r="1.7"/><circle cx="331.2" cy="359.5" r="1.7"/><circle cx="328.5" cy="365.3" r="1.7"/><circle cx="320.2" cy="362.8" r="1.7"/><circle cx="332.4" cy="360.0" r="1.7"/><circle cx="334.3" cy="363.6" r="1.7"/><circle cx="336.5" cy="360.9" r="1.7"/><circle cx="319.3" cy="361.4" r="1.7"/><circle cx="307.8" cy="361.8" r="1.7"/><circle cx="318.5" cy="364.9" r="1.7"/><circle cx="324.5" cy="364.8" r="1.7"/><circle cx="317.6" cy="362.0" r="1.7"/><circle cx="316.0" cy="365.9" r="1.7"/><circle cx="322.1" cy="358.7" r="1.7"/><circle cx="319.9" cy="361.3" r="1.7"/><circle cx="313.4" cy="366.1" r="1.7"/><circle cx="314.6" cy="366.2" r="1.7"/><circle cx="323.0" cy="362.4" r="1.7"/><circle cx="313.4" cy="360.8" r="1.7"/><circle cx="312.9" cy="371.4" r="1.7"/><circle cx="324.8" cy="363.2" r="1.7"/><circle cx="315.6" cy="363.3" r="1.7"/><circle cx="311.6" cy="367.1" r="1.7"/><circle cx="328.8" cy="359.4" r="1.7"/><circle cx="326.5" cy="361.7" r="1.7"/><circle cx="323.7" cy="360.8" r="1.7"/><circle cx="329.1" cy="367.8" r="1.7"/><circle cx="316.3" cy="364.3" r="1.7"/><circle cx="329.2" cy="360.5" r="1.7"/><circle cx="317.6" cy="368.5" r="1.7"/><circle cx="315.1" cy="364.8" r="1.7"/><circle cx="319.3" cy="362.4" r="1.7"/><circle cx="316.4" cy="361.4" r="1.7"/><circle cx="314.0" cy="369.2" r="1.7"/><circle cx="312.1" cy="369.9" r="1.7"/><circle cx="310.6" cy="370.2" r="1.7"/><circle cx="320.7" cy="366.2" r="1.7"/><circle cx="320.0" cy="366.0" r="1.7"/><circle cx="316.7" cy="366.4" r="1.7"/><circle cx="333.3" cy="357.8" r="1.7"/><circle cx="322.6" cy="366.7" r="1.7"/><circle cx="317.4" cy="365.1" r="1.7"/><circle cx="324.5" cy="366.7" r="1.7"/><circle cx="325.5" cy="364.6" r="1.7"/><circle cx="315.9" cy="363.8" r="1.7"/><circle cx="339.7" cy="356.6" r="1.7"/><circle cx="318.2" cy="362.7" r="1.7"/><circle cx="321.8" cy="361.4" r="1.7"/><circle cx="327.5" cy="360.7" r="1.7"/><circle cx="315.9" cy="360.5" r="1.7"/><circle cx="316.8" cy="360.2" r="1.7"/><circle cx="319.5" cy="366.2" r="1.7"/><circle cx="308.5" cy="372.6" r="1.7"/><circle cx="328.7" cy="363.4" r="1.7"/><circle cx="319.1" cy="367.8" r="1.7"/><circle cx="325.2" cy="362.1" r="1.7"/><circle cx="323.2" cy="364.3" r="1.7"/><circle cx="315.4" cy="369.7" r="1.7"/><circle cx="310.5" cy="367.8" r="1.7"/><circle cx="313.8" cy="365.6" r="1.7"/><circle cx="319.9" cy="365.1" r="1.7"/><circle cx="334.7" cy="360.1" r="1.7"/><circle cx="326.8" cy="364.4" r="1.7"/><circle cx="323.3" cy="360.3" r="1.7"/><circle cx="320.8" cy="359.2" r="1.7"/><circle cx="332.4" cy="366.7" r="1.7"/><circle cx="323.6" cy="365.5" r="1.7"/><circle cx="320.5" cy="358.7" r="1.7"/><circle cx="319.7" cy="367.5" r="1.7"/><circle cx="320.7" cy="361.8" r="1.7"/><circle cx="336.8" cy="366.6" r="1.7"/><circle cx="322.4" cy="366.1" r="1.7"/><circle cx="317.2" cy="365.8" r="1.7"/><circle cx="331.3" cy="360.5" r="1.7"/><circle cx="326.7" cy="360.2" r="1.7"/><circle cx="326.4" cy="364.8" r="1.7"/><circle cx="328.2" cy="359.7" r="1.7"/><circle cx="322.6" cy="359.8" r="1.7"/><circle cx="321.2" cy="360.5" r="1.7"/><circle cx="323.8" cy="366.5" r="1.7"/><circle cx="330.7" cy="360.7" r="1.7"/><circle cx="333.9" cy="362.7" r="1.7"/><circle cx="349.1" cy="345.4" r="1.7"/><circle cx="333.6" cy="352.1" r="1.7"/><circle cx="336.4" cy="348.9" r="1.7"/><circle cx="333.5" cy="339.2" r="1.7"/><circle cx="342.9" cy="341.6" r="1.7"/><circle cx="338.4" cy="345.6" r="1.7"/><circle cx="325.8" cy="353.0" r="1.7"/><circle cx="328.0" cy="355.3" r="1.7"/><circle cx="345.6" cy="353.9" r="1.7"/><circle cx="340.7" cy="339.9" r="1.7"/><circle cx="331.6" cy="356.5" r="1.7"/><circle cx="325.1" cy="351.2" r="1.7"/><circle cx="338.0" cy="352.9" r="1.7"/><circle cx="335.8" cy="355.3" r="1.7"/><circle cx="336.9" cy="344.0" r="1.7"/><circle cx="339.8" cy="349.2" r="1.7"/><circle cx="335.3" cy="356.7" r="1.7"/><circle cx="328.0" cy="353.6" r="1.7"/><circle cx="320.5" cy="356.4" r="1.7"/><circle cx="346.0" cy="344.4" r="1.7"/><circle cx="335.1" cy="347.5" r="1.7"/><circle cx="342.3" cy="346.9" r="1.7"/><circle cx="332.1" cy="353.2" r="1.7"/><circle cx="324.2" cy="348.1" r="1.7"/><circle cx="336.6" cy="353.2" r="1.7"/><circle cx="337.7" cy="354.0" r="1.7"/><circle cx="338.9" cy="349.5" r="1.7"/><circle cx="335.5" cy="356.3" r="1.7"/><circle cx="339.3" cy="353.6" r="1.7"/><circle cx="338.3" cy="355.6" r="1.7"/><circle cx="334.7" cy="353.4" r="1.7"/><circle cx="333.1" cy="354.2" r="1.7"/><circle cx="320.4" cy="354.4" r="1.7"/><circle cx="327.1" cy="355.6" r="1.7"/><circle cx="329.8" cy="355.9" r="1.7"/><circle cx="316.9" cy="345.2" r="1.7"/><circle cx="319.5" cy="348.1" r="1.7"/><circle cx="332.0" cy="355.8" r="1.7"/><circle cx="332.2" cy="351.7" r="1.7"/><circle cx="319.5" cy="353.7" r="1.7"/><circle cx="315.0" cy="355.8" r="1.7"/><circle cx="338.1" cy="340.6" r="1.7"/><circle cx="325.1" cy="353.9" r="1.7"/><circle cx="345.5" cy="352.7" r="1.7"/><circle cx="322.8" cy="355.4" r="1.7"/><circle cx="342.2" cy="352.6" r="1.7"/><circle cx="337.1" cy="333.4" r="1.7"/><circle cx="336.2" cy="354.9" r="1.7"/><circle cx="333.4" cy="353.8" r="1.7"/><circle cx="333.3" cy="349.6" r="1.7"/><circle cx="347.3" cy="343.8" r="1.7"/><circle cx="333.9" cy="344.1" r="1.7"/><circle cx="333.9" cy="355.1" r="1.7"/><circle cx="337.2" cy="354.1" r="1.7"/><circle cx="326.3" cy="354.0" r="1.7"/><circle cx="333.4" cy="356.5" r="1.7"/><circle cx="330.5" cy="334.9" r="1.7"/><circle cx="334.0" cy="353.2" r="1.7"/><circle cx="332.8" cy="348.0" r="1.7"/><circle cx="333.8" cy="352.8" r="1.7"/><circle cx="335.4" cy="354.1" r="1.7"/><circle cx="337.5" cy="352.0" r="1.7"/><circle cx="338.0" cy="353.0" r="1.7"/><circle cx="336.6" cy="354.9" r="1.7"/><circle cx="333.4" cy="351.7" r="1.7"/><circle cx="316.1" cy="356.3" r="1.7"/><circle cx="332.9" cy="346.1" r="1.7"/><circle cx="340.6" cy="339.4" r="1.7"/><circle cx="325.8" cy="355.8" r="1.7"/><circle cx="323.7" cy="349.0" r="1.7"/><circle cx="325.6" cy="354.7" r="1.7"/><circle cx="323.6" cy="344.9" r="1.7"/><circle cx="326.2" cy="355.2" r="1.7"/><circle cx="335.7" cy="346.9" r="1.7"/><circle cx="318.3" cy="353.7" r="1.7"/><circle cx="334.4" cy="350.5" r="1.7"/><circle cx="334.1" cy="344.5" r="1.7"/><circle cx="356.1" cy="361.0" r="1.7"/><circle cx="360.7" cy="364.0" r="1.7"/><circle cx="348.9" cy="363.9" r="1.7"/><circle cx="346.2" cy="365.6" r="1.7"/><circle cx="353.6" cy="357.6" r="1.7"/><circle cx="352.2" cy="364.1" r="1.7"/><circle cx="353.3" cy="362.2" r="1.7"/><circle cx="346.7" cy="364.8" r="1.7"/><circle cx="341.9" cy="355.6" r="1.7"/><circle cx="342.9" cy="360.5" r="1.7"/><circle cx="346.7" cy="364.5" r="1.7"/><circle cx="355.6" cy="364.5" r="1.7"/><circle cx="345.4" cy="359.8" r="1.7"/><circle cx="363.9" cy="363.0" r="1.7"/><circle cx="345.5" cy="364.0" r="1.7"/><circle cx="347.3" cy="358.2" r="1.7"/><circle cx="356.3" cy="366.4" r="1.7"/><circle cx="358.4" cy="360.2" r="1.7"/><circle cx="347.1" cy="359.3" r="1.7"/><circle cx="344.2" cy="366.0" r="1.7"/><circle cx="353.8" cy="358.9" r="1.7"/><circle cx="349.8" cy="363.6" r="1.7"/><circle cx="350.6" cy="365.1" r="1.7"/><circle cx="352.1" cy="357.2" r="1.7"/><circle cx="350.9" cy="359.8" r="1.7"/><circle cx="348.1" cy="356.1" r="1.7"/><circle cx="344.1" cy="358.7" r="1.7"/><circle cx="362.7" cy="363.1" r="1.7"/><circle cx="350.7" cy="356.0" r="1.7"/><circle cx="375.0" cy="357.7" r="1.7"/><circle cx="382.9" cy="360.7" r="1.7"/><circle cx="377.0" cy="364.1" r="1.7"/><circle cx="368.4" cy="362.2" r="1.7"/><circle cx="377.1" cy="363.9" r="1.7"/><circle cx="382.6" cy="360.9" r="1.7"/><circle cx="364.7" cy="357.2" r="1.7"/><circle cx="351.0" cy="362.2" r="1.7"/><circle cx="343.5" cy="367.2" r="1.7"/><circle cx="337.3" cy="309.9" r="1.7"/><circle cx="337.8" cy="328.6" r="1.7"/><circle cx="332.3" cy="336.1" r="1.7"/><circle cx="336.1" cy="343.5" r="1.7"/></g>
<g fill="#e4e4e4" stroke="#777" stroke-width="0.5"><circle cx="411.6" cy="209.0" r="1.6"/><circle cx="396.9" cy="218.4" r="1.6"/><circle cx="404.9" cy="254.0" r="1.6"/><circle cx="376.7" cy="266.0" r="1.6"/><circle cx="378.7" cy="274.2" r="1.6"/><circle cx="373.0" cy="279.2" r="1.6"/><circle cx="401.1" cy="271.7" r="1.6"/><circle cx="406.6" cy="273.2" r="1.6"/><circle cx="396.9" cy="279.7" r="1.6"/><circle cx="406.6" cy="281.7" r="1.6"/><circle cx="442.6" cy="272.7" r="1.6"/><circle cx="444.4" cy="272.7" r="1.6"/><circle cx="419.3" cy="290.9" r="1.6"/><circle cx="403.6" cy="293.4" r="1.6"/><circle cx="402.4" cy="297.1" r="1.6"/><circle cx="409.8" cy="297.8" r="1.6"/><circle cx="347.6" cy="252.5" r="1.6"/><circle cx="419.3" cy="304.9" r="1.6"/><circle cx="404.1" cy="316.8" r="1.6"/><circle cx="402.4" cy="322.8" r="1.6"/><circle cx="381.7" cy="316.8" r="1.6"/><circle cx="377.0" cy="311.6" r="1.6"/><circle cx="373.7" cy="323.6" r="1.6"/><circle cx="373.0" cy="329.8" r="1.6"/><circle cx="349.2" cy="301.7" r="1.6"/><circle cx="363.9" cy="307.9" r="1.6"/><circle cx="352.2" cy="316.9" r="1.6"/><circle cx="381.6" cy="316.6" r="1.6"/><circle cx="373.4" cy="329.3" r="1.6"/><circle cx="341.8" cy="341.8" r="1.6"/></g>
<g fill="#111"><circle cx="384.9" cy="288.0" r="1.95"/><circle cx="392.4" cy="299.9" r="1.95"/><circle cx="424.3" cy="305.6" r="1.95"/><circle cx="417.8" cy="309.4" r="1.95"/><circle cx="439.0" cy="304.1" r="1.95"/><circle cx="426.0" cy="313.6" r="1.95"/><circle cx="419.0" cy="322.3" r="1.95"/><circle cx="378.0" cy="312.4" r="1.95"/><circle cx="389.2" cy="317.8" r="1.95"/><circle cx="394.9" cy="321.1" r="1.95"/><circle cx="391.2" cy="327.3" r="1.95"/><circle cx="396.9" cy="329.3" r="1.95"/><circle cx="386.9" cy="329.8" r="1.95"/><circle cx="378.7" cy="326.1" r="1.95"/><circle cx="380.0" cy="332.3" r="1.95"/><circle cx="384.9" cy="336.0" r="1.95"/><circle cx="389.9" cy="334.8" r="1.95"/><circle cx="396.1" cy="336.0" r="1.95"/><circle cx="402.4" cy="337.3" r="1.95"/><circle cx="408.8" cy="334.8" r="1.95"/><circle cx="389.9" cy="339.2" r="1.95"/><circle cx="377.5" cy="337.3" r="1.95"/><circle cx="380.0" cy="341.0" r="1.95"/><circle cx="381.2" cy="348.5" r="1.95"/><circle cx="386.2" cy="347.2" r="1.95"/><circle cx="396.1" cy="347.7" r="1.95"/><circle cx="391.2" cy="351.7" r="1.95"/><circle cx="399.4" cy="353.2" r="1.95"/><circle cx="377.0" cy="352.2" r="1.95"/><circle cx="372.5" cy="347.2" r="1.95"/><circle cx="371.2" cy="341.0" r="1.95"/><circle cx="375.0" cy="342.2" r="1.95"/><circle cx="372.5" cy="353.4" r="1.95"/><circle cx="370.0" cy="314.9" r="1.95"/><circle cx="379.0" cy="331.0" r="1.95"/><circle cx="377.0" cy="333.5" r="1.95"/><circle cx="375.5" cy="329.8" r="1.95"/><circle cx="360.9" cy="303.7" r="1.95"/><circle cx="363.4" cy="304.4" r="1.95"/><circle cx="368.4" cy="313.6" r="1.95"/><circle cx="370.2" cy="314.9" r="1.95"/><circle cx="378.4" cy="312.4" r="1.95"/><circle cx="352.2" cy="321.1" r="1.95"/><circle cx="358.5" cy="320.4" r="1.95"/><circle cx="364.7" cy="322.4" r="1.95"/><circle cx="374.6" cy="322.4" r="1.95"/><circle cx="378.4" cy="327.3" r="1.95"/><circle cx="351.0" cy="329.8" r="1.95"/><circle cx="357.2" cy="326.8" r="1.95"/><circle cx="377.1" cy="331.1" r="1.95"/><circle cx="379.6" cy="332.3" r="1.95"/><circle cx="344.3" cy="335.6" r="1.95"/><circle cx="348.5" cy="338.5" r="1.95"/><circle cx="357.2" cy="334.8" r="1.95"/><circle cx="364.7" cy="334.8" r="1.95"/><circle cx="367.2" cy="337.3" r="1.95"/><circle cx="372.2" cy="339.8" r="1.95"/><circle cx="375.9" cy="334.8" r="1.95"/><circle cx="378.4" cy="341.0" r="1.95"/><circle cx="349.7" cy="342.3" r="1.95"/><circle cx="353.5" cy="341.0" r="1.95"/><circle cx="362.2" cy="342.3" r="1.95"/><circle cx="364.7" cy="327.3" r="1.95"/><circle cx="369.7" cy="329.8" r="1.95"/><circle cx="373.4" cy="343.5" r="1.95"/><circle cx="367.2" cy="343.5" r="1.95"/><circle cx="359.7" cy="346.0" r="1.95"/><circle cx="356.0" cy="346.0" r="1.95"/><circle cx="352.2" cy="346.0" r="1.95"/><circle cx="348.5" cy="345.3" r="1.95"/><circle cx="344.5" cy="354.1" r="1.95"/><circle cx="347.5" cy="349.0" r="1.95"/><circle cx="349.7" cy="348.3" r="1.95"/><circle cx="342.7" cy="350.2" r="1.95"/><circle cx="369.5" cy="347.3" r="1.95"/><circle cx="346.3" cy="352.6" r="1.95"/><circle cx="374.2" cy="353.3" r="1.95"/><circle cx="346.6" cy="352.1" r="1.95"/><circle cx="344.0" cy="352.5" r="1.95"/><circle cx="352.3" cy="353.4" r="1.95"/><circle cx="351.8" cy="352.3" r="1.95"/><circle cx="359.4" cy="348.5" r="1.95"/><circle cx="359.3" cy="350.0" r="1.95"/><circle cx="347.2" cy="350.8" r="1.95"/><circle cx="360.7" cy="352.0" r="1.95"/><circle cx="353.8" cy="351.3" r="1.95"/><circle cx="348.7" cy="350.7" r="1.95"/><circle cx="350.2" cy="352.6" r="1.95"/><circle cx="348.4" cy="348.9" r="1.95"/><circle cx="344.1" cy="349.0" r="1.95"/><circle cx="361.1" cy="348.5" r="1.95"/><circle cx="345.9" cy="353.4" r="1.95"/><circle cx="352.7" cy="348.4" r="1.95"/><circle cx="355.9" cy="353.0" r="1.95"/><circle cx="368.5" cy="353.5" r="1.95"/><circle cx="353.6" cy="350.5" r="1.95"/><circle cx="343.6" cy="351.9" r="1.95"/><circle cx="371.8" cy="353.6" r="1.95"/><circle cx="361.8" cy="348.0" r="1.95"/><circle cx="372.1" cy="351.4" r="1.95"/><circle cx="362.1" cy="348.3" r="1.95"/><circle cx="346.0" cy="348.0" r="1.95"/><circle cx="362.3" cy="353.6" r="1.95"/><circle cx="370.3" cy="353.1" r="1.95"/><circle cx="374.1" cy="348.7" r="1.95"/><circle cx="362.0" cy="347.1" r="1.95"/><circle cx="362.0" cy="352.7" r="1.95"/><circle cx="373.6" cy="349.9" r="1.95"/><circle cx="342.9" cy="353.5" r="1.95"/><circle cx="366.1" cy="352.8" r="1.95"/><circle cx="362.7" cy="352.9" r="1.95"/><circle cx="353.8" cy="325.8" r="1.95"/><circle cx="372.3" cy="343.6" r="1.95"/><circle cx="353.9" cy="335.1" r="1.95"/><circle cx="363.7" cy="329.1" r="1.95"/><circle cx="375.4" cy="328.4" r="1.95"/><circle cx="373.2" cy="331.7" r="1.95"/><circle cx="351.1" cy="345.8" r="1.95"/><circle cx="351.2" cy="323.7" r="1.95"/><circle cx="347.0" cy="330.1" r="1.95"/><circle cx="346.9" cy="325.1" r="1.95"/><circle cx="378.8" cy="327.6" r="1.95"/><circle cx="370.9" cy="326.6" r="1.95"/><circle cx="346.5" cy="321.3" r="1.95"/><circle cx="350.3" cy="345.6" r="1.95"/></g>
<circle cx="419.3" cy="299.8" r="1.8" fill="#1fb1c1"/>
<rect x="419.2" y="205.6" width="72" height="60.2" fill="#fff" stroke="#444" stroke-width="0.7"/>
<circle cx="426" cy="212.4" r="2.6" fill="#dedede"/>
<circle cx="426" cy="225.4" r="2.5" fill="#dedede" stroke="#666" stroke-width="0.5"/>
<circle cx="426" cy="238.1" r="2.6" fill="#111"/>
<circle cx="426" cy="258.5" r="2.6" fill="#1fb1c1"/>
<text x="432.7" y="214.2" font-size="7" fill="#333" font-weight="normal" textLength="54.3" lengthAdjust="spacing">All available pairs</text>
<text x="432.7" y="227.4" font-size="7" fill="#333" textLength="54.6" lengthAdjust="spacing">Pairs with τ<tspan font-size="3.8" dy="1.3">max</tspan><tspan dy="-1.3"> = 0</tspan></text>
<text x="432.7" y="240.6" font-size="7" fill="#333" font-weight="normal" textLength="37.5" lengthAdjust="spacing">Functionally</text>
<text x="432.7" y="248.6" font-size="7" fill="#333" font-weight="normal" textLength="50.5" lengthAdjust="spacing">connected pairs</text>
<text x="432.7" y="261" font-size="7" fill="#333" font-weight="normal" textLength="54.9" lengthAdjust="spacing">Example in Fig 1d</text>
<text x="527" y="8.9" font-size="10.4" fill="#505050" font-weight="normal" textLength="158.6" lengthAdjust="spacing">Coherence of functionally connected</text>
<text x="533.8" y="21" font-size="10.4" fill="#505050" font-weight="normal" textLength="145.0" lengthAdjust="spacing">electrode pairs for all participants</text>
<path d="M535.4 33V178.3H678" fill="none" stroke="#555" stroke-width="0.7"/>
<text x="531.5" y="96.3" font-size="8" fill="#222" text-anchor="end" font-weight="normal" >0.1</text>
<text x="531.5" y="181.2" font-size="8" fill="#222" text-anchor="end" font-weight="normal" >0</text>
<text x="549.5" y="189.2" font-size="8" fill="#222" text-anchor="middle" font-weight="normal" >4</text>
<text x="584.8" y="189.2" font-size="8" fill="#222" text-anchor="middle" font-weight="normal" >8</text>
<text x="620.1" y="189.2" font-size="8" fill="#222" text-anchor="middle" font-weight="normal" >16</text>
<text x="655.4" y="189.2" font-size="8" fill="#222" text-anchor="middle" font-weight="normal" >32</text>
<text x="678.1281234990478" y="189.2" font-size="8" fill="#222" text-anchor="middle" font-weight="normal" >50</text>
<text x="561.8" y="201.3" font-size="8.2" fill="#505050" font-weight="normal" textLength="101.4" lengthAdjust="spacing">Log-Scaled Frequency (Hz)</text>
<text transform="translate(514.2 93.5) rotate(-90)" font-size="8.3" fill="#505050" text-anchor="middle">Coherence</text>
<g fill="none" stroke="#b6b6b6" stroke-width="0.55" stroke-linejoin="round">
<path d="M534.8 123.4L549.5 117.3L560.9 120.1L570.1 118.6L578.0 111.6L584.8 114.3L590.8 124.9L596.2 126.4L601.0 130.9L605.4 134.5L609.5 136.4L613.3 133.5L620.1 139.0L626.1 140.8L631.5 146.1L636.3 145.7L640.7 145.6L644.8 147.7L648.6 148.8L652.1 148.5L655.4 149.1L660.0 149.6L664.2 151.2L668.0 151.5L671.6 152.0L675.0 151.7L678.1 151.8"/>
<path d="M534.8 118.8L549.5 123.5L560.9 110.4L570.1 118.6L578.0 118.8L584.8 115.1L590.8 124.1L596.2 127.2L601.0 128.7L605.4 133.1L609.5 133.1L613.3 135.6L620.1 138.3L626.1 139.9L631.5 145.1L636.3 147.4L640.7 149.8L644.8 149.5L648.6 149.3L652.1 150.4L655.4 152.5L660.0 151.6L664.2 155.3L668.0 154.7L671.6 155.6L675.0 156.3L678.1 156.2"/>
<path d="M534.8 61.0L549.5 79.4L560.9 89.2L570.1 107.9L578.0 105.9L584.8 94.8L590.8 114.0L596.2 123.0L601.0 131.9L605.4 139.8L609.5 142.0L613.3 142.1L620.1 146.3L626.1 149.2L631.5 149.2L636.3 150.8L640.7 150.5L644.8 151.1L648.6 150.3L652.1 151.9L655.4 152.8L660.0 154.9L664.2 154.4L668.0 155.0L671.6 155.1L675.0 154.4L678.1 153.4"/>
<path d="M534.8 69.2L549.5 86.3L560.9 96.3L570.1 109.6L578.0 111.6L584.8 116.7L590.8 127.7L596.2 133.3L601.0 142.0L605.4 146.5L609.5 149.1L613.3 153.6L620.1 149.0L626.1 152.0L631.5 151.7L636.3 153.4L640.7 155.7L644.8 152.0L648.6 153.2L652.1 154.1L655.4 153.9L660.0 154.7L664.2 153.2L668.0 154.6L671.6 153.6L675.0 152.9L678.1 153.3"/>
<path d="M534.8 74.4L549.5 86.1L560.9 104.7L570.1 112.9L578.0 112.1L584.8 118.1L590.8 124.9L596.2 137.7L601.0 137.6L605.4 144.8L609.5 146.8L613.3 145.6L620.1 150.1L626.1 151.3L631.5 151.3L636.3 153.0L640.7 151.7L644.8 151.6L648.6 153.4L652.1 153.5L655.4 153.6L660.0 154.6L664.2 154.7L668.0 154.1L671.6 154.9L675.0 153.4L678.1 153.9"/>
<path d="M534.8 123.5L549.5 119.0L560.9 112.4L570.1 116.7L578.0 97.0L584.8 111.6L590.8 118.0L596.2 124.0L601.0 128.8L605.4 132.0L609.5 133.5L613.3 134.8L620.1 136.7L626.1 141.4L631.5 142.8L636.3 143.2L640.7 146.6L644.8 145.1L648.6 147.0L652.1 145.1L655.4 147.1L660.0 149.3L664.2 149.6L668.0 148.7L671.6 150.0L675.0 150.3L678.1 149.6"/>
<path d="M534.8 83.6L549.5 95.7L560.9 106.4L570.1 110.1L578.0 104.7L584.8 113.3L590.8 117.6L596.2 124.8L601.0 135.8L605.4 133.1L609.5 136.7L613.3 141.6L620.1 143.0L626.1 144.2L631.5 146.4L636.3 149.1L640.7 149.7L644.8 149.6L648.6 151.6L652.1 151.2L655.4 152.2L660.0 152.6L664.2 152.3L668.0 152.9L671.6 152.7L675.0 153.6L678.1 152.6"/>
<path d="M534.8 117.1L549.5 106.6L560.9 111.8L570.1 115.1L578.0 104.8L584.8 103.4L590.8 109.2L596.2 116.2L601.0 121.4L605.4 126.2L609.5 127.3L613.3 130.1L620.1 136.5L626.1 135.7L631.5 140.9L636.3 143.2L640.7 141.0L644.8 144.3L648.6 145.3L652.1 146.2L655.4 148.0L660.0 148.6L664.2 150.0L668.0 150.3L671.6 151.2L675.0 150.9L678.1 152.5"/>
<path d="M534.8 82.9L549.5 95.3L560.9 83.6L570.1 105.9L578.0 109.5L584.8 118.0L590.8 120.2L596.2 130.0L601.0 136.3L605.4 138.4L609.5 141.8L613.3 142.8L620.1 145.7L626.1 148.6L631.5 149.5L636.3 154.7L640.7 153.0L644.8 155.0L648.6 155.2L652.1 156.2L655.4 157.7L660.0 159.0L664.2 159.2L668.0 160.2L671.6 160.6L675.0 160.6L678.1 161.2"/>
<path d="M534.8 76.4L549.5 96.4L560.9 113.6L570.1 127.4L578.0 124.1L584.8 132.3L590.8 141.1L596.2 144.3L601.0 151.2L605.4 153.8L609.5 155.6L613.3 154.2L620.1 156.0L626.1 155.2L631.5 158.4L636.3 157.1L640.7 158.0L644.8 157.2L648.6 156.1L652.1 155.2L655.4 155.8L660.0 155.7L664.2 155.6L668.0 155.9L671.6 154.7L675.0 155.2L678.1 154.3"/>
<path d="M534.8 78.1L549.5 77.6L560.9 79.2L570.1 91.2L578.0 92.2L584.8 90.8L590.8 101.4L596.2 112.4L601.0 118.3L605.4 125.1L609.5 126.8L613.3 127.3L620.1 133.1L626.1 135.9L631.5 138.2L636.3 140.2L640.7 142.0L644.8 143.5L648.6 145.3L652.1 145.9L655.4 146.4L660.0 147.5L664.2 149.5L668.0 150.5L671.6 151.7L675.0 150.9L678.1 150.7"/>
<path d="M534.8 86.0L549.5 95.3L560.9 102.2L570.1 104.2L578.0 107.6L584.8 103.4L590.8 121.8L596.2 125.7L601.0 134.0L605.4 139.1L609.5 138.2L613.3 143.6L620.1 143.9L626.1 148.4L631.5 152.3L636.3 153.3L640.7 152.7L644.8 156.2L648.6 154.2L652.1 155.0L655.4 158.3L660.0 159.5L664.2 158.9L668.0 160.6L671.6 160.8L675.0 160.5L678.1 160.8"/>
<path d="M534.8 78.8L549.5 90.7L560.9 95.7L570.1 103.8L578.0 100.0L584.8 94.2L590.8 118.7L596.2 121.4L601.0 130.2L605.4 135.8L609.5 135.3L613.3 139.8L620.1 142.8L626.1 143.7L631.5 150.1L636.3 149.6L640.7 152.4L644.8 151.6L648.6 154.5L652.1 154.2L655.4 155.3L660.0 156.2L664.2 157.1L668.0 158.4L671.6 159.7L675.0 159.5L678.1 160.2"/>
<path d="M534.8 94.9L549.5 98.6L560.9 109.9L570.1 110.3L578.0 114.6L584.8 99.5L590.8 125.0L596.2 129.2L601.0 136.5L605.4 140.5L609.5 140.5L613.3 144.4L620.1 143.6L626.1 147.1L631.5 145.8L636.3 149.6L640.7 151.5L644.8 152.5L648.6 151.8L652.1 151.5L655.4 152.5L660.0 154.1L664.2 154.0L668.0 154.5L671.6 155.5L675.0 154.6L678.1 153.6"/>
<path d="M534.8 123.4L549.5 130.0L560.9 124.3L570.1 131.4L578.0 129.8L584.8 128.7L590.8 134.9L596.2 139.1L601.0 142.0L605.4 142.3L609.5 148.4L613.3 148.8L620.1 146.4L626.1 147.6L631.5 150.2L636.3 148.2L640.7 149.4L644.8 149.8L648.6 149.4L652.1 147.8L655.4 150.6L660.0 150.6L664.2 149.5L668.0 149.4L671.6 150.4L675.0 149.8L678.1 148.3"/>
<path d="M534.8 71.8L549.5 79.9L560.9 88.1L570.1 92.2L578.0 89.8L584.8 97.1L590.8 106.1L596.2 112.1L601.0 120.5L605.4 124.3L609.5 126.2L613.3 128.0L620.1 134.2L626.1 138.5L631.5 140.3L636.3 141.9L640.7 143.1L644.8 144.8L648.6 147.1L652.1 147.8L655.4 148.0L660.0 149.7L664.2 151.7L668.0 152.6L671.6 154.2L675.0 154.2L678.1 153.7"/>
<path d="M534.8 99.3L549.5 110.8L560.9 119.6L570.1 123.1L578.0 106.6L584.8 124.4L590.8 135.0L596.2 138.6L601.0 144.8L605.4 147.7L609.5 150.4L613.3 151.8L620.1 151.0L626.1 152.3L631.5 152.3L636.3 152.5L640.7 153.8L644.8 153.7L648.6 153.3L652.1 153.1L655.4 155.0L660.0 154.1L664.2 154.0L668.0 154.5L671.6 153.8L675.0 153.7L678.1 152.8"/>
<path d="M534.8 76.5L549.5 87.7L560.9 91.3L570.1 81.1L578.0 101.6L584.8 103.4L590.8 110.0L596.2 118.3L601.0 123.3L605.4 130.9L609.5 132.4L613.3 133.2L620.1 135.8L626.1 139.3L631.5 143.4L636.3 145.8L640.7 146.0L644.8 147.1L648.6 149.6L652.1 150.0L655.4 152.8L660.0 152.6L664.2 153.9L668.0 154.0L671.6 155.0L675.0 155.7L678.1 155.5"/>
<path d="M534.8 80.8L549.5 96.1L560.9 101.9L570.1 117.1L578.0 111.8L584.8 119.8L590.8 124.8L596.2 132.3L601.0 138.9L605.4 143.3L609.5 147.4L613.3 149.9L620.1 149.5L626.1 152.3L631.5 153.6L636.3 155.6L640.7 153.3L644.8 154.3L648.6 155.0L652.1 155.0L655.4 155.8L660.0 155.4L664.2 155.9L668.0 156.0L671.6 156.2L675.0 155.7L678.1 155.9"/>
<path d="M534.8 101.1L549.5 109.5L560.9 103.7L570.1 127.5L578.0 120.8L584.8 127.5L590.8 134.2L596.2 138.2L601.0 140.7L605.4 149.2L609.5 147.6L613.3 149.4L620.1 154.7L626.1 150.6L631.5 153.0L636.3 153.2L640.7 152.5L644.8 151.6L648.6 153.4L652.1 152.9L655.4 153.8L660.0 153.8L664.2 152.7L668.0 153.5L671.6 152.6L675.0 153.7L678.1 151.7"/>
<path d="M535.4 70L549.9 50L561.8 55L571 92L580 105L590 125L600 135"/>
<path d="M535.4 95L549.4 67.8L560 90L571 105L578 75L584.7 43.7L592 85L600 110L610 130L622 140"/>
<path d="M560 120L575 95L584.7 71L592 85L600 115"/>
</g>
<path d="M535.4 97.6C537.8 98.8 545.4 102.5 549.9 105.0C554.4 107.5 558.8 110.8 562.3 112.9C565.8 115.0 568.4 116.7 571.0 117.4C573.6 118.1 575.4 116.7 577.7 116.9C580.0 117.1 582.3 117.0 584.7 118.7C587.1 120.5 589.5 124.1 592.2 127.4C594.9 130.7 598.0 135.8 600.9 138.6C603.8 141.4 606.1 142.8 609.6 144.3C613.1 145.8 617.9 146.6 622.0 147.8C626.1 149.0 630.4 150.7 634.5 151.5C638.6 152.3 642.8 152.2 646.9 152.7C651.0 153.2 655.1 154.2 659.3 154.7C663.4 155.2 668.8 155.6 671.8 155.7C674.8 155.8 676.5 155.3 677.5 155.2" fill="none" stroke="#5252df" stroke-width="1.4"/>
<path d="M535.4 233.4V376H678" fill="none" stroke="#555" stroke-width="0.7"/>
<path d="M626.6 374V376M677.6 374V376M536 220.5H538" stroke="#555" stroke-width="0.6"/>
<rect x="544.4" y="287.1" width="5.3" height="88.8" fill="#d3d3ea" stroke="#666" stroke-width="0.6"/>
<rect x="549.7" y="251.6" width="5.6" height="124.2" fill="#d3d3ea" stroke="#666" stroke-width="0.6"/>
<rect x="555.9" y="340.3" width="4.9" height="35.5" fill="#d3d3ea" stroke="#666" stroke-width="0.6"/>
<rect x="561.2" y="340.3" width="5.4" height="35.5" fill="#d3d3ea" stroke="#666" stroke-width="0.6"/>
<rect x="578.3" y="340.3" width="5.6" height="35.5" fill="#d3d3ea" stroke="#666" stroke-width="0.6"/>
<rect x="607.2" y="358.1" width="5.1" height="17.8" fill="#d3d3ea" stroke="#666" stroke-width="0.6"/>
<rect x="612.5" y="358.1" width="5.2" height="17.8" fill="#d3d3ea" stroke="#666" stroke-width="0.6"/>
<text x="531.5" y="378.7" font-size="8" fill="#222" text-anchor="end" font-weight="normal" >0</text>
<text x="531.5" y="307.7" font-size="8" fill="#222" text-anchor="end" font-weight="normal" >4</text>
<text x="531.5" y="236.70000000000002" font-size="8" fill="#222" text-anchor="end" font-weight="normal" >8</text>
<text x="546.7" y="386.5" font-size="8" fill="#222" text-anchor="middle" font-weight="normal" >4</text>
<text x="558.4" y="386.5" font-size="8" fill="#222" text-anchor="middle" font-weight="normal" >8</text>
<text x="581" y="386.5" font-size="8" fill="#222" text-anchor="middle" font-weight="normal" >16</text>
<text x="626.6" y="386.5" font-size="8" fill="#222" text-anchor="middle" font-weight="normal" >32</text>
<text x="677" y="386.5" font-size="8" fill="#222" text-anchor="middle" font-weight="normal" >50</text>
<text x="548.4" y="400.5" font-size="8.2" fill="#505050" font-weight="normal" textLength="121.9" lengthAdjust="spacing">Peak Coherence Frequency (Hz)</text>
<text transform="translate(521 305) rotate(-90)" font-size="8.3" fill="#505050" text-anchor="middle">Participant count</text>
</svg>
</body></html>
